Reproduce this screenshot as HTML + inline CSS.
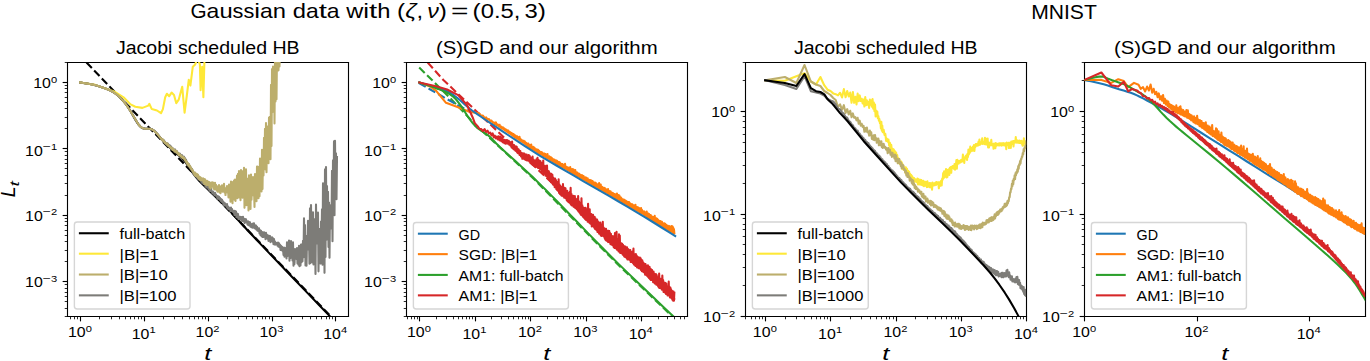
<!DOCTYPE html>
<html><head><meta charset="utf-8"><title>figure</title>
<style>html,body{margin:0;padding:0;background:#fff;overflow:hidden}
svg{display:block}
text{font-family:"Liberation Sans",sans-serif}
</style></head><body>
<svg width="1370" height="361" viewBox="0 0 986.4 259.92" version="1.1">
<defs>
<style type="text/css">*{stroke-linejoin: round; stroke-linecap: butt}</style>
</defs>
<g id="figure_1">
<g id="patch_1">
<path d="M 0 259.92 
L 986.4 259.92 
L 986.4 0 
L 0 0 
z
" style="fill: #ffffff"/>
</g>
<g id="axes_1">
<g id="patch_2">
<path d="M 48.55 227.52 
L 250.67 227.52 
L 250.67 44.64 
L 48.55 44.64 
z
" style="fill: #ffffff"/>
</g>
<g id="line2d_1">
<path d="M 62.28 45 
L 238.32 227.88 
" clip-path="url(#pd9ea89037b)" style="fill: none; stroke-dasharray: 5.55,2.4; stroke-dashoffset: 0; stroke: #000000; stroke-width: 1.5"/>
</g>
<g id="matplotlib.axis_1">
<g id="xtick_1">
<g id="line2d_2">
<defs>
<path id="m1504cfccaf" d="M 0 0 
L 0 3.5 
" style="stroke: #000000; stroke-width: 0.8"/>
</defs>
<g>
<use href="#m1504cfccaf" x="57.96" y="227.88" style="stroke: #000000; stroke-width: 0.8"/>
</g>
</g>
<g id="text_1">
<g transform="translate(48.94 243.91)">
<text>
<tspan x="0" y="-0.97" style="font-size: 10px; font-family: 'Liberation Sans', sans-serif" textLength="6.36" lengthAdjust="spacingAndGlyphs">1</tspan>
<tspan x="6.36" y="-0.97" style="font-size: 10px; font-family: 'Liberation Sans', sans-serif" textLength="6.36" lengthAdjust="spacingAndGlyphs">0</tspan>
<tspan x="12.82" y="-4.80" style="font-size: 7px; font-family: 'Liberation Sans', sans-serif" textLength="4.45" lengthAdjust="spacingAndGlyphs">0</tspan>
</text>
</g>
</g>
</g>
<g id="xtick_2">
<g id="line2d_3">
<g>
<use href="#m1504cfccaf" x="104.04" y="227.88" style="stroke: #000000; stroke-width: 0.8"/>
</g>
</g>
<g id="text_2">
<g transform="translate(94.88 243.91)">
<text>
<tspan x="0" y="-0.06" style="font-size: 10px; font-family: 'Liberation Sans', sans-serif" textLength="6.36" lengthAdjust="spacingAndGlyphs">1</tspan>
<tspan x="6.36" y="-0.06" style="font-size: 10px; font-family: 'Liberation Sans', sans-serif" textLength="6.36" lengthAdjust="spacingAndGlyphs">0</tspan>
<tspan x="12.82" y="-3.89" style="font-size: 7px; font-family: 'Liberation Sans', sans-serif" textLength="4.45" lengthAdjust="spacingAndGlyphs">1</tspan>
</text>
</g>
</g>
</g>
<g id="xtick_3">
<g id="line2d_4">
<g>
<use href="#m1504cfccaf" x="150.12" y="227.88" style="stroke: #000000; stroke-width: 0.8"/>
</g>
</g>
<g id="text_3">
<g transform="translate(140.81 243.91)">
<text>
<tspan x="0" y="-0.97" style="font-size: 10px; font-family: 'Liberation Sans', sans-serif" textLength="6.36" lengthAdjust="spacingAndGlyphs">1</tspan>
<tspan x="6.36" y="-0.97" style="font-size: 10px; font-family: 'Liberation Sans', sans-serif" textLength="6.36" lengthAdjust="spacingAndGlyphs">0</tspan>
<tspan x="12.82" y="-4.80" style="font-size: 7px; font-family: 'Liberation Sans', sans-serif" textLength="4.45" lengthAdjust="spacingAndGlyphs">2</tspan>
</text>
</g>
</g>
</g>
<g id="xtick_4">
<g id="line2d_5">
<g>
<use href="#m1504cfccaf" x="196.20" y="227.88" style="stroke: #000000; stroke-width: 0.8"/>
</g>
</g>
<g id="text_4">
<g transform="translate(186.75 243.91)">
<text>
<tspan x="0" y="-0.97" style="font-size: 10px; font-family: 'Liberation Sans', sans-serif" textLength="6.36" lengthAdjust="spacingAndGlyphs">1</tspan>
<tspan x="6.36" y="-0.97" style="font-size: 10px; font-family: 'Liberation Sans', sans-serif" textLength="6.36" lengthAdjust="spacingAndGlyphs">0</tspan>
<tspan x="12.82" y="-4.80" style="font-size: 7px; font-family: 'Liberation Sans', sans-serif" textLength="4.45" lengthAdjust="spacingAndGlyphs">3</tspan>
</text>
</g>
</g>
</g>
<g id="xtick_5">
<g id="line2d_6">
<g>
<use href="#m1504cfccaf" x="241.56" y="227.88" style="stroke: #000000; stroke-width: 0.8"/>
</g>
</g>
<g id="text_5">
<g transform="translate(232.68 243.91)">
<text>
<tspan x="0" y="-0.06" style="font-size: 10px; font-family: 'Liberation Sans', sans-serif" textLength="6.36" lengthAdjust="spacingAndGlyphs">1</tspan>
<tspan x="6.36" y="-0.06" style="font-size: 10px; font-family: 'Liberation Sans', sans-serif" textLength="6.36" lengthAdjust="spacingAndGlyphs">0</tspan>
<tspan x="12.82" y="-3.89" style="font-size: 7px; font-family: 'Liberation Sans', sans-serif" textLength="4.45" lengthAdjust="spacingAndGlyphs">4</tspan>
</text>
</g>
</g>
</g>
<g id="xtick_6">
<g id="line2d_7">
<defs>
<path id="m05db3bdf9b" d="M 0 0 
L 0 2 
" style="stroke: #000000; stroke-width: 0.6"/>
</defs>
<g>
<use href="#m05db3bdf9b" x="50.76" y="227.88" style="stroke: #000000; stroke-width: 0.6"/>
</g>
</g>
</g>
<g id="xtick_7">
<g id="line2d_8">
<g>
<use href="#m05db3bdf9b" x="53.64" y="227.88" style="stroke: #000000; stroke-width: 0.6"/>
</g>
</g>
</g>
<g id="xtick_8">
<g id="line2d_9">
<g>
<use href="#m05db3bdf9b" x="55.80" y="227.88" style="stroke: #000000; stroke-width: 0.6"/>
</g>
</g>
</g>
<g id="xtick_9">
<g id="line2d_10">
<g>
<use href="#m05db3bdf9b" x="71.64" y="227.88" style="stroke: #000000; stroke-width: 0.6"/>
</g>
</g>
</g>
<g id="xtick_10">
<g id="line2d_11">
<g>
<use href="#m05db3bdf9b" x="80.28" y="227.88" style="stroke: #000000; stroke-width: 0.6"/>
</g>
</g>
</g>
<g id="xtick_11">
<g id="line2d_12">
<g>
<use href="#m05db3bdf9b" x="86.04" y="227.88" style="stroke: #000000; stroke-width: 0.6"/>
</g>
</g>
</g>
<g id="xtick_12">
<g id="line2d_13">
<g>
<use href="#m05db3bdf9b" x="90.36" y="227.88" style="stroke: #000000; stroke-width: 0.6"/>
</g>
</g>
</g>
<g id="xtick_13">
<g id="line2d_14">
<g>
<use href="#m05db3bdf9b" x="93.96" y="227.88" style="stroke: #000000; stroke-width: 0.6"/>
</g>
</g>
</g>
<g id="xtick_14">
<g id="line2d_15">
<g>
<use href="#m05db3bdf9b" x="96.84" y="227.88" style="stroke: #000000; stroke-width: 0.6"/>
</g>
</g>
</g>
<g id="xtick_15">
<g id="line2d_16">
<g>
<use href="#m05db3bdf9b" x="99.72" y="227.88" style="stroke: #000000; stroke-width: 0.6"/>
</g>
</g>
</g>
<g id="xtick_16">
<g id="line2d_17">
<g>
<use href="#m05db3bdf9b" x="101.88" y="227.88" style="stroke: #000000; stroke-width: 0.6"/>
</g>
</g>
</g>
<g id="xtick_17">
<g id="line2d_18">
<g>
<use href="#m05db3bdf9b" x="117.72" y="227.88" style="stroke: #000000; stroke-width: 0.6"/>
</g>
</g>
</g>
<g id="xtick_18">
<g id="line2d_19">
<g>
<use href="#m05db3bdf9b" x="125.64" y="227.88" style="stroke: #000000; stroke-width: 0.6"/>
</g>
</g>
</g>
<g id="xtick_19">
<g id="line2d_20">
<g>
<use href="#m05db3bdf9b" x="131.40" y="227.88" style="stroke: #000000; stroke-width: 0.6"/>
</g>
</g>
</g>
<g id="xtick_20">
<g id="line2d_21">
<g>
<use href="#m05db3bdf9b" x="136.44" y="227.88" style="stroke: #000000; stroke-width: 0.6"/>
</g>
</g>
</g>
<g id="xtick_21">
<g id="line2d_22">
<g>
<use href="#m05db3bdf9b" x="140.04" y="227.88" style="stroke: #000000; stroke-width: 0.6"/>
</g>
</g>
</g>
<g id="xtick_22">
<g id="line2d_23">
<g>
<use href="#m05db3bdf9b" x="142.92" y="227.88" style="stroke: #000000; stroke-width: 0.6"/>
</g>
</g>
</g>
<g id="xtick_23">
<g id="line2d_24">
<g>
<use href="#m05db3bdf9b" x="145.80" y="227.88" style="stroke: #000000; stroke-width: 0.6"/>
</g>
</g>
</g>
<g id="xtick_24">
<g id="line2d_25">
<g>
<use href="#m05db3bdf9b" x="147.96" y="227.88" style="stroke: #000000; stroke-width: 0.6"/>
</g>
</g>
</g>
<g id="xtick_25">
<g id="line2d_26">
<g>
<use href="#m05db3bdf9b" x="163.80" y="227.88" style="stroke: #000000; stroke-width: 0.6"/>
</g>
</g>
</g>
<g id="xtick_26">
<g id="line2d_27">
<g>
<use href="#m05db3bdf9b" x="171.72" y="227.88" style="stroke: #000000; stroke-width: 0.6"/>
</g>
</g>
</g>
<g id="xtick_27">
<g id="line2d_28">
<g>
<use href="#m05db3bdf9b" x="177.48" y="227.88" style="stroke: #000000; stroke-width: 0.6"/>
</g>
</g>
</g>
<g id="xtick_28">
<g id="line2d_29">
<g>
<use href="#m05db3bdf9b" x="181.80" y="227.88" style="stroke: #000000; stroke-width: 0.6"/>
</g>
</g>
</g>
<g id="xtick_29">
<g id="line2d_30">
<g>
<use href="#m05db3bdf9b" x="185.40" y="227.88" style="stroke: #000000; stroke-width: 0.6"/>
</g>
</g>
</g>
<g id="xtick_30">
<g id="line2d_31">
<g>
<use href="#m05db3bdf9b" x="189.00" y="227.88" style="stroke: #000000; stroke-width: 0.6"/>
</g>
</g>
</g>
<g id="xtick_31">
<g id="line2d_32">
<g>
<use href="#m05db3bdf9b" x="191.16" y="227.88" style="stroke: #000000; stroke-width: 0.6"/>
</g>
</g>
</g>
<g id="xtick_32">
<g id="line2d_33">
<g>
<use href="#m05db3bdf9b" x="194.04" y="227.88" style="stroke: #000000; stroke-width: 0.6"/>
</g>
</g>
</g>
<g id="xtick_33">
<g id="line2d_34">
<g>
<use href="#m05db3bdf9b" x="209.88" y="227.88" style="stroke: #000000; stroke-width: 0.6"/>
</g>
</g>
</g>
<g id="xtick_34">
<g id="line2d_35">
<g>
<use href="#m05db3bdf9b" x="217.80" y="227.88" style="stroke: #000000; stroke-width: 0.6"/>
</g>
</g>
</g>
<g id="xtick_35">
<g id="line2d_36">
<g>
<use href="#m05db3bdf9b" x="223.56" y="227.88" style="stroke: #000000; stroke-width: 0.6"/>
</g>
</g>
</g>
<g id="xtick_36">
<g id="line2d_37">
<g>
<use href="#m05db3bdf9b" x="227.88" y="227.88" style="stroke: #000000; stroke-width: 0.6"/>
</g>
</g>
</g>
<g id="xtick_37">
<g id="line2d_38">
<g>
<use href="#m05db3bdf9b" x="231.48" y="227.88" style="stroke: #000000; stroke-width: 0.6"/>
</g>
</g>
</g>
<g id="xtick_38">
<g id="line2d_39">
<g>
<use href="#m05db3bdf9b" x="235.08" y="227.88" style="stroke: #000000; stroke-width: 0.6"/>
</g>
</g>
</g>
<g id="xtick_39">
<g id="line2d_40">
<g>
<use href="#m05db3bdf9b" x="237.24" y="227.88" style="stroke: #000000; stroke-width: 0.6"/>
</g>
</g>
</g>
<g id="xtick_40">
<g id="line2d_41">
<g>
<use href="#m05db3bdf9b" x="239.40" y="227.88" style="stroke: #000000; stroke-width: 0.6"/>
</g>
</g>
</g>
<g id="text_6">
<g transform="translate(147.01 259.89)">
<text>
<tspan x="0" y="-0.87" style="font-style: oblique; font-size: 13px; font-family: 'Liberation Sans', sans-serif" textLength="5.10" lengthAdjust="spacingAndGlyphs">t</tspan>
</text>
</g>
</g>
</g>
<g id="matplotlib.axis_2">
<g id="ytick_1">
<g id="line2d_42">
<defs>
<path id="m5d545ce8f8" d="M 0 0 
L -3.5 0 
" style="stroke: #000000; stroke-width: 0.8"/>
</defs>
<g>
<use href="#m5d545ce8f8" x="48.60" y="202.68" style="stroke: #000000; stroke-width: 0.8"/>
</g>
</g>
<g id="text_7">
<g transform="translate(18.05 207.75)">
<text>
<tspan x="0" y="-0.97" style="font-size: 10px; font-family: 'Liberation Sans', sans-serif" textLength="6.36" lengthAdjust="spacingAndGlyphs">1</tspan>
<tspan x="6.36" y="-0.97" style="font-size: 10px; font-family: 'Liberation Sans', sans-serif" textLength="6.36" lengthAdjust="spacingAndGlyphs">0</tspan>
<tspan x="12.82" y="-4.80" style="font-size: 7px; font-family: 'Liberation Sans', sans-serif" textLength="5.87" lengthAdjust="spacingAndGlyphs">−</tspan>
<tspan x="18.68" y="-4.80" style="font-size: 7px; font-family: 'Liberation Sans', sans-serif" textLength="4.45" lengthAdjust="spacingAndGlyphs">3</tspan>
</text>
</g>
</g>
</g>
<g id="ytick_2">
<g id="line2d_43">
<g>
<use href="#m5d545ce8f8" x="48.60" y="155.16" style="stroke: #000000; stroke-width: 0.8"/>
</g>
</g>
<g id="text_8">
<g transform="translate(18.05 159.92)">
<text>
<tspan x="0" y="-0.97" style="font-size: 10px; font-family: 'Liberation Sans', sans-serif" textLength="6.36" lengthAdjust="spacingAndGlyphs">1</tspan>
<tspan x="6.36" y="-0.97" style="font-size: 10px; font-family: 'Liberation Sans', sans-serif" textLength="6.36" lengthAdjust="spacingAndGlyphs">0</tspan>
<tspan x="12.82" y="-4.80" style="font-size: 7px; font-family: 'Liberation Sans', sans-serif" textLength="5.87" lengthAdjust="spacingAndGlyphs">−</tspan>
<tspan x="18.68" y="-4.80" style="font-size: 7px; font-family: 'Liberation Sans', sans-serif" textLength="4.45" lengthAdjust="spacingAndGlyphs">2</tspan>
</text>
</g>
</g>
</g>
<g id="ytick_3">
<g id="line2d_44">
<g>
<use href="#m5d545ce8f8" x="48.60" y="106.92" style="stroke: #000000; stroke-width: 0.8"/>
</g>
</g>
<g id="text_9">
<g transform="translate(18.05 112.10)">
<text>
<tspan x="0" y="-0.06" style="font-size: 10px; font-family: 'Liberation Sans', sans-serif" textLength="6.36" lengthAdjust="spacingAndGlyphs">1</tspan>
<tspan x="6.36" y="-0.06" style="font-size: 10px; font-family: 'Liberation Sans', sans-serif" textLength="6.36" lengthAdjust="spacingAndGlyphs">0</tspan>
<tspan x="12.82" y="-3.89" style="font-size: 7px; font-family: 'Liberation Sans', sans-serif" textLength="5.87" lengthAdjust="spacingAndGlyphs">−</tspan>
<tspan x="18.68" y="-3.89" style="font-size: 7px; font-family: 'Liberation Sans', sans-serif" textLength="4.45" lengthAdjust="spacingAndGlyphs">1</tspan>
</text>
</g>
</g>
</g>
<g id="ytick_4">
<g id="line2d_45">
<g>
<use href="#m5d545ce8f8" x="48.60" y="59.40" style="stroke: #000000; stroke-width: 0.8"/>
</g>
</g>
<g id="text_10">
<g transform="translate(23.95 64.27)">
<text>
<tspan x="0" y="-0.97" style="font-size: 10px; font-family: 'Liberation Sans', sans-serif" textLength="6.36" lengthAdjust="spacingAndGlyphs">1</tspan>
<tspan x="6.36" y="-0.97" style="font-size: 10px; font-family: 'Liberation Sans', sans-serif" textLength="6.36" lengthAdjust="spacingAndGlyphs">0</tspan>
<tspan x="12.82" y="-4.80" style="font-size: 7px; font-family: 'Liberation Sans', sans-serif" textLength="4.45" lengthAdjust="spacingAndGlyphs">0</tspan>
</text>
</g>
</g>
</g>
<g id="ytick_5">
<g id="line2d_46">
<defs>
<path id="mc3d89a154a" d="M 0 0 
L -2 0 
" style="stroke: #000000; stroke-width: 0.6"/>
</defs>
<g>
<use href="#mc3d89a154a" x="48.60" y="227.88" style="stroke: #000000; stroke-width: 0.6"/>
</g>
</g>
</g>
<g id="ytick_6">
<g id="line2d_47">
<g>
<use href="#mc3d89a154a" x="48.60" y="222.12" style="stroke: #000000; stroke-width: 0.6"/>
</g>
</g>
</g>
<g id="ytick_7">
<g id="line2d_48">
<g>
<use href="#mc3d89a154a" x="48.60" y="217.08" style="stroke: #000000; stroke-width: 0.6"/>
</g>
</g>
</g>
<g id="ytick_8">
<g id="line2d_49">
<g>
<use href="#mc3d89a154a" x="48.60" y="213.48" style="stroke: #000000; stroke-width: 0.6"/>
</g>
</g>
</g>
<g id="ytick_9">
<g id="line2d_50">
<g>
<use href="#mc3d89a154a" x="48.60" y="210.60" style="stroke: #000000; stroke-width: 0.6"/>
</g>
</g>
</g>
<g id="ytick_10">
<g id="line2d_51">
<g>
<use href="#mc3d89a154a" x="48.60" y="207.72" style="stroke: #000000; stroke-width: 0.6"/>
</g>
</g>
</g>
<g id="ytick_11">
<g id="line2d_52">
<g>
<use href="#mc3d89a154a" x="48.60" y="204.84" style="stroke: #000000; stroke-width: 0.6"/>
</g>
</g>
</g>
<g id="ytick_12">
<g id="line2d_53">
<g>
<use href="#mc3d89a154a" x="48.60" y="188.28" style="stroke: #000000; stroke-width: 0.6"/>
</g>
</g>
</g>
<g id="ytick_13">
<g id="line2d_54">
<g>
<use href="#mc3d89a154a" x="48.60" y="180.36" style="stroke: #000000; stroke-width: 0.6"/>
</g>
</g>
</g>
<g id="ytick_14">
<g id="line2d_55">
<g>
<use href="#mc3d89a154a" x="48.60" y="173.88" style="stroke: #000000; stroke-width: 0.6"/>
</g>
</g>
</g>
<g id="ytick_15">
<g id="line2d_56">
<g>
<use href="#mc3d89a154a" x="48.60" y="169.56" style="stroke: #000000; stroke-width: 0.6"/>
</g>
</g>
</g>
<g id="ytick_16">
<g id="line2d_57">
<g>
<use href="#mc3d89a154a" x="48.60" y="165.96" style="stroke: #000000; stroke-width: 0.6"/>
</g>
</g>
</g>
<g id="ytick_17">
<g id="line2d_58">
<g>
<use href="#mc3d89a154a" x="48.60" y="162.36" style="stroke: #000000; stroke-width: 0.6"/>
</g>
</g>
</g>
<g id="ytick_18">
<g id="line2d_59">
<g>
<use href="#mc3d89a154a" x="48.60" y="159.48" style="stroke: #000000; stroke-width: 0.6"/>
</g>
</g>
</g>
<g id="ytick_19">
<g id="line2d_60">
<g>
<use href="#mc3d89a154a" x="48.60" y="157.32" style="stroke: #000000; stroke-width: 0.6"/>
</g>
</g>
</g>
<g id="ytick_20">
<g id="line2d_61">
<g>
<use href="#mc3d89a154a" x="48.60" y="140.76" style="stroke: #000000; stroke-width: 0.6"/>
</g>
</g>
</g>
<g id="ytick_21">
<g id="line2d_62">
<g>
<use href="#mc3d89a154a" x="48.60" y="132.12" style="stroke: #000000; stroke-width: 0.6"/>
</g>
</g>
</g>
<g id="ytick_22">
<g id="line2d_63">
<g>
<use href="#mc3d89a154a" x="48.60" y="126.36" style="stroke: #000000; stroke-width: 0.6"/>
</g>
</g>
</g>
<g id="ytick_23">
<g id="line2d_64">
<g>
<use href="#mc3d89a154a" x="48.60" y="121.32" style="stroke: #000000; stroke-width: 0.6"/>
</g>
</g>
</g>
<g id="ytick_24">
<g id="line2d_65">
<g>
<use href="#mc3d89a154a" x="48.60" y="117.72" style="stroke: #000000; stroke-width: 0.6"/>
</g>
</g>
</g>
<g id="ytick_25">
<g id="line2d_66">
<g>
<use href="#mc3d89a154a" x="48.60" y="114.84" style="stroke: #000000; stroke-width: 0.6"/>
</g>
</g>
</g>
<g id="ytick_26">
<g id="line2d_67">
<g>
<use href="#mc3d89a154a" x="48.60" y="111.96" style="stroke: #000000; stroke-width: 0.6"/>
</g>
</g>
</g>
<g id="ytick_27">
<g id="line2d_68">
<g>
<use href="#mc3d89a154a" x="48.60" y="109.08" style="stroke: #000000; stroke-width: 0.6"/>
</g>
</g>
</g>
<g id="ytick_28">
<g id="line2d_69">
<g>
<use href="#mc3d89a154a" x="48.60" y="92.52" style="stroke: #000000; stroke-width: 0.6"/>
</g>
</g>
</g>
<g id="ytick_29">
<g id="line2d_70">
<g>
<use href="#mc3d89a154a" x="48.60" y="84.60" style="stroke: #000000; stroke-width: 0.6"/>
</g>
</g>
</g>
<g id="ytick_30">
<g id="line2d_71">
<g>
<use href="#mc3d89a154a" x="48.60" y="78.12" style="stroke: #000000; stroke-width: 0.6"/>
</g>
</g>
</g>
<g id="ytick_31">
<g id="line2d_72">
<g>
<use href="#mc3d89a154a" x="48.60" y="73.80" style="stroke: #000000; stroke-width: 0.6"/>
</g>
</g>
</g>
<g id="ytick_32">
<g id="line2d_73">
<g>
<use href="#mc3d89a154a" x="48.60" y="70.20" style="stroke: #000000; stroke-width: 0.6"/>
</g>
</g>
</g>
<g id="ytick_33">
<g id="line2d_74">
<g>
<use href="#mc3d89a154a" x="48.60" y="66.60" style="stroke: #000000; stroke-width: 0.6"/>
</g>
</g>
</g>
<g id="ytick_34">
<g id="line2d_75">
<g>
<use href="#mc3d89a154a" x="48.60" y="63.72" style="stroke: #000000; stroke-width: 0.6"/>
</g>
</g>
</g>
<g id="ytick_35">
<g id="line2d_76">
<g>
<use href="#mc3d89a154a" x="48.60" y="61.56" style="stroke: #000000; stroke-width: 0.6"/>
</g>
</g>
</g>
<g id="ytick_36">
<g id="line2d_77">
<g>
<use href="#mc3d89a154a" x="48.60" y="45.00" style="stroke: #000000; stroke-width: 0.6"/>
</g>
</g>
</g>
<g id="text_11">
<g transform="translate(11.84 142.1) rotate(-90)">
<text>
<tspan x="0" y="-0.79" style="font-style: oblique; font-size: 14px; font-family: 'Liberation Sans', sans-serif" textLength="7.80" lengthAdjust="spacingAndGlyphs">L</tspan>
<tspan x="7.79" y="1.5" style="font-style: oblique; font-size: 9.8px; font-family: 'Liberation Sans', sans-serif" textLength="3.84" lengthAdjust="spacingAndGlyphs">t</tspan>
</text>
</g>
</g>
</g>
<g id="line2d_78">
<path d="M 57.81 59.4 
L 58.49 59.50 
L 59.84 59.72 
L 61.86 60.04 
L 64.56 60.48 
L 67.27 61.04 
L 70.00 61.74 
L 72.74 62.58 
L 75.50 63.55 
L 77.88 64.49 
L 79.88 65.40 
L 81.52 66.28 
L 82.78 67.13 
L 83.99 68.03 
L 85.15 68.98 
L 86.26 69.99 
L 87.32 71.05 
L 88.38 72.22 
L 89.45 73.48 
L 90.51 74.86 
L 91.57 76.33 
L 92.63 77.92 
L 93.69 79.61 
L 94.76 81.41 
L 95.82 83.32 
L 96.83 85.07 
L 97.78 86.66 
L 98.68 88.10 
L 99.53 89.37 
L 100.37 90.44 
L 101.22 91.28 
L 102.06 91.91 
L 102.91 92.33 
L 103.81 92.61 
L 104.76 92.75 
L 105.77 92.76 
L 106.83 92.63 
L 107.84 92.68 
L 108.80 92.89 
L 109.70 93.28 
L 110.54 93.84 
L 111.43 94.58 
L 112.37 95.49 
L 113.35 96.59 
L 114.38 97.87 
L 115.60 99.30 
L 117.01 100.87 
L 118.62 102.6 
L 120.42 104.47 
L 122.37 106.37 
L 124.47 108.29 
L 126.73 110.25 
L 129.15 112.23 
L 131.43 114.46 
L 133.59 116.94 
L 135.63 119.68 
L 137.53 122.67 
L 139.46 125.41 
L 141.40 127.90 
L 143.37 130.14 
L 145.35 132.14 
L 147.37 134.15 
L 149.44 136.17 
L 151.56 138.19 
L 153.72 140.22 
L 155.88 142.29 
L 158.04 144.39 
L 160.2 146.52 
L 162.36 148.68 
L 164.52 150.90 
L 166.70 153.20 
L 168.89 155.56 
L 171.09 157.99 
L 173.13 160.24 
L 175.02 162.31 
L 176.76 164.20 
L 178.34 165.91 
L 180.43 168.14 
L 183.02 170.88 
L 186.12 174.15 
L 189.72 177.93 
L 195.03 183.49 
L 202.07 190.83 
L 210.83 199.96 
L 221.31 210.87 
L 229.87 219.78 
L 236.53 226.71 
L 241.29 231.66 
L 244.13 234.61 
L 246.26 236.82 
L 247.68 238.30 
L 248.4 239.04 
" clip-path="url(#pd9ea89037b)" style="fill: none; stroke: #000000; stroke-width: 1.5; stroke-linecap: square"/>
</g>
<g id="patch_3">
<path d="M 48.60 227.88 L 48.60 45.00" style="fill: none; stroke: #000000; stroke-width: 0.8; stroke-linejoin: miter; stroke-linecap: square"/>
</g>
<g id="patch_4">
<path d="M 250.92 227.88 L 250.92 45.00" style="fill: none; stroke: #000000; stroke-width: 0.8; stroke-linejoin: miter; stroke-linecap: square"/>
</g>
<g id="patch_5">
<path d="M 48.60 227.88 L 250.92 227.88" style="fill: none; stroke: #000000; stroke-width: 0.8; stroke-linejoin: miter; stroke-linecap: square"/>
</g>
<g id="patch_6">
<path d="M 48.60 45.00 L 250.92 45.00" style="fill: none; stroke: #000000; stroke-width: 0.8; stroke-linejoin: miter; stroke-linecap: square"/>
</g>
<g id="line2d_79">
<path d="M 57.81 59.4 
L 68.61 61.12 
L 79.63 65.01 
L 82.15 65.80 
L 88.92 70.05 
L 94.03 75.16 
L 97.41 76.89 
L 102.52 77.68 
L 106.77 76.03 
L 107.56 74.80 
L 109.29 78.55 
L 113.04 79.56 
L 115.92 81.50 
L 117.28 78.55 
L 118.94 70.05 
L 120.16 67.53 
L 121.82 69.26 
L 123.55 66.67 
L 125.28 68.4 
L 126.93 74.30 
L 128.66 71.78 
L 131.18 62.42 
L 132.91 81.07 
L 134.56 68.4 
L 135.93 57.38 
L 137.08 61.63 
L 138.81 48.02 
L 140.54 46.36 
L 142.2 41.76 
L 143.92 46.36 
L 144.43 65.01 
L 145.58 48.02 
L 146.44 70.05 
L 147.31 39.6 
L 148.32 28.8 
" clip-path="url(#pd9ea89037b)" style="fill: none; stroke: #fee838; stroke-width: 1.5; stroke-linecap: square"/>
</g>
<g id="text_12">
<text style="font-size: 13px; font-family: 'Liberation Sans', sans-serif; text-anchor: middle" x="149.61" y="38.64" transform="rotate(-0 149.61 38.64)" textLength="132.23" lengthAdjust="spacingAndGlyphs">Jacobi scheduled HB</text>
</g>
<g id="line2d_80">
<path d="M 57.81 59.4 
L 66.60 60.90 
L 70.69 61.95 
L 74.81 63.31 
L 78.38 64.72 
L 81.11 66.06 
L 83.08 67.35 
L 85.43 69.23 
L 87.59 71.34 
L 89.71 73.83 
L 91.84 76.73 
L 93.96 80.06 
L 99.74 89.64 
L 101.01 91.07 
L 101.85 91.75 
L 102.70 92.22 
L 104.05 92.64 
L 105.52 92.76 
L 107.59 92.67 
L 108.56 92.84 
L 109.47 93.18 
L 110.33 93.70 
L 111.67 94.81 
L 113.10 96.32 
L 116.28 100.23 
L 116.64 100.24 
L 117 100.83 
L 117.36 100.69 
L 117.72 101.64 
L 118.08 101.12 
L 118.44 102.33 
L 118.8 102.02 
L 119.16 103.19 
L 119.52 102.77 
L 119.88 103.47 
L 120.24 103.14 
L 120.6 104.51 
L 120.96 103.43 
L 121.32 105.07 
L 121.68 104.37 
L 122.04 105.71 
L 122.4 104.81 
L 122.76 106.13 
L 123.12 105.44 
L 123.48 107.00 
L 123.84 106.29 
L 124.2 107.60 
L 124.56 106.84 
L 124.92 108.28 
L 125.28 107.56 
L 125.64 108.20 
L 126 107.51 
L 126.36 109.42 
L 126.72 108.86 
L 127.08 110.00 
L 127.44 108.90 
L 127.8 110.13 
L 128.16 110.04 
L 128.52 110.88 
L 128.88 110.65 
L 129.24 111.52 
L 129.6 110.73 
L 129.96 111.73 
L 130.32 111.63 
L 130.68 112.47 
L 131.04 111.72 
L 131.4 112.96 
L 131.76 113.02 
L 132.12 113.92 
L 132.48 112.81 
L 132.84 114.62 
L 133.2 113.86 
L 133.56 115.63 
L 133.92 115.01 
L 134.28 116.80 
L 134.64 116.74 
L 135 118.24 
L 135.36 117.79 
L 135.72 119.23 
L 136.08 118.22 
L 136.44 120.04 
L 136.8 119.46 
L 137.16 121.21 
L 137.52 120.73 
L 137.88 122.13 
L 138.24 121.61 
L 138.6 123.17 
L 138.96 122.82 
L 139.32 124.96 
L 139.68 124.31 
L 140.04 126.13 
L 140.4 125.28 
L 140.76 126.42 
L 141.12 126.38 
L 141.48 127.64 
L 141.84 126.82 
L 142.2 128.31 
L 142.56 127.15 
L 142.92 128.93 
L 143.28 127.98 
L 143.64 129.52 
L 144 128.72 
L 144.36 129.84 
L 144.72 129.09 
L 145.08 131.29 
L 145.44 129.87 
L 145.8 131.80 
L 146.16 131.25 
L 146.52 132.48 
L 146.88 131.56 
L 147.24 132.64 
L 147.6 132.39 
L 147.96 134.26 
L 148.32 132.61 
L 148.68 134.90 
L 149.04 133.69 
L 149.4 134.90 
L 149.76 134.36 
L 150.12 136.04 
L 150.48 134.77 
L 150.84 137.22 
L 151.2 135.71 
L 151.56 137.55 
L 151.92 135.96 
L 152.28 137.86 
L 152.64 137.69 
L 153 139.27 
L 153.36 137.96 
L 153.72 139.42 
L 154.08 138.80 
L 154.44 140.55 
L 154.8 138.82 
L 155.16 140.58 
L 155.52 140.13 
L 155.88 141.37 
L 156.24 140.93 
L 156.6 143.11 
L 156.96 141.40 
L 157.32 143.12 
L 157.68 141.64 
L 158.04 143.46 
L 158.4 142.49 
L 158.76 144.43 
L 159.12 143.21 
L 159.48 145.18 
L 159.84 143.77 
L 160.2 145.49 
L 160.56 144.96 
L 160.92 147.41 
L 161.28 145.80 
L 161.64 147.91 
L 162 146.27 
L 162.36 147.74 
L 162.72 147.38 
L 163.08 148.96 
L 163.44 146.89 
L 163.8 149.93 
L 164.16 148.69 
L 164.52 150.66 
L 164.88 149.32 
L 165.24 150.45 
L 165.6 149.84 
L 165.96 152.13 
L 166.32 149.43 
L 166.68 151.80 
L 167.04 150.45 
L 167.4 152.29 
L 167.76 152.00 
L 168.12 152.88 
L 168.48 151.77 
L 168.84 154.72 
L 169.2 151.96 
L 169.56 154.77 
L 169.92 152.30 
L 170.28 156.46 
L 170.64 153.68 
L 171 156.48 
L 171.36 154.19 
L 171.72 157.60 
L 172.08 156.02 
L 172.44 157.71 
L 172.8 156.03 
L 173.16 157.60 
L 173.52 156.28 
L 173.88 158.95 
L 174.24 156.37 
L 174.6 159.17 
L 174.96 156.17 
L 175.32 159.09 
L 175.68 157.50 
L 176.04 160.65 
L 176.4 157.72 
L 176.76 160.04 
L 177.12 157.86 
L 177.48 159.99 
L 177.84 159.34 
L 178.2 161.53 
L 178.56 159.37 
L 178.92 162.17 
L 179.28 159.92 
L 179.64 162.29 
L 180 160.01 
L 180.36 163.14 
L 180.72 161.23 
L 181.08 163.50 
L 181.44 161.66 
L 181.8 163.90 
L 182.16 161.03 
L 182.52 163.78 
L 182.88 160.85 
L 183.24 164.29 
L 183.6 162.15 
L 183.96 164.67 
L 184.32 162.37 
L 184.68 165.37 
L 185.04 163.22 
L 185.4 166.05 
L 185.76 164.30 
L 186.12 166.32 
L 186.48 164.34 
L 186.84 168.01 
L 187.2 165.72 
L 187.56 169.22 
L 187.92 166.08 
L 188.28 170.05 
L 188.64 167.11 
L 189 170.62 
L 189.36 167.43 
L 189.72 170.59 
L 190.08 167.24 
L 190.44 170.15 
L 190.8 167.70 
L 191.16 172.16 
L 191.52 167.57 
L 191.88 171.21 
L 192.24 169.07 
L 192.6 171.89 
L 192.96 169.56 
L 193.32 173.46 
L 193.68 169.78 
L 194.04 172.04 
L 194.4 170.02 
L 194.76 174.32 
L 195.12 171.99 
L 195.48 173.14 
L 195.84 170.79 
L 196.2 174.00 
L 196.56 171.65 
L 196.92 175.73 
L 197.28 172.08 
L 197.64 176.07 
L 198 173.93 
L 198.36 176.10 
L 198.72 174.74 
L 199.08 175.85 
L 199.44 175.04 
L 199.8 176.85 
L 200.16 174.62 
L 200.52 177.56 
L 200.88 175.08 
L 201.24 177.79 
L 201.6 176.24 
L 201.96 179.96 
L 202.32 176.94 
L 202.68 179.98 
L 203.04 177.64 
L 203.4 180.56 
L 203.76 179.03 
L 204.12 183.52 
L 204.48 178.25 
L 204.84 184.89 
L 205.2 179.80 
L 205.56 182.33 
L 205.92 178.33 
L 206.28 186.05 
L 206.64 174.53 
L 207 184.29 
L 207.36 174.86 
L 207.72 182.11 
L 208.08 173.14 
L 208.44 187.79 
L 208.8 178.81 
L 209.16 185.78 
L 209.52 173.59 
L 209.88 184.93 
L 210.24 180.12 
L 210.6 187.48 
L 210.96 174.49 
L 211.32 191.25 
L 211.68 180.83 
L 212.04 190.00 
L 212.4 179.29 
L 212.76 185.86 
L 213.12 179.41 
L 213.48 186.50 
L 213.84 178.59 
L 214.2 189.68 
L 214.56 181.12 
L 214.92 190.54 
L 215.28 176.97 
L 215.64 191.68 
L 216 181.87 
L 216.36 191.14 
L 216.72 176.12 
L 217.08 188.84 
L 217.44 175.88 
L 217.8 188.07 
L 218.16 173.38 
L 218.52 185.21 
L 218.88 157.20 
L 219.24 183.70 
L 219.6 161.95 
L 219.96 191.19 
L 220.32 169.77 
L 220.68 191.24 
L 221.04 172.27 
L 221.4 178.99 
L 221.76 158.97 
L 222.12 179.64 
L 222.48 168.79 
L 222.84 189.83 
L 223.2 149.94 
L 223.56 189.30 
L 223.92 147.60 
L 224.28 176.56 
L 224.64 169.03 
L 225 188.92 
L 225.36 152.88 
L 225.72 190.38 
L 226.08 157.66 
L 226.44 189.51 
L 226.8 160.81 
L 227.16 197.32 
L 227.52 147.32 
L 227.88 171.90 
L 228.24 165.31 
L 228.6 175.31 
L 228.96 153.11 
L 229.32 195.37 
L 229.68 164.87 
L 230.04 183.27 
L 230.4 164.81 
L 230.76 189.78 
L 231.12 159.57 
L 231.48 172.00 
L 231.84 150.75 
L 232.2 190.63 
L 232.56 131.95 
L 232.92 168.37 
L 233.28 133.59 
L 233.64 196.44 
L 234 121.91 
L 234.36 185.10 
L 234.72 120.28 
L 235.08 172.59 
L 235.44 134.00 
L 235.8 171.30 
L 236.16 138.15 
L 236.52 177.77 
L 236.88 145.86 
L 237.24 185.63 
L 237.6 148.09 
L 237.96 164.65 
L 238.32 147.55 
L 238.68 163.01 
L 239.04 123.00 
L 239.4 173.66 
L 239.76 115.35 
L 240.12 154.39 
L 240.48 101.72 
L 240.84 154.94 
L 241.2 101.39 
L 241.56 132.23 
L 241.92 110.44 
L 242.28 143.46 
L 242.64 113.08 
L 242.64 113.08 
" clip-path="url(#pd9ea89037b)" style="fill: none; stroke: #7d7c78; stroke-width: 1.5; stroke-linecap: square"/>
</g>
<g id="line2d_81">
<path d="M 57.81 59.4 
L 66.60 60.90 
L 70.69 61.95 
L 74.81 63.31 
L 78.38 64.72 
L 81.11 66.06 
L 83.08 67.35 
L 85.43 69.23 
L 87.59 71.34 
L 89.71 73.83 
L 91.84 76.73 
L 93.96 80.06 
L 99.74 89.64 
L 101.01 91.07 
L 101.85 91.75 
L 102.70 92.22 
L 104.05 92.64 
L 105.52 92.76 
L 107.59 92.67 
L 108.56 92.84 
L 109.47 93.18 
L 110.33 93.70 
L 111.67 94.81 
L 113.10 96.32 
L 115.92 99.79 
L 115.92 99.36 
L 116.28 100.38 
L 116.64 100.18 
L 117 101.18 
L 117.36 100.42 
L 117.72 101.58 
L 118.08 101.60 
L 118.44 102.73 
L 118.8 102.31 
L 119.16 103.23 
L 119.52 102.98 
L 119.88 103.89 
L 120.24 103.17 
L 120.6 104.70 
L 120.96 103.80 
L 121.32 105.13 
L 121.68 104.95 
L 122.04 105.82 
L 122.4 105.42 
L 122.76 106.60 
L 123.12 106.06 
L 123.48 107.01 
L 123.84 106.52 
L 124.2 108.03 
L 124.56 107.03 
L 124.92 108.12 
L 125.28 107.81 
L 125.64 109.16 
L 126 108.33 
L 126.36 109.18 
L 126.72 108.45 
L 127.08 109.98 
L 127.44 109.10 
L 127.8 110.43 
L 128.16 110.12 
L 128.52 111.63 
L 128.88 110.48 
L 129.24 111.85 
L 129.6 111.31 
L 129.96 112.71 
L 130.32 111.87 
L 130.68 113.10 
L 131.04 112.57 
L 131.4 113.84 
L 131.76 113.01 
L 132.12 113.97 
L 132.48 113.49 
L 132.84 115.07 
L 133.2 114.60 
L 133.56 116.01 
L 133.92 115.71 
L 134.28 117.30 
L 134.64 116.48 
L 135 118.49 
L 135.36 117.54 
L 135.72 119.31 
L 136.08 118.36 
L 136.44 120.02 
L 136.8 119.40 
L 137.16 121.14 
L 137.52 120.75 
L 137.88 122.23 
L 138.24 121.83 
L 138.6 123.39 
L 138.96 122.88 
L 139.32 124.60 
L 139.68 124.21 
L 140.04 125.90 
L 140.4 124.23 
L 140.76 126.73 
L 141.12 124.93 
L 141.48 126.75 
L 141.84 125.28 
L 142.2 127.50 
L 142.56 125.85 
L 142.92 128.63 
L 143.28 127.05 
L 143.64 128.99 
L 144 127.37 
L 144.36 129.81 
L 144.72 128.07 
L 145.08 129.79 
L 145.44 128.63 
L 145.8 129.79 
L 146.16 128.38 
L 146.52 131.26 
L 146.88 128.96 
L 147.24 132.53 
L 147.6 129.14 
L 147.96 132.11 
L 148.32 130.16 
L 148.68 133.40 
L 149.04 130.13 
L 149.4 133.19 
L 149.76 130.76 
L 150.12 133.14 
L 150.48 131.05 
L 150.84 134.82 
L 151.2 131.48 
L 151.56 135.64 
L 151.92 132.67 
L 152.28 134.64 
L 152.64 131.33 
L 153 134.31 
L 153.36 131.36 
L 153.72 135.88 
L 154.08 133.80 
L 154.44 136.41 
L 154.8 131.54 
L 155.16 135.73 
L 155.52 133.06 
L 155.88 136.94 
L 156.24 134.07 
L 156.6 138.00 
L 156.96 134.71 
L 157.32 136.04 
L 157.68 133.19 
L 158.04 138.53 
L 158.4 134.08 
L 158.76 139.04 
L 159.12 134.90 
L 159.48 137.11 
L 159.84 133.49 
L 160.2 138.05 
L 160.56 134.71 
L 160.92 137.61 
L 161.28 132.32 
L 161.64 138.51 
L 162 135.46 
L 162.36 140.45 
L 162.72 135.76 
L 163.08 137.45 
L 163.44 133.99 
L 163.8 138.57 
L 164.16 136.01 
L 164.52 142.22 
L 164.88 132.88 
L 165.24 139.04 
L 165.6 134.76 
L 165.96 145.18 
L 166.32 130.70 
L 166.68 144.37 
L 167.04 131.12 
L 167.4 146.27 
L 167.76 131.04 
L 168.12 140.42 
L 168.48 130.08 
L 168.84 143.80 
L 169.2 129.35 
L 169.56 144.74 
L 169.92 132.19 
L 170.28 141.32 
L 170.64 126.32 
L 171 142.75 
L 171.36 125.15 
L 171.72 137.29 
L 172.08 123.12 
L 172.44 142.11 
L 172.8 130.53 
L 173.16 144.21 
L 173.52 122.49 
L 173.88 135.75 
L 174.24 123.14 
L 174.6 142.39 
L 174.96 128.50 
L 175.32 138.27 
L 175.68 120.76 
L 176.04 149.64 
L 176.4 130.65 
L 176.76 139.80 
L 177.12 121.91 
L 177.48 147.73 
L 177.84 130.86 
L 178.2 146.52 
L 178.56 128.62 
L 178.92 151.53 
L 179.28 126.27 
L 179.64 146.31 
L 180 128.75 
L 180.36 150.41 
L 180.72 125.68 
L 181.08 143.84 
L 181.44 133.10 
L 181.8 140.59 
L 182.16 127.55 
L 182.52 140.73 
L 182.88 134.81 
L 183.24 149.07 
L 183.6 125.31 
L 183.96 144.58 
L 184.32 127.10 
L 184.68 144.81 
L 185.04 119.98 
L 185.4 139.15 
L 185.76 120.00 
L 186.12 142.67 
L 186.48 122.47 
L 186.84 141.31 
L 187.2 114.12 
L 187.56 134.31 
L 187.92 120.30 
L 188.28 137.83 
L 188.64 107.80 
L 189 135.99 
L 189.36 109.21 
L 189.72 126.35 
L 190.08 99.23 
L 190.44 120.48 
L 190.8 92.69 
L 191.16 121.98 
L 191.52 88.65 
L 191.88 123.93 
L 192.24 92.01 
L 192.6 106.45 
L 192.96 90.89 
L 193.32 117.56 
L 193.68 84.67 
L 194.04 108.27 
L 194.4 84.16 
L 194.76 114.60 
L 195.12 61.14 
L 195.48 105.07 
L 195.84 49.73 
L 196.2 80.64 
L 196.56 47.92 
L 196.92 77.42 
L 197.28 48.10 
L 197.64 88.93 
L 198 41.42 
L 198.36 72.99 
L 198.72 32.01 
L 199.08 71.48 
L 199.44 38.53 
L 199.8 49.70 
L 200.16 34.84 
L 200.52 50.66 
L 200.88 22.54 
L 201.24 47.85 
L 201.6 32.10 
L 201.96 38.45 
L 202.32 25.80 
L 202.68 34.64 
L 203.04 27.80 
L 203.4 30.37 
L 203.76 24.82 
L 203.76 24.82 
" clip-path="url(#pd9ea89037b)" style="fill: none; stroke: #bcae6c; stroke-width: 1.5; stroke-linecap: square"/>
</g>
<g id="legend_1">
<g id="patch_7">
<path d="M 55.55 222.52 
L 134.81 222.52 
Q 136.81 222.52 136.81 220.52 
L 136.81 161.84 
Q 136.81 159.84 134.81 159.84 
L 55.55 159.84 
Q 53.55 159.84 53.55 161.84 
L 53.55 220.52 
Q 53.55 222.52 55.55 222.52 
z
" style="fill: #ffffff; opacity: 0.8; stroke: #cccccc; stroke-linejoin: miter"/>
</g>
<g id="line2d_82">
<path d="M 57.55 167.94 
L 67.55 167.94 
L 77.55 167.94 
" style="fill: none; stroke: #000000; stroke-width: 1.5; stroke-linecap: square"/>
</g>
<g id="text_13">
<text style="font-size: 10px; font-family: 'Liberation Sans', sans-serif; text-anchor: start" x="86.06" y="172.16" transform="rotate(-0 86.06 172.16)" textLength="47.26" lengthAdjust="spacingAndGlyphs">full-batch</text>
</g>
<g id="line2d_83">
<path d="M 57.55 182.66 
L 67.55 182.66 
L 77.55 182.66 
" style="fill: none; stroke: #fee838; stroke-width: 1.5; stroke-linecap: square"/>
</g>
<g id="text_14">
<text style="font-size: 10px; font-family: 'Liberation Sans', sans-serif; text-anchor: start" x="86.06" y="186.88" transform="rotate(-0 86.06 186.88)" textLength="28.34" lengthAdjust="spacingAndGlyphs">|B|=1</text>
</g>
<g id="line2d_84">
<path d="M 57.55 197.66 
L 67.55 197.66 
L 77.55 197.66 
" style="fill: none; stroke: #bcae6c; stroke-width: 1.5; stroke-linecap: square"/>
</g>
<g id="text_15">
<text style="font-size: 10px; font-family: 'Liberation Sans', sans-serif; text-anchor: start" x="86.06" y="201.88" transform="rotate(-0 86.06 201.88)" textLength="34.70" lengthAdjust="spacingAndGlyphs">|B|=10</text>
</g>
<g id="line2d_85">
<path d="M 57.55 212.66 
L 67.55 212.66 
L 77.55 212.66 
" style="fill: none; stroke: #7d7c78; stroke-width: 1.5; stroke-linecap: square"/>
</g>
<g id="text_16">
<text style="font-size: 10px; font-family: 'Liberation Sans', sans-serif; text-anchor: start" x="86.06" y="216.88" transform="rotate(-0 86.06 216.88)" textLength="41.06" lengthAdjust="spacingAndGlyphs">|B|=100</text>
</g>
</g>
</g>
<g id="axes_2">
<g id="patch_8">
<path d="M 292.63 227.52 
L 494.75 227.52 
L 494.75 44.64 
L 292.63 44.64 
z
" style="fill: #ffffff"/>
</g>
<g id="line2d_86">
<path d="M 307.94 45 
L 319.24 57.6 
L 486.14 215.64 
" clip-path="url(#p434e9dfe0e)" style="fill: none; stroke-dasharray: 5.55,2.4; stroke-dashoffset: 0; stroke: #d62728; stroke-width: 1.5"/>
</g>
<g id="line2d_87">
<path d="M 301.82 48.6 
L 311.04 57.6 
L 325.44 72 
L 342.57 90 
L 385.2 129.6 
L 432 177.48 
L 446.4 191.88 
L 484.12 227.88 
" clip-path="url(#p434e9dfe0e)" style="fill: none; stroke-dasharray: 5.55,2.4; stroke-dashoffset: 0; stroke: #2ca02c; stroke-width: 1.5"/>
</g>
<g id="line2d_88">
<path d="M 301.68 59.76 
L 315.50 67.68 
L 325.08 73.22 
L 338.4 80.28 
" clip-path="url(#p434e9dfe0e)" style="fill: none; stroke-dasharray: 5.55,2.4; stroke-dashoffset: 0; stroke: #1f77b4; stroke-width: 1.5"/>
</g>
<g id="matplotlib.axis_3">
<g id="xtick_41">
<g id="line2d_89">
<g>
<use href="#m1504cfccaf" x="302.04" y="227.88" style="stroke: #000000; stroke-width: 0.8"/>
</g>
</g>
<g id="text_17">
<g transform="translate(293.02 243.91)">
<text>
<tspan x="0" y="-0.97" style="font-size: 10px; font-family: 'Liberation Sans', sans-serif" textLength="6.36" lengthAdjust="spacingAndGlyphs">1</tspan>
<tspan x="6.36" y="-0.97" style="font-size: 10px; font-family: 'Liberation Sans', sans-serif" textLength="6.36" lengthAdjust="spacingAndGlyphs">0</tspan>
<tspan x="12.82" y="-4.80" style="font-size: 7px; font-family: 'Liberation Sans', sans-serif" textLength="4.45" lengthAdjust="spacingAndGlyphs">0</tspan>
</text>
</g>
</g>
</g>
<g id="xtick_42">
<g id="line2d_90">
<g>
<use href="#m1504cfccaf" x="342.36" y="227.88" style="stroke: #000000; stroke-width: 0.8"/>
</g>
</g>
<g id="text_18">
<g transform="translate(332.95 243.91)">
<text>
<tspan x="0" y="-0.06" style="font-size: 10px; font-family: 'Liberation Sans', sans-serif" textLength="6.36" lengthAdjust="spacingAndGlyphs">1</tspan>
<tspan x="6.36" y="-0.06" style="font-size: 10px; font-family: 'Liberation Sans', sans-serif" textLength="6.36" lengthAdjust="spacingAndGlyphs">0</tspan>
<tspan x="12.82" y="-3.89" style="font-size: 7px; font-family: 'Liberation Sans', sans-serif" textLength="4.45" lengthAdjust="spacingAndGlyphs">1</tspan>
</text>
</g>
</g>
</g>
<g id="xtick_43">
<g id="line2d_91">
<g>
<use href="#m1504cfccaf" x="381.96" y="227.88" style="stroke: #000000; stroke-width: 0.8"/>
</g>
</g>
<g id="text_19">
<g transform="translate(372.87 243.91)">
<text>
<tspan x="0" y="-0.97" style="font-size: 10px; font-family: 'Liberation Sans', sans-serif" textLength="6.36" lengthAdjust="spacingAndGlyphs">1</tspan>
<tspan x="6.36" y="-0.97" style="font-size: 10px; font-family: 'Liberation Sans', sans-serif" textLength="6.36" lengthAdjust="spacingAndGlyphs">0</tspan>
<tspan x="12.82" y="-4.80" style="font-size: 7px; font-family: 'Liberation Sans', sans-serif" textLength="4.45" lengthAdjust="spacingAndGlyphs">2</tspan>
</text>
</g>
</g>
</g>
<g id="xtick_44">
<g id="line2d_92">
<g>
<use href="#m1504cfccaf" x="422.28" y="227.88" style="stroke: #000000; stroke-width: 0.8"/>
</g>
</g>
<g id="text_20">
<g transform="translate(412.80 243.91)">
<text>
<tspan x="0" y="-0.97" style="font-size: 10px; font-family: 'Liberation Sans', sans-serif" textLength="6.36" lengthAdjust="spacingAndGlyphs">1</tspan>
<tspan x="6.36" y="-0.97" style="font-size: 10px; font-family: 'Liberation Sans', sans-serif" textLength="6.36" lengthAdjust="spacingAndGlyphs">0</tspan>
<tspan x="12.82" y="-4.80" style="font-size: 7px; font-family: 'Liberation Sans', sans-serif" textLength="4.45" lengthAdjust="spacingAndGlyphs">3</tspan>
</text>
</g>
</g>
</g>
<g id="xtick_45">
<g id="line2d_93">
<g>
<use href="#m1504cfccaf" x="461.88" y="227.88" style="stroke: #000000; stroke-width: 0.8"/>
</g>
</g>
<g id="text_21">
<g transform="translate(452.72 243.91)">
<text>
<tspan x="0" y="-0.06" style="font-size: 10px; font-family: 'Liberation Sans', sans-serif" textLength="6.36" lengthAdjust="spacingAndGlyphs">1</tspan>
<tspan x="6.36" y="-0.06" style="font-size: 10px; font-family: 'Liberation Sans', sans-serif" textLength="6.36" lengthAdjust="spacingAndGlyphs">0</tspan>
<tspan x="12.82" y="-3.89" style="font-size: 7px; font-family: 'Liberation Sans', sans-serif" textLength="4.45" lengthAdjust="spacingAndGlyphs">4</tspan>
</text>
</g>
</g>
</g>
<g id="xtick_46">
<g id="line2d_94">
<g>
<use href="#m05db3bdf9b" x="293.40" y="227.88" style="stroke: #000000; stroke-width: 0.6"/>
</g>
</g>
</g>
<g id="xtick_47">
<g id="line2d_95">
<g>
<use href="#m05db3bdf9b" x="296.28" y="227.88" style="stroke: #000000; stroke-width: 0.6"/>
</g>
</g>
</g>
<g id="xtick_48">
<g id="line2d_96">
<g>
<use href="#m05db3bdf9b" x="298.44" y="227.88" style="stroke: #000000; stroke-width: 0.6"/>
</g>
</g>
</g>
<g id="xtick_49">
<g id="line2d_97">
<g>
<use href="#m05db3bdf9b" x="300.60" y="227.88" style="stroke: #000000; stroke-width: 0.6"/>
</g>
</g>
</g>
<g id="xtick_50">
<g id="line2d_98">
<g>
<use href="#m05db3bdf9b" x="314.28" y="227.88" style="stroke: #000000; stroke-width: 0.6"/>
</g>
</g>
</g>
<g id="xtick_51">
<g id="line2d_99">
<g>
<use href="#m05db3bdf9b" x="321.48" y="227.88" style="stroke: #000000; stroke-width: 0.6"/>
</g>
</g>
</g>
<g id="xtick_52">
<g id="line2d_100">
<g>
<use href="#m05db3bdf9b" x="326.52" y="227.88" style="stroke: #000000; stroke-width: 0.6"/>
</g>
</g>
</g>
<g id="xtick_53">
<g id="line2d_101">
<g>
<use href="#m05db3bdf9b" x="330.12" y="227.88" style="stroke: #000000; stroke-width: 0.6"/>
</g>
</g>
</g>
<g id="xtick_54">
<g id="line2d_102">
<g>
<use href="#m05db3bdf9b" x="333.00" y="227.88" style="stroke: #000000; stroke-width: 0.6"/>
</g>
</g>
</g>
<g id="xtick_55">
<g id="line2d_103">
<g>
<use href="#m05db3bdf9b" x="335.88" y="227.88" style="stroke: #000000; stroke-width: 0.6"/>
</g>
</g>
</g>
<g id="xtick_56">
<g id="line2d_104">
<g>
<use href="#m05db3bdf9b" x="338.04" y="227.88" style="stroke: #000000; stroke-width: 0.6"/>
</g>
</g>
</g>
<g id="xtick_57">
<g id="line2d_105">
<g>
<use href="#m05db3bdf9b" x="340.20" y="227.88" style="stroke: #000000; stroke-width: 0.6"/>
</g>
</g>
</g>
<g id="xtick_58">
<g id="line2d_106">
<g>
<use href="#m05db3bdf9b" x="353.88" y="227.88" style="stroke: #000000; stroke-width: 0.6"/>
</g>
</g>
</g>
<g id="xtick_59">
<g id="line2d_107">
<g>
<use href="#m05db3bdf9b" x="361.08" y="227.88" style="stroke: #000000; stroke-width: 0.6"/>
</g>
</g>
</g>
<g id="xtick_60">
<g id="line2d_108">
<g>
<use href="#m05db3bdf9b" x="366.12" y="227.88" style="stroke: #000000; stroke-width: 0.6"/>
</g>
</g>
</g>
<g id="xtick_61">
<g id="line2d_109">
<g>
<use href="#m05db3bdf9b" x="369.72" y="227.88" style="stroke: #000000; stroke-width: 0.6"/>
</g>
</g>
</g>
<g id="xtick_62">
<g id="line2d_110">
<g>
<use href="#m05db3bdf9b" x="373.32" y="227.88" style="stroke: #000000; stroke-width: 0.6"/>
</g>
</g>
</g>
<g id="xtick_63">
<g id="line2d_111">
<g>
<use href="#m05db3bdf9b" x="376.20" y="227.88" style="stroke: #000000; stroke-width: 0.6"/>
</g>
</g>
</g>
<g id="xtick_64">
<g id="line2d_112">
<g>
<use href="#m05db3bdf9b" x="378.36" y="227.88" style="stroke: #000000; stroke-width: 0.6"/>
</g>
</g>
</g>
<g id="xtick_65">
<g id="line2d_113">
<g>
<use href="#m05db3bdf9b" x="380.52" y="227.88" style="stroke: #000000; stroke-width: 0.6"/>
</g>
</g>
</g>
<g id="xtick_66">
<g id="line2d_114">
<g>
<use href="#m05db3bdf9b" x="394.20" y="227.88" style="stroke: #000000; stroke-width: 0.6"/>
</g>
</g>
</g>
<g id="xtick_67">
<g id="line2d_115">
<g>
<use href="#m05db3bdf9b" x="401.40" y="227.88" style="stroke: #000000; stroke-width: 0.6"/>
</g>
</g>
</g>
<g id="xtick_68">
<g id="line2d_116">
<g>
<use href="#m05db3bdf9b" x="405.72" y="227.88" style="stroke: #000000; stroke-width: 0.6"/>
</g>
</g>
</g>
<g id="xtick_69">
<g id="line2d_117">
<g>
<use href="#m05db3bdf9b" x="410.04" y="227.88" style="stroke: #000000; stroke-width: 0.6"/>
</g>
</g>
</g>
<g id="xtick_70">
<g id="line2d_118">
<g>
<use href="#m05db3bdf9b" x="412.92" y="227.88" style="stroke: #000000; stroke-width: 0.6"/>
</g>
</g>
</g>
<g id="xtick_71">
<g id="line2d_119">
<g>
<use href="#m05db3bdf9b" x="415.80" y="227.88" style="stroke: #000000; stroke-width: 0.6"/>
</g>
</g>
</g>
<g id="xtick_72">
<g id="line2d_120">
<g>
<use href="#m05db3bdf9b" x="417.96" y="227.88" style="stroke: #000000; stroke-width: 0.6"/>
</g>
</g>
</g>
<g id="xtick_73">
<g id="line2d_121">
<g>
<use href="#m05db3bdf9b" x="420.12" y="227.88" style="stroke: #000000; stroke-width: 0.6"/>
</g>
</g>
</g>
<g id="xtick_74">
<g id="line2d_122">
<g>
<use href="#m05db3bdf9b" x="433.80" y="227.88" style="stroke: #000000; stroke-width: 0.6"/>
</g>
</g>
</g>
<g id="xtick_75">
<g id="line2d_123">
<g>
<use href="#m05db3bdf9b" x="441.00" y="227.88" style="stroke: #000000; stroke-width: 0.6"/>
</g>
</g>
</g>
<g id="xtick_76">
<g id="line2d_124">
<g>
<use href="#m05db3bdf9b" x="446.04" y="227.88" style="stroke: #000000; stroke-width: 0.6"/>
</g>
</g>
</g>
<g id="xtick_77">
<g id="line2d_125">
<g>
<use href="#m05db3bdf9b" x="449.64" y="227.88" style="stroke: #000000; stroke-width: 0.6"/>
</g>
</g>
</g>
<g id="xtick_78">
<g id="line2d_126">
<g>
<use href="#m05db3bdf9b" x="453.24" y="227.88" style="stroke: #000000; stroke-width: 0.6"/>
</g>
</g>
</g>
<g id="xtick_79">
<g id="line2d_127">
<g>
<use href="#m05db3bdf9b" x="455.40" y="227.88" style="stroke: #000000; stroke-width: 0.6"/>
</g>
</g>
</g>
<g id="xtick_80">
<g id="line2d_128">
<g>
<use href="#m05db3bdf9b" x="458.28" y="227.88" style="stroke: #000000; stroke-width: 0.6"/>
</g>
</g>
</g>
<g id="xtick_81">
<g id="line2d_129">
<g>
<use href="#m05db3bdf9b" x="459.72" y="227.88" style="stroke: #000000; stroke-width: 0.6"/>
</g>
</g>
</g>
<g id="xtick_82">
<g id="line2d_130">
<g>
<use href="#m05db3bdf9b" x="474.12" y="227.88" style="stroke: #000000; stroke-width: 0.6"/>
</g>
</g>
</g>
<g id="xtick_83">
<g id="line2d_131">
<g>
<use href="#m05db3bdf9b" x="480.60" y="227.88" style="stroke: #000000; stroke-width: 0.6"/>
</g>
</g>
</g>
<g id="xtick_84">
<g id="line2d_132">
<g>
<use href="#m05db3bdf9b" x="485.64" y="227.88" style="stroke: #000000; stroke-width: 0.6"/>
</g>
</g>
</g>
<g id="xtick_85">
<g id="line2d_133">
<g>
<use href="#m05db3bdf9b" x="489.96" y="227.88" style="stroke: #000000; stroke-width: 0.6"/>
</g>
</g>
</g>
<g id="xtick_86">
<g id="line2d_134">
<g>
<use href="#m05db3bdf9b" x="492.84" y="227.88" style="stroke: #000000; stroke-width: 0.6"/>
</g>
</g>
</g>
<g id="text_22">
<g transform="translate(391.09 259.89)">
<text>
<tspan x="0" y="-0.87" style="font-style: oblique; font-size: 13px; font-family: 'Liberation Sans', sans-serif" textLength="5.10" lengthAdjust="spacingAndGlyphs">t</tspan>
</text>
</g>
</g>
</g>
<g id="matplotlib.axis_4">
<g id="ytick_37">
<g id="line2d_135">
<g>
<use href="#m5d545ce8f8" x="292.68" y="202.68" style="stroke: #000000; stroke-width: 0.8"/>
</g>
</g>
<g id="text_23">
<g transform="translate(262.13 207.75)">
<text>
<tspan x="0" y="-0.97" style="font-size: 10px; font-family: 'Liberation Sans', sans-serif" textLength="6.36" lengthAdjust="spacingAndGlyphs">1</tspan>
<tspan x="6.36" y="-0.97" style="font-size: 10px; font-family: 'Liberation Sans', sans-serif" textLength="6.36" lengthAdjust="spacingAndGlyphs">0</tspan>
<tspan x="12.82" y="-4.80" style="font-size: 7px; font-family: 'Liberation Sans', sans-serif" textLength="5.87" lengthAdjust="spacingAndGlyphs">−</tspan>
<tspan x="18.68" y="-4.80" style="font-size: 7px; font-family: 'Liberation Sans', sans-serif" textLength="4.45" lengthAdjust="spacingAndGlyphs">3</tspan>
</text>
</g>
</g>
</g>
<g id="ytick_38">
<g id="line2d_136">
<g>
<use href="#m5d545ce8f8" x="292.68" y="155.16" style="stroke: #000000; stroke-width: 0.8"/>
</g>
</g>
<g id="text_24">
<g transform="translate(262.13 159.92)">
<text>
<tspan x="0" y="-0.97" style="font-size: 10px; font-family: 'Liberation Sans', sans-serif" textLength="6.36" lengthAdjust="spacingAndGlyphs">1</tspan>
<tspan x="6.36" y="-0.97" style="font-size: 10px; font-family: 'Liberation Sans', sans-serif" textLength="6.36" lengthAdjust="spacingAndGlyphs">0</tspan>
<tspan x="12.82" y="-4.80" style="font-size: 7px; font-family: 'Liberation Sans', sans-serif" textLength="5.87" lengthAdjust="spacingAndGlyphs">−</tspan>
<tspan x="18.68" y="-4.80" style="font-size: 7px; font-family: 'Liberation Sans', sans-serif" textLength="4.45" lengthAdjust="spacingAndGlyphs">2</tspan>
</text>
</g>
</g>
</g>
<g id="ytick_39">
<g id="line2d_137">
<g>
<use href="#m5d545ce8f8" x="292.68" y="106.92" style="stroke: #000000; stroke-width: 0.8"/>
</g>
</g>
<g id="text_25">
<g transform="translate(262.13 112.10)">
<text>
<tspan x="0" y="-0.06" style="font-size: 10px; font-family: 'Liberation Sans', sans-serif" textLength="6.36" lengthAdjust="spacingAndGlyphs">1</tspan>
<tspan x="6.36" y="-0.06" style="font-size: 10px; font-family: 'Liberation Sans', sans-serif" textLength="6.36" lengthAdjust="spacingAndGlyphs">0</tspan>
<tspan x="12.82" y="-3.89" style="font-size: 7px; font-family: 'Liberation Sans', sans-serif" textLength="5.87" lengthAdjust="spacingAndGlyphs">−</tspan>
<tspan x="18.68" y="-3.89" style="font-size: 7px; font-family: 'Liberation Sans', sans-serif" textLength="4.45" lengthAdjust="spacingAndGlyphs">1</tspan>
</text>
</g>
</g>
</g>
<g id="ytick_40">
<g id="line2d_138">
<g>
<use href="#m5d545ce8f8" x="292.68" y="59.40" style="stroke: #000000; stroke-width: 0.8"/>
</g>
</g>
<g id="text_26">
<g transform="translate(268.03 64.27)">
<text>
<tspan x="0" y="-0.97" style="font-size: 10px; font-family: 'Liberation Sans', sans-serif" textLength="6.36" lengthAdjust="spacingAndGlyphs">1</tspan>
<tspan x="6.36" y="-0.97" style="font-size: 10px; font-family: 'Liberation Sans', sans-serif" textLength="6.36" lengthAdjust="spacingAndGlyphs">0</tspan>
<tspan x="12.82" y="-4.80" style="font-size: 7px; font-family: 'Liberation Sans', sans-serif" textLength="4.45" lengthAdjust="spacingAndGlyphs">0</tspan>
</text>
</g>
</g>
</g>
<g id="ytick_41">
<g id="line2d_139">
<g>
<use href="#mc3d89a154a" x="292.68" y="227.88" style="stroke: #000000; stroke-width: 0.6"/>
</g>
</g>
</g>
<g id="ytick_42">
<g id="line2d_140">
<g>
<use href="#mc3d89a154a" x="292.68" y="222.12" style="stroke: #000000; stroke-width: 0.6"/>
</g>
</g>
</g>
<g id="ytick_43">
<g id="line2d_141">
<g>
<use href="#mc3d89a154a" x="292.68" y="217.08" style="stroke: #000000; stroke-width: 0.6"/>
</g>
</g>
</g>
<g id="ytick_44">
<g id="line2d_142">
<g>
<use href="#mc3d89a154a" x="292.68" y="213.48" style="stroke: #000000; stroke-width: 0.6"/>
</g>
</g>
</g>
<g id="ytick_45">
<g id="line2d_143">
<g>
<use href="#mc3d89a154a" x="292.68" y="210.60" style="stroke: #000000; stroke-width: 0.6"/>
</g>
</g>
</g>
<g id="ytick_46">
<g id="line2d_144">
<g>
<use href="#mc3d89a154a" x="292.68" y="207.72" style="stroke: #000000; stroke-width: 0.6"/>
</g>
</g>
</g>
<g id="ytick_47">
<g id="line2d_145">
<g>
<use href="#mc3d89a154a" x="292.68" y="204.84" style="stroke: #000000; stroke-width: 0.6"/>
</g>
</g>
</g>
<g id="ytick_48">
<g id="line2d_146">
<g>
<use href="#mc3d89a154a" x="292.68" y="188.28" style="stroke: #000000; stroke-width: 0.6"/>
</g>
</g>
</g>
<g id="ytick_49">
<g id="line2d_147">
<g>
<use href="#mc3d89a154a" x="292.68" y="180.36" style="stroke: #000000; stroke-width: 0.6"/>
</g>
</g>
</g>
<g id="ytick_50">
<g id="line2d_148">
<g>
<use href="#mc3d89a154a" x="292.68" y="173.88" style="stroke: #000000; stroke-width: 0.6"/>
</g>
</g>
</g>
<g id="ytick_51">
<g id="line2d_149">
<g>
<use href="#mc3d89a154a" x="292.68" y="169.56" style="stroke: #000000; stroke-width: 0.6"/>
</g>
</g>
</g>
<g id="ytick_52">
<g id="line2d_150">
<g>
<use href="#mc3d89a154a" x="292.68" y="165.96" style="stroke: #000000; stroke-width: 0.6"/>
</g>
</g>
</g>
<g id="ytick_53">
<g id="line2d_151">
<g>
<use href="#mc3d89a154a" x="292.68" y="162.36" style="stroke: #000000; stroke-width: 0.6"/>
</g>
</g>
</g>
<g id="ytick_54">
<g id="line2d_152">
<g>
<use href="#mc3d89a154a" x="292.68" y="159.48" style="stroke: #000000; stroke-width: 0.6"/>
</g>
</g>
</g>
<g id="ytick_55">
<g id="line2d_153">
<g>
<use href="#mc3d89a154a" x="292.68" y="157.32" style="stroke: #000000; stroke-width: 0.6"/>
</g>
</g>
</g>
<g id="ytick_56">
<g id="line2d_154">
<g>
<use href="#mc3d89a154a" x="292.68" y="140.76" style="stroke: #000000; stroke-width: 0.6"/>
</g>
</g>
</g>
<g id="ytick_57">
<g id="line2d_155">
<g>
<use href="#mc3d89a154a" x="292.68" y="132.12" style="stroke: #000000; stroke-width: 0.6"/>
</g>
</g>
</g>
<g id="ytick_58">
<g id="line2d_156">
<g>
<use href="#mc3d89a154a" x="292.68" y="126.36" style="stroke: #000000; stroke-width: 0.6"/>
</g>
</g>
</g>
<g id="ytick_59">
<g id="line2d_157">
<g>
<use href="#mc3d89a154a" x="292.68" y="121.32" style="stroke: #000000; stroke-width: 0.6"/>
</g>
</g>
</g>
<g id="ytick_60">
<g id="line2d_158">
<g>
<use href="#mc3d89a154a" x="292.68" y="117.72" style="stroke: #000000; stroke-width: 0.6"/>
</g>
</g>
</g>
<g id="ytick_61">
<g id="line2d_159">
<g>
<use href="#mc3d89a154a" x="292.68" y="114.84" style="stroke: #000000; stroke-width: 0.6"/>
</g>
</g>
</g>
<g id="ytick_62">
<g id="line2d_160">
<g>
<use href="#mc3d89a154a" x="292.68" y="111.96" style="stroke: #000000; stroke-width: 0.6"/>
</g>
</g>
</g>
<g id="ytick_63">
<g id="line2d_161">
<g>
<use href="#mc3d89a154a" x="292.68" y="109.08" style="stroke: #000000; stroke-width: 0.6"/>
</g>
</g>
</g>
<g id="ytick_64">
<g id="line2d_162">
<g>
<use href="#mc3d89a154a" x="292.68" y="92.52" style="stroke: #000000; stroke-width: 0.6"/>
</g>
</g>
</g>
<g id="ytick_65">
<g id="line2d_163">
<g>
<use href="#mc3d89a154a" x="292.68" y="84.60" style="stroke: #000000; stroke-width: 0.6"/>
</g>
</g>
</g>
<g id="ytick_66">
<g id="line2d_164">
<g>
<use href="#mc3d89a154a" x="292.68" y="78.12" style="stroke: #000000; stroke-width: 0.6"/>
</g>
</g>
</g>
<g id="ytick_67">
<g id="line2d_165">
<g>
<use href="#mc3d89a154a" x="292.68" y="73.80" style="stroke: #000000; stroke-width: 0.6"/>
</g>
</g>
</g>
<g id="ytick_68">
<g id="line2d_166">
<g>
<use href="#mc3d89a154a" x="292.68" y="70.20" style="stroke: #000000; stroke-width: 0.6"/>
</g>
</g>
</g>
<g id="ytick_69">
<g id="line2d_167">
<g>
<use href="#mc3d89a154a" x="292.68" y="66.60" style="stroke: #000000; stroke-width: 0.6"/>
</g>
</g>
</g>
<g id="ytick_70">
<g id="line2d_168">
<g>
<use href="#mc3d89a154a" x="292.68" y="63.72" style="stroke: #000000; stroke-width: 0.6"/>
</g>
</g>
</g>
<g id="ytick_71">
<g id="line2d_169">
<g>
<use href="#mc3d89a154a" x="292.68" y="61.56" style="stroke: #000000; stroke-width: 0.6"/>
</g>
</g>
</g>
<g id="ytick_72">
<g id="line2d_170">
<g>
<use href="#mc3d89a154a" x="292.68" y="45.00" style="stroke: #000000; stroke-width: 0.6"/>
</g>
</g>
</g>
</g>
<g id="patch_9">
<path d="M 292.68 227.88 L 292.68 45.00" style="fill: none; stroke: #000000; stroke-width: 0.8; stroke-linejoin: miter; stroke-linecap: square"/>
</g>
<g id="patch_10">
<path d="M 495.00 227.88 L 495.00 45.00" style="fill: none; stroke: #000000; stroke-width: 0.8; stroke-linejoin: miter; stroke-linecap: square"/>
</g>
<g id="patch_11">
<path d="M 292.68 227.88 L 495.00 227.88" style="fill: none; stroke: #000000; stroke-width: 0.8; stroke-linejoin: miter; stroke-linecap: square"/>
</g>
<g id="patch_12">
<path d="M 292.68 45.00 L 495.00 45.00" style="fill: none; stroke: #000000; stroke-width: 0.8; stroke-linejoin: miter; stroke-linecap: square"/>
</g>
<g id="line2d_171">
<path d="M 301.89 59.4 
L 309.6 62.28 
L 313.92 65.23 
L 321.12 74.01 
L 329.90 77.25 
L 337.82 80.49 
L 345.00 81.63 
L 346.39 83.30 
L 347.68 83.17 
L 348.87 84.92 
L 349.99 84.54 
L 351.05 86.17 
L 352.04 85.67 
L 352.98 87.32 
L 353.87 86.75 
L 354.71 88.46 
L 355.52 88.02 
L 356.29 89.38 
L 357.03 88.13 
L 357.74 90.25 
L 358.42 89.60 
L 359.08 91.05 
L 359.71 89.82 
L 360.32 91.97 
L 360.91 91.11 
L 361.47 92.61 
L 362.03 91.60 
L 362.56 93.19 
L 363.08 92.44 
L 363.58 93.98 
L 364.07 93.08 
L 364.55 94.54 
L 365.01 93.69 
L 365.46 95.20 
L 365.90 93.99 
L 366.33 95.68 
L 366.75 94.88 
L 367.15 96.28 
L 367.55 95.29 
L 367.94 96.81 
L 368.33 95.80 
L 368.70 97.43 
L 369.06 96.31 
L 369.42 97.87 
L 369.77 96.55 
L 370.12 98.31 
L 370.45 97.19 
L 370.78 98.82 
L 371.11 97.57 
L 371.43 99.20 
L 371.74 98.05 
L 372.05 99.61 
L 372.35 98.17 
L 372.65 99.95 
L 372.94 98.63 
L 373.51 100.61 
L 374.06 98.51 
L 374.59 101.40 
L 375.11 100.40 
L 375.61 102.03 
L 376.10 101.06 
L 376.58 102.59 
L 377.04 101.32 
L 377.49 103.34 
L 377.93 101.95 
L 378.36 104.06 
L 378.78 102.77 
L 379.19 104.35 
L 379.58 103.34 
L 379.98 105.05 
L 380.36 103.40 
L 380.73 105.68 
L 381.10 104.28 
L 381.45 106.13 
L 381.80 104.35 
L 382.15 106.61 
L 382.48 104.09 
L 382.82 106.89 
L 383.14 105.59 
L 383.46 107.47 
L 383.77 105.76 
L 384.08 107.69 
L 384.38 106.10 
L 384.68 108.16 
L 384.97 106.61 
L 385.40 108.58 
L 385.82 107.36 
L 386.22 109.17 
L 386.62 107.56 
L 387.01 109.76 
L 387.39 107.81 
L 387.77 110.09 
L 388.13 108.51 
L 388.49 110.67 
L 388.84 109.19 
L 389.19 111.06 
L 389.52 109.52 
L 389.85 111.19 
L 390.18 109.69 
L 390.50 111.65 
L 390.81 110.32 
L 391.12 112.20 
L 391.42 110.49 
L 391.71 112.33 
L 392.01 110.50 
L 392.39 112.70 
L 392.76 110.93 
L 393.13 113.40 
L 393.48 111.68 
L 393.84 113.74 
L 394.18 110.85 
L 394.52 114.22 
L 394.85 112.69 
L 395.17 114.32 
L 395.49 112.49 
L 395.80 114.85 
L 396.11 113.06 
L 396.41 115.24 
L 396.71 113.22 
L 397.00 115.69 
L 397.36 113.80 
L 397.71 115.86 
L 398.05 114.41 
L 398.39 116.45 
L 398.72 114.81 
L 399.04 116.68 
L 399.36 115.10 
L 399.68 117.04 
L 399.98 115.51 
L 400.28 117.65 
L 400.58 115.60 
L 400.87 117.88 
L 401.22 115.85 
L 401.55 118.44 
L 401.88 116.68 
L 402.21 118.53 
L 402.53 116.60 
L 402.84 119.18 
L 403.15 117.04 
L 403.45 119.37 
L 403.75 117.79 
L 404.04 119.87 
L 404.37 118.05 
L 404.70 120.19 
L 405.02 118.04 
L 405.34 120.52 
L 405.65 118.90 
L 405.95 120.69 
L 406.25 119.33 
L 406.55 121.34 
L 406.84 117.98 
L 407.16 121.40 
L 407.48 119.89 
L 407.79 121.79 
L 408.10 120.35 
L 408.41 122.14 
L 408.70 120.51 
L 408.99 122.74 
L 409.32 120.80 
L 409.64 122.91 
L 409.95 121.30 
L 410.25 123.45 
L 410.55 120.32 
L 410.85 123.95 
L 411.14 121.55 
L 411.46 123.92 
L 411.77 122.43 
L 412.07 124.63 
L 412.38 121.77 
L 412.67 124.92 
L 412.96 122.09 
L 413.28 125.20 
L 413.59 122.99 
L 413.89 125.32 
L 414.19 122.42 
L 414.48 125.77 
L 414.77 124.07 
L 415.08 126.36 
L 415.38 124.11 
L 415.68 126.61 
L 415.97 124.62 
L 416.26 126.83 
L 416.57 125.12 
L 416.87 127.11 
L 417.17 125.10 
L 417.46 127.59 
L 417.77 125.83 
L 418.07 128.02 
L 418.37 126.23 
L 418.66 128.14 
L 418.95 126.07 
L 419.25 128.56 
L 419.55 126.63 
L 419.85 129.12 
L 420.13 126.71 
L 420.44 129.13 
L 420.73 127.61 
L 421.03 129.52 
L 421.33 127.72 
L 421.63 129.89 
L 421.93 127.77 
L 422.22 130.49 
L 422.52 128.58 
L 422.82 130.73 
L 423.11 128.42 
L 423.41 131.11 
L 423.71 129.31 
L 424.00 131.45 
L 424.30 129.62 
L 424.60 131.74 
L 424.89 129.57 
L 425.19 132.11 
L 425.49 129.88 
L 425.78 132.44 
L 426.08 130.19 
L 426.38 132.92 
L 426.67 130.41 
L 426.97 133.03 
L 427.26 131.10 
L 427.55 133.20 
L 427.85 131.55 
L 428.14 133.87 
L 428.43 131.50 
L 428.73 134.19 
L 429.02 131.70 
L 429.31 134.33 
L 429.60 132.56 
L 429.90 134.79 
L 430.19 132.71 
L 430.48 135.26 
L 430.78 132.82 
L 431.07 135.41 
L 431.37 131.79 
L 431.66 135.85 
L 431.95 133.41 
L 432.25 136.16 
L 432.54 132.90 
L 432.84 136.57 
L 433.13 134.22 
L 433.43 136.93 
L 433.72 134.67 
L 434.01 137.03 
L 434.30 135.33 
L 434.59 137.51 
L 434.89 135.25 
L 435.18 137.94 
L 435.47 135.42 
L 435.76 138.30 
L 436.05 136.04 
L 436.35 138.30 
L 436.64 136.50 
L 436.93 138.74 
L 437.23 136.51 
L 437.52 139.18 
L 437.81 136.11 
L 438.10 139.68 
L 438.39 137.28 
L 438.68 139.87 
L 438.97 137.64 
L 439.27 139.99 
L 439.56 137.73 
L 439.85 140.56 
L 440.14 138.47 
L 440.43 140.92 
L 440.72 138.78 
L 441.01 141.44 
L 441.30 139.06 
L 441.59 141.37 
L 441.88 139.51 
L 442.18 141.85 
L 442.47 139.79 
L 442.76 142.42 
L 443.05 139.95 
L 443.35 142.77 
L 443.63 140.08 
L 443.92 142.86 
L 444.21 139.42 
L 444.50 143.16 
L 444.79 140.85 
L 445.08 143.58 
L 445.37 140.36 
L 445.66 143.87 
L 445.95 140.70 
L 446.25 144.16 
L 446.54 141.89 
L 446.82 144.48 
L 447.11 142.27 
L 447.40 145.00 
L 447.70 142.92 
L 447.99 145.53 
L 448.27 143.42 
L 448.57 145.78 
L 448.86 143.69 
L 449.15 145.83 
L 449.43 143.76 
L 449.72 146.20 
L 450.01 144.19 
L 450.30 146.49 
L 450.59 144.53 
L 450.88 147.24 
L 451.17 144.93 
L 451.47 147.38 
L 451.75 145.46 
L 452.05 147.59 
L 452.33 145.43 
L 452.62 148.26 
L 452.91 145.54 
L 453.20 148.18 
L 453.49 146.27 
L 453.78 148.54 
L 454.07 146.67 
L 454.36 149.10 
L 454.65 147.13 
L 454.94 149.58 
L 455.23 147.02 
L 455.52 149.72 
L 455.81 147.61 
L 456.09 150.28 
L 456.38 147.75 
L 456.67 150.55 
L 456.96 148.22 
L 457.25 150.69 
L 457.54 147.46 
L 457.83 151.13 
L 458.12 149.06 
L 458.41 151.35 
L 458.70 149.15 
L 458.98 151.75 
L 459.27 149.33 
L 459.56 152.01 
L 459.85 149.68 
L 460.14 152.31 
L 460.43 149.88 
L 460.72 153.04 
L 461.01 150.26 
L 461.30 153.37 
L 461.59 149.85 
L 461.87 153.32 
L 462.16 151.01 
L 462.45 153.68 
L 462.74 151.91 
L 463.03 154.02 
L 463.32 152.28 
L 463.61 154.45 
L 463.90 152.22 
L 464.19 155.17 
L 464.48 152.89 
L 464.76 155.39 
L 465.05 152.92 
L 465.34 155.49 
L 465.63 152.33 
L 465.92 156.22 
L 466.21 153.62 
L 466.50 156.40 
L 466.78 153.73 
L 467.07 156.85 
L 467.36 154.08 
L 467.65 157.09 
L 467.94 154.95 
L 468.23 157.55 
L 468.52 154.90 
L 468.81 157.96 
L 469.09 155.46 
L 469.38 158.30 
L 469.67 156.07 
L 469.96 158.34 
L 470.25 156.19 
L 470.54 159.01 
L 470.83 156.73 
L 471.11 159.44 
L 471.40 155.31 
L 471.69 159.44 
L 471.98 156.99 
L 472.27 159.94 
L 472.56 157.25 
L 472.84 160.21 
L 473.13 157.58 
L 473.42 160.52 
L 473.71 158.08 
L 474.00 160.97 
L 474.29 158.92 
L 474.58 161.32 
L 474.86 159.04 
L 475.15 161.54 
L 475.44 159.19 
L 475.73 162.12 
L 476.02 159.42 
L 476.31 162.39 
L 476.59 159.64 
L 476.88 162.68 
L 477.17 160.56 
L 477.46 163.28 
L 477.75 160.88 
L 478.04 163.70 
L 478.32 160.71 
L 478.61 163.82 
L 478.90 161.13 
L 479.19 164.14 
L 479.48 161.59 
L 479.76 164.42 
L 480.05 162.46 
L 480.34 164.90 
L 480.63 162.33 
L 480.92 165.21 
L 481.21 162.92 
L 481.49 165.74 
L 481.78 162.74 
L 482.07 165.87 
L 482.36 163.11 
L 482.65 166.54 
L 482.94 163.88 
L 483.22 166.84 
L 483.51 162.69 
L 483.80 166.87 
L 484.09 162.89 
L 484.38 167.40 
L 484.66 163.67 
L 484.95 167.94 
L 485.24 164.92 
L 485.53 167.96 
L 485.53 167.96 
" clip-path="url(#p434e9dfe0e)" style="fill: none; stroke: #ff7f0e; stroke-width: 1.5; stroke-linecap: square"/>
</g>
<g id="text_27">
<text style="font-size: 13px; font-family: 'Liberation Sans', sans-serif; text-anchor: middle" x="393.69" y="38.64" transform="rotate(-0 393.69 38.64)" textLength="159.61" lengthAdjust="spacingAndGlyphs">(S)GD and our algorithm</text>
</g>
<g id="line2d_172">
<path d="M 301.89 59.4 
L 302.64 59.61 
L 304.15 60.04 
L 306.40 60.69 
L 309.41 61.56 
L 312.16 62.35 
L 314.66 63.08 
L 316.91 63.74 
L 318.91 64.34 
L 320.91 65.13 
L 322.91 66.13 
L 324.90 67.33 
L 326.90 68.74 
L 328.90 70.24 
L 330.88 71.84 
L 332.87 73.54 
L 334.85 75.34 
L 336.64 76.92 
L 338.24 78.27 
L 339.66 79.39 
L 340.88 80.29 
L 343.10 81.85 
L 346.32 84.06 
L 350.55 86.94 
L 355.77 90.46 
L 361.03 94.00 
L 366.34 97.56 
L 371.7 101.13 
L 377.1 104.71 
L 382.72 108.32 
L 388.57 111.97 
L 394.65 115.65 
L 400.95 119.35 
L 407.25 123.04 
L 413.55 126.70 
L 419.85 130.34 
L 426.15 133.96 
L 432.45 137.59 
L 438.75 141.24 
L 445.05 144.9 
L 451.35 148.57 
L 457.65 152.31 
L 463.97 156.13 
L 470.30 160.02 
L 476.64 163.98 
L 481.39 166.95 
L 484.56 168.93 
L 486.14 169.92 
" clip-path="url(#p434e9dfe0e)" style="fill: none; stroke: #1f77b4; stroke-width: 1.5; stroke-linecap: square"/>
</g>
<g id="line2d_173">
<path d="M 301.89 59.4 
L 302.64 59.64 
L 304.15 60.12 
L 306.40 60.85 
L 309.41 61.83 
L 312.41 62.88 
L 315.40 64.01 
L 318.40 65.23 
L 321.39 66.52 
L 324.03 67.99 
L 326.32 69.64 
L 328.27 71.46 
L 329.87 73.46 
L 331.37 75.46 
L 332.77 77.44 
L 334.06 79.43 
L 335.25 81.41 
L 336.48 83.34 
L 337.77 85.21 
L 339.11 87.03 
L 340.49 88.79 
L 341.79 90.29 
L 343.01 91.53 
L 344.14 92.52 
L 345.18 93.24 
L 346.32 94.00 
L 347.54 94.81 
L 348.85 95.67 
L 350.26 96.57 
L 351.57 97.53 
L 352.8 98.57 
L 353.93 99.67 
L 354.97 100.84 
L 356.11 102.06 
L 357.33 103.32 
L 358.65 104.62 
L 360.05 105.97 
L 361.71 107.52 
L 363.63 109.28 
L 365.80 111.24 
L 368.23 113.4 
L 370.89 115.78 
L 373.77 118.40 
L 376.87 121.25 
L 380.20 124.33 
L 383.57 127.51 
L 386.98 130.80 
L 390.43 134.19 
L 393.93 137.68 
L 397.42 141.20 
L 400.91 144.74 
L 404.40 148.32 
L 407.89 151.92 
L 411.69 155.83 
L 415.8 160.06 
L 420.21 164.61 
L 424.92 169.47 
L 429.36 174.01 
L 433.52 178.24 
L 437.4 182.16 
L 441 185.76 
L 446.05 190.71 
L 452.57 197.01 
L 460.54 204.66 
L 469.98 213.66 
L 477.84 221.15 
L 484.14 227.13 
L 488.88 231.61 
L 492.04 234.58 
L 494.42 236.81 
L 496.00 238.29 
L 496.8 239.04 
" clip-path="url(#p434e9dfe0e)" style="fill: none; stroke: #2ca02c; stroke-width: 1.5; stroke-linecap: square"/>
</g>
<g id="line2d_174">
<path d="M 301.89 59.4 
L 313.92 62.06 
L 321.91 64.44 
L 329.90 68.47 
L 336.24 75.6 
L 340.27 84.38 
L 341.84 88.65 
L 343.49 90.48 
L 345.00 92.66 
L 346.39 92.85 
L 347.68 94.34 
L 348.87 92.93 
L 349.99 95.05 
L 351.05 94.11 
L 352.04 96.06 
L 352.98 95.46 
L 353.87 97.52 
L 354.71 96.04 
L 355.52 98.94 
L 356.29 97.59 
L 357.03 99.67 
L 357.74 98.28 
L 358.42 100.47 
L 359.08 98.07 
L 359.71 101.04 
L 360.32 98.42 
L 360.91 101.64 
L 361.47 99.00 
L 362.03 102.42 
L 362.56 100.55 
L 363.08 103.05 
L 363.58 100.75 
L 364.07 103.40 
L 364.55 100.89 
L 365.01 103.34 
L 365.46 101.20 
L 365.90 103.51 
L 366.33 101.39 
L 366.75 104.22 
L 367.15 102.31 
L 367.55 104.86 
L 367.94 102.63 
L 368.33 106.11 
L 368.70 101.87 
L 369.06 106.73 
L 369.42 104.33 
L 369.77 107.41 
L 370.12 104.42 
L 370.45 107.82 
L 370.78 105.41 
L 371.11 108.50 
L 371.43 105.32 
L 371.74 108.86 
L 372.05 105.65 
L 372.35 109.68 
L 372.65 106.90 
L 372.94 110.25 
L 373.51 107.68 
L 374.06 111.54 
L 374.59 108.72 
L 375.11 112.59 
L 375.61 110.25 
L 376.10 114.32 
L 376.58 110.44 
L 377.04 114.21 
L 377.49 110.56 
L 377.93 114.74 
L 378.36 111.31 
L 378.78 115.25 
L 379.19 111.32 
L 379.58 115.60 
L 379.98 112.05 
L 380.36 115.51 
L 380.73 111.55 
L 381.10 116.31 
L 381.45 112.31 
L 381.80 117.23 
L 382.15 113.95 
L 382.48 117.76 
L 382.82 113.51 
L 383.14 118.44 
L 383.46 112.68 
L 383.77 118.92 
L 384.08 114.93 
L 384.38 119.29 
L 384.68 115.42 
L 384.97 119.80 
L 385.40 115.72 
L 385.82 119.85 
L 386.22 114.72 
L 386.62 120.19 
L 387.01 113.57 
L 387.39 120.94 
L 387.77 115.22 
L 388.13 120.91 
L 388.49 115.70 
L 388.84 121.64 
L 389.19 116.07 
L 389.52 121.99 
L 389.85 117.18 
L 390.18 123.26 
L 390.50 117.92 
L 390.81 123.85 
L 391.12 115.53 
L 391.42 124.84 
L 391.71 120.07 
L 392.01 124.98 
L 392.39 119.44 
L 392.76 126.55 
L 393.13 120.47 
L 393.48 126.65 
L 393.84 119.21 
L 394.18 128.26 
L 394.52 122.90 
L 394.85 128.49 
L 395.17 123.41 
L 395.49 129.35 
L 395.80 124.65 
L 396.11 130.32 
L 396.41 125.18 
L 396.71 131.10 
L 397.00 125.13 
L 397.36 131.62 
L 397.71 125.79 
L 398.05 132.80 
L 398.39 127.76 
L 398.72 133.18 
L 399.04 128.65 
L 399.36 134.83 
L 399.68 128.61 
L 399.98 134.76 
L 400.28 129.61 
L 400.58 136.27 
L 400.87 130.85 
L 401.22 136.95 
L 401.55 131.47 
L 401.88 137.52 
L 402.21 129.12 
L 402.53 138.85 
L 402.84 132.86 
L 403.15 139.65 
L 403.45 133.79 
L 403.75 140.21 
L 404.04 134.68 
L 404.37 140.95 
L 404.70 134.45 
L 405.02 140.90 
L 405.34 132.54 
L 405.65 141.41 
L 405.95 135.31 
L 406.25 142.33 
L 406.55 135.23 
L 406.84 142.43 
L 407.16 135.55 
L 407.48 142.91 
L 407.79 137.82 
L 408.10 144.24 
L 408.41 137.33 
L 408.70 144.78 
L 408.99 138.79 
L 409.32 145.61 
L 409.64 138.86 
L 409.95 145.83 
L 410.25 138.04 
L 410.55 146.51 
L 410.85 135.21 
L 411.14 147.41 
L 411.46 139.76 
L 411.77 147.92 
L 412.07 141.71 
L 412.38 147.50 
L 412.67 141.05 
L 412.96 148.81 
L 413.28 142.56 
L 413.59 149.15 
L 413.89 141.12 
L 414.19 149.81 
L 414.48 142.89 
L 414.77 150.01 
L 415.08 143.72 
L 415.38 150.60 
L 415.68 143.27 
L 415.97 151.50 
L 416.26 141.12 
L 416.57 152.19 
L 416.87 144.94 
L 417.17 152.91 
L 417.46 146.81 
L 417.77 153.82 
L 418.07 145.88 
L 418.37 154.72 
L 418.66 142.75 
L 418.95 154.73 
L 419.25 147.85 
L 419.55 155.92 
L 419.85 149.17 
L 420.13 156.41 
L 420.44 149.64 
L 420.73 157.10 
L 421.03 150.70 
L 421.33 157.78 
L 421.63 149.65 
L 421.93 158.32 
L 422.22 151.38 
L 422.52 158.04 
L 422.82 150.52 
L 423.11 159.68 
L 423.41 146.80 
L 423.71 159.62 
L 424.00 152.73 
L 424.30 160.36 
L 424.60 150.72 
L 424.89 160.86 
L 425.19 155.01 
L 425.49 161.22 
L 425.78 154.10 
L 426.08 162.99 
L 426.38 155.25 
L 426.67 162.72 
L 426.97 154.69 
L 427.26 163.01 
L 427.55 156.41 
L 427.85 163.96 
L 428.14 156.01 
L 428.43 164.88 
L 428.73 157.09 
L 429.02 165.18 
L 429.31 158.18 
L 429.60 165.67 
L 429.90 158.05 
L 430.19 167.01 
L 430.48 159.41 
L 430.78 167.16 
L 431.07 160.02 
L 431.37 168.29 
L 431.66 161.20 
L 431.95 167.91 
L 432.25 160.23 
L 432.54 169.59 
L 432.84 162.92 
L 433.13 169.93 
L 433.43 161.52 
L 433.72 169.39 
L 434.01 159.69 
L 434.30 169.97 
L 434.59 163.84 
L 434.89 170.48 
L 435.18 164.33 
L 435.47 171.92 
L 435.76 165.33 
L 436.05 172.73 
L 436.35 164.78 
L 436.64 173.38 
L 436.93 166.27 
L 437.23 173.40 
L 437.52 166.11 
L 437.81 174.30 
L 438.10 166.25 
L 438.39 173.88 
L 438.68 166.36 
L 438.97 174.60 
L 439.27 167.71 
L 439.56 175.82 
L 439.85 168.35 
L 440.14 175.33 
L 440.43 169.79 
L 440.72 176.32 
L 441.01 170.15 
L 441.30 176.78 
L 441.59 170.12 
L 441.88 178.03 
L 442.18 171.37 
L 442.47 178.49 
L 442.76 167.74 
L 443.05 178.79 
L 443.35 171.86 
L 443.63 178.80 
L 443.92 166.89 
L 444.21 179.78 
L 444.50 173.19 
L 444.79 179.93 
L 445.08 172.08 
L 445.37 181.09 
L 445.66 168.71 
L 445.95 181.22 
L 446.25 169.63 
L 446.54 182.07 
L 446.82 175.25 
L 447.11 181.86 
L 447.40 175.14 
L 447.70 182.29 
L 447.99 175.46 
L 448.27 183.15 
L 448.57 176.20 
L 448.86 183.67 
L 449.15 177.04 
L 449.43 184.62 
L 449.72 178.09 
L 450.01 184.99 
L 450.30 177.50 
L 450.59 185.10 
L 450.88 178.97 
L 451.17 185.84 
L 451.47 178.13 
L 451.75 186.82 
L 452.05 179.18 
L 452.33 186.79 
L 452.62 179.61 
L 452.91 186.53 
L 453.20 180.23 
L 453.49 187.25 
L 453.78 179.95 
L 454.07 188.60 
L 454.36 181.27 
L 454.65 188.48 
L 454.94 181.38 
L 455.23 188.76 
L 455.52 180.87 
L 455.81 189.44 
L 456.09 178.92 
L 456.38 190.43 
L 456.67 183.16 
L 456.96 190.82 
L 457.25 183.01 
L 457.54 191.46 
L 457.83 182.95 
L 458.12 191.48 
L 458.41 183.97 
L 458.70 192.55 
L 458.98 184.91 
L 459.27 192.15 
L 459.56 185.23 
L 459.85 193.08 
L 460.14 186.24 
L 460.43 193.26 
L 460.72 185.41 
L 461.01 193.32 
L 461.30 185.99 
L 461.59 194.48 
L 461.87 187.03 
L 462.16 195.27 
L 462.45 187.36 
L 462.74 194.99 
L 463.03 188.78 
L 463.32 195.97 
L 463.61 189.65 
L 463.90 196.08 
L 464.19 189.91 
L 464.48 197.71 
L 464.76 190.16 
L 465.05 197.06 
L 465.34 191.17 
L 465.63 198.34 
L 465.92 192.18 
L 466.21 198.88 
L 466.50 190.98 
L 466.78 199.51 
L 467.07 192.16 
L 467.36 200.33 
L 467.65 192.17 
L 467.94 200.83 
L 468.23 193.41 
L 468.52 201.59 
L 468.81 193.91 
L 469.09 201.55 
L 469.38 194.28 
L 469.67 201.77 
L 469.96 195.76 
L 470.25 203.21 
L 470.54 195.54 
L 470.83 202.73 
L 471.11 196.96 
L 471.40 204.06 
L 471.69 197.97 
L 471.98 204.24 
L 472.27 197.31 
L 472.56 205.04 
L 472.84 197.98 
L 473.13 204.86 
L 473.42 199.55 
L 473.71 205.96 
L 474.00 200.04 
L 474.29 206.91 
L 474.58 197.03 
L 474.86 207.27 
L 475.15 200.66 
L 475.44 207.46 
L 475.73 200.79 
L 476.02 207.36 
L 476.31 201.74 
L 476.59 208.65 
L 476.88 198.32 
L 477.17 208.68 
L 477.46 201.62 
L 477.75 210.19 
L 478.04 203.25 
L 478.32 210.38 
L 478.61 204.31 
L 478.90 210.76 
L 479.19 203.70 
L 479.48 211.61 
L 479.76 204.13 
L 480.05 211.66 
L 480.34 206.17 
L 480.63 212.79 
L 480.92 206.25 
L 481.21 212.78 
L 481.49 202.73 
L 481.78 212.81 
L 482.07 207.31 
L 482.36 214.20 
L 482.65 206.94 
L 482.94 214.17 
L 483.22 208.22 
L 483.51 214.64 
L 483.80 209.41 
L 484.09 215.80 
L 484.38 209.65 
L 484.66 216.53 
L 484.95 209.92 
L 485.24 216.51 
L 485.53 210.69 
L 485.53 210.69 
" clip-path="url(#p434e9dfe0e)" style="fill: none; stroke: #d62728; stroke-width: 1.5; stroke-linecap: square"/>
</g>
<g id="legend_2">
<g id="patch_13">
<path d="M 299.63 222.52 
L 407.26 222.52 
Q 409.26 222.52 409.26 220.52 
L 409.26 162.16 
Q 409.26 160.16 407.26 160.16 
L 299.63 160.16 
Q 297.63 160.16 297.63 162.16 
L 297.63 220.52 
Q 297.63 222.52 299.63 222.52 
z
" style="fill: #ffffff; opacity: 0.8; stroke: #cccccc; stroke-linejoin: miter"/>
</g>
<g id="line2d_175">
<path d="M 301.63 168.26 
L 311.63 168.26 
L 321.63 168.26 
" style="fill: none; stroke: #1f77b4; stroke-width: 1.5; stroke-linecap: square"/>
</g>
<g id="text_28">
<text style="font-size: 10px; font-family: 'Liberation Sans', sans-serif; text-anchor: start" x="330.14" y="172.48" transform="rotate(-0 330.14 172.48)" textLength="15.45" lengthAdjust="spacingAndGlyphs">GD</text>
</g>
<g id="line2d_176">
<path d="M 301.63 182.98 
L 311.63 182.98 
L 321.63 182.98 
" style="fill: none; stroke: #ff7f0e; stroke-width: 1.5; stroke-linecap: square"/>
</g>
<g id="text_29">
<text style="font-size: 10px; font-family: 'Liberation Sans', sans-serif; text-anchor: start" x="330.14" y="187.20" transform="rotate(-0 330.14 187.20)" textLength="56.68" lengthAdjust="spacingAndGlyphs">SGD: |B|=1</text>
</g>
<g id="line2d_177">
<path d="M 301.63 197.94 
L 311.63 197.94 
L 321.63 197.94 
" style="fill: none; stroke: #2ca02c; stroke-width: 1.5; stroke-linecap: square"/>
</g>
<g id="text_30">
<text style="font-size: 10px; font-family: 'Liberation Sans', sans-serif; text-anchor: start" x="330.14" y="202.16" transform="rotate(-0 330.14 202.16)" textLength="75.63" lengthAdjust="spacingAndGlyphs">AM1: full-batch</text>
</g>
<g id="line2d_178">
<path d="M 301.63 212.66 
L 311.63 212.66 
L 321.63 212.66 
" style="fill: none; stroke: #d62728; stroke-width: 1.5; stroke-linecap: square"/>
</g>
<g id="text_31">
<text style="font-size: 10px; font-family: 'Liberation Sans', sans-serif; text-anchor: start" x="330.14" y="216.88" transform="rotate(-0 330.14 216.88)" textLength="56.72" lengthAdjust="spacingAndGlyphs">AM1: |B|=1</text>
</g>
</g>
</g>
<g id="axes_3">
<g id="patch_14">
<path d="M 536.71 227.52 
L 738.83 227.52 
L 738.83 44.64 
L 536.71 44.64 
z
" style="fill: #ffffff"/>
</g>
<g id="matplotlib.axis_5">
<g id="xtick_87">
<g id="line2d_179">
<g>
<use href="#m1504cfccaf" x="551.16" y="227.88" style="stroke: #000000; stroke-width: 0.8"/>
</g>
</g>
<g id="text_32">
<g transform="translate(542.06 243.91)">
<text>
<tspan x="0" y="-0.97" style="font-size: 10px; font-family: 'Liberation Sans', sans-serif" textLength="6.36" lengthAdjust="spacingAndGlyphs">1</tspan>
<tspan x="6.36" y="-0.97" style="font-size: 10px; font-family: 'Liberation Sans', sans-serif" textLength="6.36" lengthAdjust="spacingAndGlyphs">0</tspan>
<tspan x="12.82" y="-4.80" style="font-size: 7px; font-family: 'Liberation Sans', sans-serif" textLength="4.45" lengthAdjust="spacingAndGlyphs">0</tspan>
</text>
</g>
</g>
</g>
<g id="xtick_88">
<g id="line2d_180">
<g>
<use href="#m1504cfccaf" x="597.96" y="227.88" style="stroke: #000000; stroke-width: 0.8"/>
</g>
</g>
<g id="text_33">
<g transform="translate(589.05 243.91)">
<text>
<tspan x="0" y="-0.06" style="font-size: 10px; font-family: 'Liberation Sans', sans-serif" textLength="6.36" lengthAdjust="spacingAndGlyphs">1</tspan>
<tspan x="6.36" y="-0.06" style="font-size: 10px; font-family: 'Liberation Sans', sans-serif" textLength="6.36" lengthAdjust="spacingAndGlyphs">0</tspan>
<tspan x="12.82" y="-3.89" style="font-size: 7px; font-family: 'Liberation Sans', sans-serif" textLength="4.45" lengthAdjust="spacingAndGlyphs">1</tspan>
</text>
</g>
</g>
</g>
<g id="xtick_89">
<g id="line2d_181">
<g>
<use href="#m1504cfccaf" x="645.48" y="227.88" style="stroke: #000000; stroke-width: 0.8"/>
</g>
</g>
<g id="text_34">
<g transform="translate(636.04 243.91)">
<text>
<tspan x="0" y="-0.97" style="font-size: 10px; font-family: 'Liberation Sans', sans-serif" textLength="6.36" lengthAdjust="spacingAndGlyphs">1</tspan>
<tspan x="6.36" y="-0.97" style="font-size: 10px; font-family: 'Liberation Sans', sans-serif" textLength="6.36" lengthAdjust="spacingAndGlyphs">0</tspan>
<tspan x="12.82" y="-4.80" style="font-size: 7px; font-family: 'Liberation Sans', sans-serif" textLength="4.45" lengthAdjust="spacingAndGlyphs">2</tspan>
</text>
</g>
</g>
</g>
<g id="xtick_90">
<g id="line2d_182">
<g>
<use href="#m1504cfccaf" x="692.28" y="227.88" style="stroke: #000000; stroke-width: 0.8"/>
</g>
</g>
<g id="text_35">
<g transform="translate(683.04 243.91)">
<text>
<tspan x="0" y="-0.97" style="font-size: 10px; font-family: 'Liberation Sans', sans-serif" textLength="6.36" lengthAdjust="spacingAndGlyphs">1</tspan>
<tspan x="6.36" y="-0.97" style="font-size: 10px; font-family: 'Liberation Sans', sans-serif" textLength="6.36" lengthAdjust="spacingAndGlyphs">0</tspan>
<tspan x="12.82" y="-4.80" style="font-size: 7px; font-family: 'Liberation Sans', sans-serif" textLength="4.45" lengthAdjust="spacingAndGlyphs">3</tspan>
</text>
</g>
</g>
</g>
<g id="xtick_91">
<g id="line2d_183">
<g>
<use href="#m1504cfccaf" x="739.08" y="227.88" style="stroke: #000000; stroke-width: 0.8"/>
</g>
</g>
<g id="text_36">
<g transform="translate(730.03 243.91)">
<text>
<tspan x="0" y="-0.06" style="font-size: 10px; font-family: 'Liberation Sans', sans-serif" textLength="6.36" lengthAdjust="spacingAndGlyphs">1</tspan>
<tspan x="6.36" y="-0.06" style="font-size: 10px; font-family: 'Liberation Sans', sans-serif" textLength="6.36" lengthAdjust="spacingAndGlyphs">0</tspan>
<tspan x="12.82" y="-3.89" style="font-size: 7px; font-family: 'Liberation Sans', sans-serif" textLength="4.45" lengthAdjust="spacingAndGlyphs">4</tspan>
</text>
</g>
</g>
</g>
<g id="xtick_92">
<g id="line2d_184">
<g>
<use href="#m05db3bdf9b" x="536.76" y="227.88" style="stroke: #000000; stroke-width: 0.6"/>
</g>
</g>
</g>
<g id="xtick_93">
<g id="line2d_185">
<g>
<use href="#m05db3bdf9b" x="541.08" y="227.88" style="stroke: #000000; stroke-width: 0.6"/>
</g>
</g>
</g>
<g id="xtick_94">
<g id="line2d_186">
<g>
<use href="#m05db3bdf9b" x="543.96" y="227.88" style="stroke: #000000; stroke-width: 0.6"/>
</g>
</g>
</g>
<g id="xtick_95">
<g id="line2d_187">
<g>
<use href="#m05db3bdf9b" x="546.84" y="227.88" style="stroke: #000000; stroke-width: 0.6"/>
</g>
</g>
</g>
<g id="xtick_96">
<g id="line2d_188">
<g>
<use href="#m05db3bdf9b" x="549.00" y="227.88" style="stroke: #000000; stroke-width: 0.6"/>
</g>
</g>
</g>
<g id="xtick_97">
<g id="line2d_189">
<g>
<use href="#m05db3bdf9b" x="565.56" y="227.88" style="stroke: #000000; stroke-width: 0.6"/>
</g>
</g>
</g>
<g id="xtick_98">
<g id="line2d_190">
<g>
<use href="#m05db3bdf9b" x="573.48" y="227.88" style="stroke: #000000; stroke-width: 0.6"/>
</g>
</g>
</g>
<g id="xtick_99">
<g id="line2d_191">
<g>
<use href="#m05db3bdf9b" x="579.24" y="227.88" style="stroke: #000000; stroke-width: 0.6"/>
</g>
</g>
</g>
<g id="xtick_100">
<g id="line2d_192">
<g>
<use href="#m05db3bdf9b" x="584.28" y="227.88" style="stroke: #000000; stroke-width: 0.6"/>
</g>
</g>
</g>
<g id="xtick_101">
<g id="line2d_193">
<g>
<use href="#m05db3bdf9b" x="587.88" y="227.88" style="stroke: #000000; stroke-width: 0.6"/>
</g>
</g>
</g>
<g id="xtick_102">
<g id="line2d_194">
<g>
<use href="#m05db3bdf9b" x="590.76" y="227.88" style="stroke: #000000; stroke-width: 0.6"/>
</g>
</g>
</g>
<g id="xtick_103">
<g id="line2d_195">
<g>
<use href="#m05db3bdf9b" x="593.64" y="227.88" style="stroke: #000000; stroke-width: 0.6"/>
</g>
</g>
</g>
<g id="xtick_104">
<g id="line2d_196">
<g>
<use href="#m05db3bdf9b" x="595.80" y="227.88" style="stroke: #000000; stroke-width: 0.6"/>
</g>
</g>
</g>
<g id="xtick_105">
<g id="line2d_197">
<g>
<use href="#m05db3bdf9b" x="612.36" y="227.88" style="stroke: #000000; stroke-width: 0.6"/>
</g>
</g>
</g>
<g id="xtick_106">
<g id="line2d_198">
<g>
<use href="#m05db3bdf9b" x="620.28" y="227.88" style="stroke: #000000; stroke-width: 0.6"/>
</g>
</g>
</g>
<g id="xtick_107">
<g id="line2d_199">
<g>
<use href="#m05db3bdf9b" x="626.76" y="227.88" style="stroke: #000000; stroke-width: 0.6"/>
</g>
</g>
</g>
<g id="xtick_108">
<g id="line2d_200">
<g>
<use href="#m05db3bdf9b" x="631.08" y="227.88" style="stroke: #000000; stroke-width: 0.6"/>
</g>
</g>
</g>
<g id="xtick_109">
<g id="line2d_201">
<g>
<use href="#m05db3bdf9b" x="634.68" y="227.88" style="stroke: #000000; stroke-width: 0.6"/>
</g>
</g>
</g>
<g id="xtick_110">
<g id="line2d_202">
<g>
<use href="#m05db3bdf9b" x="638.28" y="227.88" style="stroke: #000000; stroke-width: 0.6"/>
</g>
</g>
</g>
<g id="xtick_111">
<g id="line2d_203">
<g>
<use href="#m05db3bdf9b" x="640.44" y="227.88" style="stroke: #000000; stroke-width: 0.6"/>
</g>
</g>
</g>
<g id="xtick_112">
<g id="line2d_204">
<g>
<use href="#m05db3bdf9b" x="643.32" y="227.88" style="stroke: #000000; stroke-width: 0.6"/>
</g>
</g>
</g>
<g id="xtick_113">
<g id="line2d_205">
<g>
<use href="#m05db3bdf9b" x="659.16" y="227.88" style="stroke: #000000; stroke-width: 0.6"/>
</g>
</g>
</g>
<g id="xtick_114">
<g id="line2d_206">
<g>
<use href="#m05db3bdf9b" x="667.80" y="227.88" style="stroke: #000000; stroke-width: 0.6"/>
</g>
</g>
</g>
<g id="xtick_115">
<g id="line2d_207">
<g>
<use href="#m05db3bdf9b" x="673.56" y="227.88" style="stroke: #000000; stroke-width: 0.6"/>
</g>
</g>
</g>
<g id="xtick_116">
<g id="line2d_208">
<g>
<use href="#m05db3bdf9b" x="677.88" y="227.88" style="stroke: #000000; stroke-width: 0.6"/>
</g>
</g>
</g>
<g id="xtick_117">
<g id="line2d_209">
<g>
<use href="#m05db3bdf9b" x="681.48" y="227.88" style="stroke: #000000; stroke-width: 0.6"/>
</g>
</g>
</g>
<g id="xtick_118">
<g id="line2d_210">
<g>
<use href="#m05db3bdf9b" x="685.08" y="227.88" style="stroke: #000000; stroke-width: 0.6"/>
</g>
</g>
</g>
<g id="xtick_119">
<g id="line2d_211">
<g>
<use href="#m05db3bdf9b" x="687.96" y="227.88" style="stroke: #000000; stroke-width: 0.6"/>
</g>
</g>
</g>
<g id="xtick_120">
<g id="line2d_212">
<g>
<use href="#m05db3bdf9b" x="690.12" y="227.88" style="stroke: #000000; stroke-width: 0.6"/>
</g>
</g>
</g>
<g id="xtick_121">
<g id="line2d_213">
<g>
<use href="#m05db3bdf9b" x="706.68" y="227.88" style="stroke: #000000; stroke-width: 0.6"/>
</g>
</g>
</g>
<g id="xtick_122">
<g id="line2d_214">
<g>
<use href="#m05db3bdf9b" x="714.60" y="227.88" style="stroke: #000000; stroke-width: 0.6"/>
</g>
</g>
</g>
<g id="xtick_123">
<g id="line2d_215">
<g>
<use href="#m05db3bdf9b" x="720.36" y="227.88" style="stroke: #000000; stroke-width: 0.6"/>
</g>
</g>
</g>
<g id="xtick_124">
<g id="line2d_216">
<g>
<use href="#m05db3bdf9b" x="725.40" y="227.88" style="stroke: #000000; stroke-width: 0.6"/>
</g>
</g>
</g>
<g id="xtick_125">
<g id="line2d_217">
<g>
<use href="#m05db3bdf9b" x="729.00" y="227.88" style="stroke: #000000; stroke-width: 0.6"/>
</g>
</g>
</g>
<g id="xtick_126">
<g id="line2d_218">
<g>
<use href="#m05db3bdf9b" x="731.88" y="227.88" style="stroke: #000000; stroke-width: 0.6"/>
</g>
</g>
</g>
<g id="xtick_127">
<g id="line2d_219">
<g>
<use href="#m05db3bdf9b" x="734.76" y="227.88" style="stroke: #000000; stroke-width: 0.6"/>
</g>
</g>
</g>
<g id="xtick_128">
<g id="line2d_220">
<g>
<use href="#m05db3bdf9b" x="736.92" y="227.88" style="stroke: #000000; stroke-width: 0.6"/>
</g>
</g>
</g>
<g id="text_37">
<g transform="translate(635.17 259.89)">
<text>
<tspan x="0" y="-0.87" style="font-style: oblique; font-size: 13px; font-family: 'Liberation Sans', sans-serif" textLength="5.10" lengthAdjust="spacingAndGlyphs">t</tspan>
</text>
</g>
</g>
</g>
<g id="matplotlib.axis_6">
<g id="ytick_73">
<g id="line2d_221">
<g>
<use href="#m5d545ce8f8" x="536.76" y="227.88" style="stroke: #000000; stroke-width: 0.8"/>
</g>
</g>
<g id="text_38">
<g transform="translate(506.21 232.75)">
<text>
<tspan x="0" y="-0.97" style="font-size: 10px; font-family: 'Liberation Sans', sans-serif" textLength="6.36" lengthAdjust="spacingAndGlyphs">1</tspan>
<tspan x="6.36" y="-0.97" style="font-size: 10px; font-family: 'Liberation Sans', sans-serif" textLength="6.36" lengthAdjust="spacingAndGlyphs">0</tspan>
<tspan x="12.82" y="-4.80" style="font-size: 7px; font-family: 'Liberation Sans', sans-serif" textLength="5.87" lengthAdjust="spacingAndGlyphs">−</tspan>
<tspan x="18.68" y="-4.80" style="font-size: 7px; font-family: 'Liberation Sans', sans-serif" textLength="4.45" lengthAdjust="spacingAndGlyphs">2</tspan>
</text>
</g>
</g>
</g>
<g id="ytick_74">
<g id="line2d_222">
<g>
<use href="#m5d545ce8f8" x="536.76" y="154.44" style="stroke: #000000; stroke-width: 0.8"/>
</g>
</g>
<g id="text_39">
<g transform="translate(506.21 159.01)">
<text>
<tspan x="0" y="-0.06" style="font-size: 10px; font-family: 'Liberation Sans', sans-serif" textLength="6.36" lengthAdjust="spacingAndGlyphs">1</tspan>
<tspan x="6.36" y="-0.06" style="font-size: 10px; font-family: 'Liberation Sans', sans-serif" textLength="6.36" lengthAdjust="spacingAndGlyphs">0</tspan>
<tspan x="12.82" y="-3.89" style="font-size: 7px; font-family: 'Liberation Sans', sans-serif" textLength="5.87" lengthAdjust="spacingAndGlyphs">−</tspan>
<tspan x="18.68" y="-3.89" style="font-size: 7px; font-family: 'Liberation Sans', sans-serif" textLength="4.45" lengthAdjust="spacingAndGlyphs">1</tspan>
</text>
</g>
</g>
</g>
<g id="ytick_75">
<g id="line2d_223">
<g>
<use href="#m5d545ce8f8" x="536.76" y="80.28" style="stroke: #000000; stroke-width: 0.8"/>
</g>
</g>
<g id="text_40">
<g transform="translate(512.11 85.27)">
<text>
<tspan x="0" y="-0.97" style="font-size: 10px; font-family: 'Liberation Sans', sans-serif" textLength="6.36" lengthAdjust="spacingAndGlyphs">1</tspan>
<tspan x="6.36" y="-0.97" style="font-size: 10px; font-family: 'Liberation Sans', sans-serif" textLength="6.36" lengthAdjust="spacingAndGlyphs">0</tspan>
<tspan x="12.82" y="-4.80" style="font-size: 7px; font-family: 'Liberation Sans', sans-serif" textLength="4.45" lengthAdjust="spacingAndGlyphs">0</tspan>
</text>
</g>
</g>
</g>
<g id="ytick_76">
<g id="line2d_224">
<g>
<use href="#mc3d89a154a" x="536.76" y="205.56" style="stroke: #000000; stroke-width: 0.6"/>
</g>
</g>
</g>
<g id="ytick_77">
<g id="line2d_225">
<g>
<use href="#mc3d89a154a" x="536.76" y="192.60" style="stroke: #000000; stroke-width: 0.6"/>
</g>
</g>
</g>
<g id="ytick_78">
<g id="line2d_226">
<g>
<use href="#mc3d89a154a" x="536.76" y="183.24" style="stroke: #000000; stroke-width: 0.6"/>
</g>
</g>
</g>
<g id="ytick_79">
<g id="line2d_227">
<g>
<use href="#mc3d89a154a" x="536.76" y="176.04" style="stroke: #000000; stroke-width: 0.6"/>
</g>
</g>
</g>
<g id="ytick_80">
<g id="line2d_228">
<g>
<use href="#mc3d89a154a" x="536.76" y="170.28" style="stroke: #000000; stroke-width: 0.6"/>
</g>
</g>
</g>
<g id="ytick_81">
<g id="line2d_229">
<g>
<use href="#mc3d89a154a" x="536.76" y="165.24" style="stroke: #000000; stroke-width: 0.6"/>
</g>
</g>
</g>
<g id="ytick_82">
<g id="line2d_230">
<g>
<use href="#mc3d89a154a" x="536.76" y="161.64" style="stroke: #000000; stroke-width: 0.6"/>
</g>
</g>
</g>
<g id="ytick_83">
<g id="line2d_231">
<g>
<use href="#mc3d89a154a" x="536.76" y="157.32" style="stroke: #000000; stroke-width: 0.6"/>
</g>
</g>
</g>
<g id="ytick_84">
<g id="line2d_232">
<g>
<use href="#mc3d89a154a" x="536.76" y="132.12" style="stroke: #000000; stroke-width: 0.6"/>
</g>
</g>
</g>
<g id="ytick_85">
<g id="line2d_233">
<g>
<use href="#mc3d89a154a" x="536.76" y="119.16" style="stroke: #000000; stroke-width: 0.6"/>
</g>
</g>
</g>
<g id="ytick_86">
<g id="line2d_234">
<g>
<use href="#mc3d89a154a" x="536.76" y="109.80" style="stroke: #000000; stroke-width: 0.6"/>
</g>
</g>
</g>
<g id="ytick_87">
<g id="line2d_235">
<g>
<use href="#mc3d89a154a" x="536.76" y="102.60" style="stroke: #000000; stroke-width: 0.6"/>
</g>
</g>
</g>
<g id="ytick_88">
<g id="line2d_236">
<g>
<use href="#mc3d89a154a" x="536.76" y="96.84" style="stroke: #000000; stroke-width: 0.6"/>
</g>
</g>
</g>
<g id="ytick_89">
<g id="line2d_237">
<g>
<use href="#mc3d89a154a" x="536.76" y="91.80" style="stroke: #000000; stroke-width: 0.6"/>
</g>
</g>
</g>
<g id="ytick_90">
<g id="line2d_238">
<g>
<use href="#mc3d89a154a" x="536.76" y="87.48" style="stroke: #000000; stroke-width: 0.6"/>
</g>
</g>
</g>
<g id="ytick_91">
<g id="line2d_239">
<g>
<use href="#mc3d89a154a" x="536.76" y="83.88" style="stroke: #000000; stroke-width: 0.6"/>
</g>
</g>
</g>
<g id="ytick_92">
<g id="line2d_240">
<g>
<use href="#mc3d89a154a" x="536.76" y="57.96" style="stroke: #000000; stroke-width: 0.6"/>
</g>
</g>
</g>
<g id="ytick_93">
<g id="line2d_241">
<g>
<use href="#mc3d89a154a" x="536.76" y="45.00" style="stroke: #000000; stroke-width: 0.6"/>
</g>
</g>
</g>
</g>
<g id="patch_15">
<path d="M 536.76 227.88 L 536.76 45.00" style="fill: none; stroke: #000000; stroke-width: 0.8; stroke-linejoin: miter; stroke-linecap: square"/>
</g>
<g id="patch_16">
<path d="M 739.08 227.88 L 739.08 45.00" style="fill: none; stroke: #000000; stroke-width: 0.8; stroke-linejoin: miter; stroke-linecap: square"/>
</g>
<g id="patch_17">
<path d="M 536.76 227.88 L 739.08 227.88" style="fill: none; stroke: #000000; stroke-width: 0.8; stroke-linejoin: miter; stroke-linecap: square"/>
</g>
<g id="patch_18">
<path d="M 536.76 45.00 L 739.08 45.00" style="fill: none; stroke: #000000; stroke-width: 0.8; stroke-linejoin: miter; stroke-linecap: square"/>
</g>
<g id="line2d_242">
<path d="M 550.94 57.81 
L 565.10 58.10 
L 573.38 54.86 
L 579.26 52.70 
L 583.82 58.68 
L 587.54 60.84 
L 590.69 55.44 
L 593.42 61.34 
L 595.82 64.58 
L 597.98 65.52 
L 599.92 67.24 
L 601.70 67.82 
L 603.34 68.67 
L 604.85 66.78 
L 606.26 70.18 
L 607.58 64.16 
L 608.82 69.99 
L 609.98 65.55 
L 611.09 69.39 
L 612.14 66.63 
L 613.13 73.97 
L 614.08 66.23 
L 614.99 74.04 
L 615.86 69.75 
L 616.69 75.13 
L 617.50 67.40 
L 618.27 72.81 
L 619.01 68.69 
L 619.73 72.68 
L 620.42 71.15 
L 621.09 74.42 
L 621.74 71.66 
L 622.37 76.70 
L 622.98 69.83 
L 623.57 75.75 
L 624.14 72.28 
L 624.70 75.30 
L 625.25 73.36 
L 625.78 77.68 
L 626.30 71.65 
L 626.80 75.42 
L 627.29 72.32 
L 627.77 76.78 
L 628.24 71.28 
L 628.70 78.33 
L 629.15 73.90 
L 629.59 80.13 
L 630.02 75.23 
L 630.44 83.80 
L 630.85 79.57 
L 631.26 83.61 
L 631.66 80.35 
L 632.04 85.05 
L 632.43 83.66 
L 632.80 86.94 
L 633.17 85.69 
L 633.53 88.74 
L 633.89 87.61 
L 634.24 92.49 
L 634.58 87.69 
L 634.92 94.12 
L 635.25 90.36 
L 635.58 95.23 
L 636.21 93.37 
L 636.83 97.15 
L 637.43 96.30 
L 638.02 101.42 
L 638.59 99.82 
L 639.14 102.04 
L 639.67 100.42 
L 640.20 104.93 
L 640.71 102.77 
L 641.21 108.07 
L 641.69 104.22 
L 642.17 108.96 
L 642.63 107.08 
L 643.09 111.36 
L 643.53 107.58 
L 643.97 112.38 
L 644.39 108.85 
L 644.81 113.69 
L 645.22 109.85 
L 645.62 114.26 
L 646.01 111.63 
L 646.40 116.89 
L 646.77 113.78 
L 647.15 117.31 
L 647.51 114.88 
L 647.87 118.11 
L 648.22 116.67 
L 648.57 118.23 
L 648.91 116.25 
L 649.24 120.26 
L 649.57 117.62 
L 649.90 121.85 
L 650.37 119.11 
L 650.84 122.19 
L 651.30 120.82 
L 651.74 124.24 
L 652.18 120.49 
L 652.60 125.17 
L 653.02 121.47 
L 653.43 126.01 
L 653.83 122.88 
L 654.23 126.02 
L 654.62 123.72 
L 654.99 127.27 
L 655.37 125.37 
L 655.73 128.16 
L 656.09 126.01 
L 656.45 129.75 
L 656.79 126.88 
L 657.13 129.68 
L 657.47 128.01 
L 657.80 131.09 
L 658.13 128.17 
L 658.55 130.62 
L 658.97 129.03 
L 659.38 130.75 
L 659.78 129.45 
L 660.17 131.22 
L 660.56 128.59 
L 660.93 132.86 
L 661.31 129.14 
L 661.67 131.81 
L 662.03 129.46 
L 662.38 132.86 
L 662.73 129.48 
L 663.07 133.01 
L 663.40 129.67 
L 663.73 133.11 
L 664.06 131.22 
L 664.45 133.51 
L 664.85 130.10 
L 665.23 134.00 
L 665.60 131.04 
L 665.97 133.65 
L 666.34 130.85 
L 666.69 133.64 
L 667.04 131.13 
L 667.39 134.70 
L 667.73 130.52 
L 668.06 134.53 
L 668.39 132.11 
L 668.78 134.09 
L 669.15 131.78 
L 669.53 134.83 
L 669.65 133.24 
L 670.01 131.87 
L 670.37 134.96 
L 670.72 131.94 
L 671.07 136.57 
L 671.41 131.51 
L 671.74 133.55 
L 672.07 132.16 
L 672.45 133.49 
L 672.82 131.96 
L 673.18 132.82 
L 673.54 131.46 
L 673.89 133.26 
L 674.23 131.15 
L 674.57 132.37 
L 674.91 131.32 
L 675.23 132.73 
L 675.60 131.25 
L 675.97 135.58 
L 676.32 131.41 
L 676.67 133.98 
L 677.02 131.12 
L 677.35 131.29 
L 677.69 130.01 
L 678.01 133.59 
L 678.38 128.49 
L 678.73 129.45 
L 679.08 124.62 
L 679.43 128.24 
L 679.76 123.35 
L 680.10 127.55 
L 680.42 125.64 
L 680.78 126.20 
L 681.13 121.67 
L 681.48 127.84 
L 681.82 122.98 
L 682.15 127.47 
L 682.48 122.26 
L 682.84 123.52 
L 683.19 121.95 
L 683.53 125.93 
L 683.87 120.90 
L 684.20 122.13 
L 684.53 120.35 
L 684.88 124.41 
L 685.23 120.18 
L 685.57 121.17 
L 685.90 119.64 
L 686.23 120.59 
L 686.58 119.32 
L 686.92 121.65 
L 687.26 118.14 
L 687.60 122.23 
L 687.92 118.24 
L 688.27 118.83 
L 688.61 115.29 
L 688.95 121.46 
L 689.28 115.06 
L 689.60 118.06 
L 689.94 116.91 
L 690.28 117.75 
L 690.61 115.85 
L 690.94 116.94 
L 691.28 115.85 
L 691.62 116.93 
L 691.95 115.24 
L 692.28 116.40 
L 692.62 114.83 
L 692.95 116.27 
L 693.28 111.32 
L 693.61 115.61 
L 693.94 113.99 
L 694.28 117.36 
L 694.60 113.19 
L 694.94 114.26 
L 695.28 112.31 
L 695.61 113.23 
L 695.95 111.67 
L 696.28 115.18 
L 696.61 110.70 
L 696.93 113.06 
L 697.27 107.61 
L 697.60 111.19 
L 697.92 109.06 
L 698.26 110.06 
L 698.59 105.50 
L 698.93 109.10 
L 699.26 107.33 
L 699.59 107.94 
L 699.92 106.44 
L 700.25 108.59 
L 700.58 105.44 
L 700.91 106.62 
L 701.24 104.39 
L 701.58 108.64 
L 701.91 104.78 
L 702.23 105.91 
L 702.56 103.74 
L 702.89 104.88 
L 703.23 103.67 
L 703.55 104.89 
L 703.89 103.40 
L 704.22 104.77 
L 704.55 101.94 
L 704.88 104.23 
L 705.21 100.39 
L 705.54 104.32 
L 705.86 102.25 
L 706.19 103.54 
L 706.52 102.52 
L 706.85 103.39 
L 707.17 99.58 
L 707.50 103.61 
L 707.83 102.27 
L 708.16 103.37 
L 708.49 102.04 
L 708.82 103.58 
L 709.15 99.23 
L 709.47 103.92 
L 709.80 99.83 
L 710.13 103.58 
L 710.46 102.64 
L 710.79 104.20 
L 711.11 99.73 
L 711.44 106.23 
L 711.77 102.48 
L 712.09 106.21 
L 712.42 102.87 
L 712.75 104.19 
L 713.08 102.99 
L 713.40 104.62 
L 713.73 100.67 
L 714.06 104.51 
L 714.39 103.49 
L 714.71 104.44 
L 715.04 103.76 
L 715.37 107.12 
L 715.70 103.29 
L 716.02 104.37 
L 716.35 103.52 
L 716.68 106.76 
L 717.00 103.07 
L 717.33 105.03 
L 717.66 103.63 
L 717.99 104.55 
L 718.32 103.58 
L 718.64 104.69 
L 718.97 103.34 
L 719.29 104.62 
L 719.62 103.18 
L 719.94 104.81 
L 720.27 103.25 
L 720.59 104.42 
L 720.92 103.18 
L 721.25 104.81 
L 721.57 103.53 
L 721.90 104.60 
L 722.22 102.99 
L 722.55 104.57 
L 722.88 103.50 
L 723.20 104.79 
L 723.53 103.26 
L 723.86 104.21 
L 724.18 103.14 
L 724.51 107.43 
L 724.84 102.69 
L 725.16 104.44 
L 725.49 103.19 
L 725.81 103.93 
L 726.14 102.80 
L 726.46 106.59 
L 726.79 102.90 
L 727.12 103.73 
L 727.44 102.56 
L 727.77 106.56 
L 728.09 101.90 
L 728.42 103.69 
L 728.74 102.10 
L 729.07 103.08 
L 729.39 101.60 
L 729.72 105.38 
L 730.05 101.50 
L 730.37 102.68 
L 730.70 101.43 
L 731.02 102.56 
L 731.35 98.67 
L 731.67 102.78 
L 732.00 100.95 
L 732.32 102.50 
L 732.65 101.15 
L 732.97 102.83 
L 733.30 101.55 
L 733.63 102.83 
L 733.95 101.21 
L 734.28 102.84 
L 734.60 101.63 
L 734.93 102.95 
L 735.25 101.33 
L 735.58 103.43 
L 735.90 101.65 
L 736.23 104.89 
L 736.55 101.52 
L 736.88 104.74 
L 737.20 99.61 
L 737.53 103.54 
L 737.85 102.02 
L 738.18 103.15 
L 738.50 102.20 
L 738.83 103.57 
L 738.83 103.57 
" clip-path="url(#p81a03b5cd6)" style="fill: none; stroke: #fee838; stroke-width: 1.5; stroke-linecap: square"/>
</g>
<g id="text_41">
<text style="font-size: 13px; font-family: 'Liberation Sans', sans-serif; text-anchor: middle" x="637.77" y="38.64" transform="rotate(-0 637.77 38.64)" textLength="132.23" lengthAdjust="spacingAndGlyphs">Jacobi scheduled HB</text>
</g>
<g id="line2d_243">
<path d="M 550.94 57.81 
L 565.10 55.44 
L 573.38 59.76 
L 579.26 46.8 
L 583.82 58.68 
L 587.54 60.84 
L 590.69 61.92 
L 593.42 65.52 
L 595.82 66.96 
L 597.98 68.4 
L 599.92 70.56 
L 601.70 72 
L 603.34 76.93 
L 604.85 75.14 
L 606.26 79.05 
L 607.58 75.71 
L 608.82 81.31 
L 609.98 78.55 
L 611.09 82.40 
L 612.14 79.76 
L 613.13 84.38 
L 614.08 81.66 
L 614.99 84.84 
L 615.86 84.24 
L 616.69 86.67 
L 617.50 84.83 
L 618.27 89.08 
L 619.01 86.86 
L 619.73 90.44 
L 620.42 89.12 
L 621.09 91.40 
L 621.74 90.54 
L 622.37 94.88 
L 622.98 92.19 
L 623.57 94.75 
L 624.14 91.80 
L 624.70 95.25 
L 625.25 94.79 
L 625.78 97.66 
L 626.30 94.02 
L 626.80 97.30 
L 627.29 95.29 
L 627.77 100.09 
L 628.24 97.69 
L 628.70 100.53 
L 629.15 97.46 
L 629.59 100.89 
L 630.02 97.16 
L 630.44 100.51 
L 630.85 99.48 
L 631.26 102.83 
L 631.66 99.97 
L 632.04 102.50 
L 632.43 99.76 
L 632.80 104.62 
L 633.17 101.42 
L 633.53 104.18 
L 633.89 102.00 
L 634.24 104.58 
L 634.58 101.78 
L 634.92 106.04 
L 635.25 103.61 
L 635.58 106.45 
L 636.21 103.46 
L 636.83 106.40 
L 637.43 105.66 
L 638.02 107.77 
L 638.59 106.66 
L 639.14 110.32 
L 639.67 106.58 
L 640.20 109.83 
L 640.71 107.83 
L 641.21 111.47 
L 641.69 109.85 
L 642.17 112.98 
L 642.63 110.07 
L 643.09 112.41 
L 643.53 111.47 
L 643.97 114.08 
L 644.39 111.35 
L 644.81 116.00 
L 645.22 111.95 
L 645.62 115.89 
L 646.01 114.39 
L 646.40 117.56 
L 646.77 114.72 
L 647.15 117.00 
L 647.51 114.54 
L 647.87 117.61 
L 648.22 116.68 
L 648.57 119.53 
L 648.91 117.12 
L 649.24 121.27 
L 649.57 118.38 
L 649.90 120.68 
L 650.37 119.06 
L 650.84 122.27 
L 651.30 121.61 
L 651.74 124.10 
L 652.18 122.68 
L 652.60 126.40 
L 653.02 124.36 
L 653.43 127.44 
L 653.83 124.68 
L 654.23 127.34 
L 654.62 126.95 
L 654.99 130.05 
L 655.37 127.93 
L 655.73 129.61 
L 656.09 128.94 
L 656.45 131.71 
L 656.79 129.55 
L 657.13 132.84 
L 657.47 129.90 
L 657.80 133.15 
L 658.13 132.18 
L 658.55 135.26 
L 658.97 133.45 
L 659.38 136.06 
L 659.78 134.56 
L 660.17 136.20 
L 660.56 135.64 
L 660.93 138.01 
L 661.31 136.37 
L 661.67 137.87 
L 662.03 137.18 
L 662.38 138.97 
L 662.73 138.33 
L 663.07 139.76 
L 663.40 138.14 
L 663.73 141.37 
L 664.06 139.63 
L 664.45 142.00 
L 664.85 139.50 
L 665.23 142.83 
L 665.60 141.27 
L 665.97 142.89 
L 666.34 141.44 
L 666.69 145.03 
L 667.04 143.48 
L 667.39 144.85 
L 667.73 142.94 
L 668.06 145.93 
L 668.39 144.15 
L 668.78 145.74 
L 669.15 145.05 
L 669.53 146.88 
L 669.89 144.57 
L 670.25 147.97 
L 670.61 144.97 
L 670.95 147.52 
L 671.29 145.41 
L 671.63 147.49 
L 671.96 146.06 
L 672.29 148.94 
L 672.66 147.43 
L 673.02 148.91 
L 673.38 147.72 
L 673.74 149.19 
L 674.09 148.07 
L 674.43 149.68 
L 674.76 148.66 
L 675.09 150.72 
L 675.42 149.22 
L 675.79 151.00 
L 676.14 149.49 
L 676.50 151.35 
L 676.84 149.81 
L 677.19 151.74 
L 677.52 150.19 
L 677.85 152.07 
L 678.18 151.47 
L 678.54 153.92 
L 678.89 151.82 
L 679.24 153.62 
L 679.58 151.92 
L 679.91 155.49 
L 680.24 152.59 
L 680.57 155.88 
L 680.92 154.45 
L 681.27 156.94 
L 681.62 154.45 
L 681.95 157.65 
L 682.29 155.19 
L 682.61 156.97 
L 682.97 155.25 
L 683.31 157.91 
L 683.66 156.45 
L 683.99 158.94 
L 684.32 157.95 
L 684.65 159.34 
L 685.00 157.92 
L 685.34 160.33 
L 685.68 158.73 
L 686.01 162.02 
L 686.34 160.07 
L 686.69 161.48 
L 687.03 160.52 
L 687.37 163.09 
L 687.70 160.30 
L 688.02 162.64 
L 688.37 161.24 
L 688.71 163.01 
L 689.04 161.82 
L 689.37 163.24 
L 689.72 161.10 
L 690.06 163.10 
L 690.39 161.18 
L 690.72 164.42 
L 691.05 161.66 
L 691.39 163.79 
L 691.72 162.64 
L 692.05 164.93 
L 692.38 162.97 
L 692.72 164.43 
L 693.05 162.72 
L 693.38 164.14 
L 693.72 161.98 
L 694.05 164.42 
L 694.39 162.56 
L 694.71 165.61 
L 695.05 162.81 
L 695.38 164.68 
L 695.71 162.81 
L 696.05 164.98 
L 696.38 162.75 
L 696.71 164.88 
L 697.05 163.19 
L 697.38 165.58 
L 697.71 163.33 
L 698.05 164.79 
L 698.38 163.57 
L 698.71 165.54 
L 699.04 162.40 
L 699.37 165.73 
L 699.70 162.63 
L 700.03 164.58 
L 700.36 162.48 
L 700.70 164.57 
L 701.03 163.11 
L 701.36 165.17 
L 701.69 162.39 
L 702.02 164.32 
L 702.36 163.08 
L 702.69 163.96 
L 703.01 162.48 
L 703.34 164.95 
L 703.67 162.63 
L 704.00 164.49 
L 704.33 162.74 
L 704.66 163.97 
L 704.99 161.86 
L 705.32 164.13 
L 705.65 161.47 
L 705.99 164.34 
L 706.31 161.93 
L 706.65 162.74 
L 706.97 161.01 
L 707.31 163.60 
L 707.63 160.30 
L 707.96 161.92 
L 708.29 160.94 
L 708.62 161.77 
L 708.94 160.35 
L 709.27 161.57 
L 709.60 160.25 
L 709.93 161.24 
L 710.26 158.62 
L 710.58 160.48 
L 710.91 158.41 
L 711.24 159.98 
L 711.56 159.08 
L 711.89 160.14 
L 712.22 157.34 
L 712.55 159.42 
L 712.87 156.97 
L 713.20 158.76 
L 713.53 156.66 
L 713.86 159.14 
L 714.19 156.36 
L 714.51 158.59 
L 714.85 156.65 
L 715.17 158.46 
L 715.50 155.86 
L 715.83 157.64 
L 716.15 154.30 
L 716.48 157.25 
L 716.81 154.30 
L 717.14 155.61 
L 717.46 153.24 
L 717.79 154.66 
L 718.12 152.42 
L 718.44 154.77 
L 718.77 153.07 
L 719.10 154.05 
L 719.43 151.71 
L 719.76 152.94 
L 720.09 150.87 
L 720.42 151.97 
L 720.75 150.77 
L 721.07 152.10 
L 721.40 150.16 
L 721.73 151.01 
L 722.06 149.03 
L 722.38 149.90 
L 722.71 148.55 
L 723.03 149.10 
L 723.36 146.81 
L 723.69 148.94 
L 724.01 146.80 
L 724.34 148.57 
L 724.67 146.13 
L 724.99 147.87 
L 725.32 144.82 
L 725.64 146.57 
L 725.97 144.22 
L 726.30 144.88 
L 726.62 141.99 
L 726.95 142.08 
L 727.27 138.52 
L 727.60 138.56 
L 727.93 135.81 
L 728.25 136.07 
L 728.58 132.40 
L 728.90 134.05 
L 729.23 129.92 
L 729.56 132.57 
L 729.88 128.81 
L 730.21 129.60 
L 730.53 126.26 
L 730.86 128.92 
L 731.18 124.57 
L 731.51 126.22 
L 731.84 123.62 
L 732.16 124.72 
L 732.49 121.93 
L 732.81 123.59 
L 733.14 119.50 
L 733.46 121.49 
L 733.79 118.21 
L 734.11 118.83 
L 734.44 116.02 
L 734.76 117.80 
L 735.09 114.56 
L 735.42 114.58 
L 735.74 112.75 
L 736.07 112.82 
L 736.39 110.12 
L 736.72 111.21 
L 737.04 107.27 
L 737.37 108.94 
L 737.69 106.23 
L 738.02 106.59 
L 738.34 104.80 
L 738.67 106.08 
L 738.99 101.60 
L 738.99 101.60 
" clip-path="url(#p81a03b5cd6)" style="fill: none; stroke: #bcae6c; stroke-width: 1.5; stroke-linecap: square"/>
</g>
<g id="line2d_244">
<path d="M 550.94 57.81 
L 565.10 61.2 
L 573.38 64.08 
L 579.26 54.86 
L 583.82 65.66 
L 590.69 67.32 
L 593.42 68.76 
L 595.82 71.28 
L 597.98 72.36 
L 599.92 73.08 
L 601.70 75.24 
L 603.34 77.98 
L 604.85 78.81 
L 606.26 80.95 
L 607.58 82.00 
L 608.82 84.23 
L 609.98 84.81 
L 611.09 87.06 
L 612.14 87.69 
L 613.13 89.50 
L 614.08 90.19 
L 614.99 92.42 
L 615.86 92.42 
L 616.69 94.39 
L 617.50 93.96 
L 618.27 96.30 
L 619.01 96.21 
L 619.73 97.57 
L 620.42 97.99 
L 621.09 99.09 
L 621.74 99.44 
L 622.37 101.26 
L 622.98 100.78 
L 623.57 102.51 
L 624.14 102.08 
L 624.70 103.67 
L 625.25 103.06 
L 625.78 104.66 
L 626.30 104.63 
L 626.80 105.89 
L 627.29 105.75 
L 627.77 107.10 
L 628.24 106.80 
L 628.70 108.39 
L 629.15 107.93 
L 629.59 109.34 
L 630.02 108.70 
L 630.44 110.14 
L 630.85 109.79 
L 631.26 111.03 
L 631.66 110.68 
L 632.04 111.69 
L 632.43 111.78 
L 632.80 112.53 
L 633.17 112.17 
L 633.53 113.30 
L 633.89 113.10 
L 634.24 114.15 
L 634.58 114.18 
L 634.92 115.25 
L 635.25 114.64 
L 635.58 116.21 
L 636.21 115.80 
L 636.83 117.08 
L 637.43 116.91 
L 638.02 118.50 
L 638.59 118.13 
L 639.14 120.03 
L 639.67 119.56 
L 640.20 120.86 
L 640.71 120.99 
L 641.21 122.05 
L 641.69 122.04 
L 642.17 123.35 
L 642.63 122.84 
L 643.09 124.23 
L 643.53 123.68 
L 643.97 125.14 
L 644.39 124.69 
L 644.81 126.33 
L 645.22 125.71 
L 645.62 127.27 
L 646.01 126.74 
L 646.40 127.62 
L 646.77 127.72 
L 647.15 128.98 
L 647.51 128.13 
L 647.87 129.32 
L 648.22 128.97 
L 648.57 130.56 
L 648.91 129.52 
L 649.24 130.78 
L 649.57 130.63 
L 649.90 131.59 
L 650.37 131.26 
L 650.84 132.82 
L 651.30 132.34 
L 651.74 133.62 
L 652.18 133.09 
L 652.60 134.68 
L 653.02 134.14 
L 653.43 134.91 
L 653.83 135.03 
L 654.23 135.97 
L 654.62 135.53 
L 654.99 136.83 
L 655.37 136.03 
L 655.73 137.32 
L 656.09 137.04 
L 656.45 138.50 
L 656.79 137.78 
L 657.13 138.59 
L 657.47 138.11 
L 657.80 139.64 
L 658.13 138.71 
L 658.55 140.38 
L 658.97 139.57 
L 659.38 141.19 
L 659.78 140.89 
L 660.17 142.02 
L 660.56 141.40 
L 660.93 142.36 
L 661.31 142.00 
L 661.67 143.16 
L 662.03 142.88 
L 662.38 144.21 
L 662.73 143.42 
L 663.07 145.06 
L 663.40 144.50 
L 663.73 145.26 
L 664.06 144.99 
L 664.45 146.10 
L 664.85 145.64 
L 665.23 147.24 
L 665.60 146.38 
L 665.97 147.78 
L 666.34 147.43 
L 666.69 148.34 
L 667.04 148.11 
L 667.39 148.89 
L 667.73 148.34 
L 668.06 149.65 
L 668.39 149.38 
L 668.78 150.67 
L 669.15 150.00 
L 669.53 151.30 
L 669.89 150.76 
L 670.25 151.99 
L 670.61 151.42 
L 670.95 152.53 
L 671.29 151.91 
L 671.63 152.87 
L 671.96 152.78 
L 672.29 153.86 
L 672.66 153.23 
L 673.02 154.46 
L 673.38 153.68 
L 673.74 154.76 
L 674.09 154.64 
L 674.43 155.73 
L 674.76 155.13 
L 675.09 156.44 
L 675.42 155.52 
L 675.79 157.05 
L 676.14 156.62 
L 676.50 157.83 
L 676.84 156.81 
L 677.19 157.92 
L 677.52 157.74 
L 677.85 158.49 
L 678.18 158.19 
L 678.54 159.58 
L 678.89 158.61 
L 679.24 160.32 
L 679.58 159.78 
L 679.91 160.46 
L 680.24 159.90 
L 680.57 161.39 
L 680.92 160.96 
L 681.27 161.85 
L 681.62 161.38 
L 681.95 162.34 
L 682.29 162.24 
L 682.61 162.96 
L 682.97 162.34 
L 683.31 163.94 
L 683.66 163.29 
L 683.99 164.56 
L 684.32 164.13 
L 684.65 165.12 
L 685.00 164.20 
L 685.34 165.31 
L 685.68 165.04 
L 686.01 166.35 
L 686.34 165.88 
L 686.69 166.79 
L 687.03 166.48 
L 687.37 167.62 
L 687.70 166.71 
L 688.02 167.99 
L 688.37 167.93 
L 688.71 168.69 
L 689.04 168.51 
L 689.37 169.60 
L 689.72 169.41 
L 690.06 170.50 
L 690.39 170.03 
L 690.72 170.90 
L 691.05 170.62 
L 691.39 171.73 
L 691.72 171.18 
L 692.05 172.72 
L 692.38 172.12 
L 692.72 173.17 
L 693.05 172.76 
L 693.38 173.75 
L 693.72 173.41 
L 694.05 174.61 
L 694.39 174.18 
L 694.71 175.49 
L 695.05 174.88 
L 695.38 176.23 
L 695.71 175.84 
L 696.05 176.81 
L 696.38 176.71 
L 696.71 177.77 
L 697.05 177.34 
L 697.38 178.67 
L 697.71 178.01 
L 698.05 179.29 
L 698.38 178.95 
L 698.71 179.77 
L 699.04 179.56 
L 699.37 180.37 
L 699.70 180.13 
L 700.03 181.32 
L 700.36 181.24 
L 700.70 182.20 
L 701.03 181.79 
L 701.36 182.67 
L 701.69 182.44 
L 702.02 183.36 
L 702.36 182.91 
L 702.69 184.03 
L 703.01 183.72 
L 703.34 185.30 
L 703.67 184.32 
L 704.00 185.85 
L 704.33 185.33 
L 704.66 186.76 
L 704.99 185.74 
L 705.32 187.17 
L 705.65 186.82 
L 705.99 187.81 
L 706.31 186.91 
L 706.65 189.01 
L 706.97 188.08 
L 707.31 189.65 
L 707.63 188.34 
L 707.96 189.71 
L 708.29 188.67 
L 708.62 190.91 
L 708.94 189.71 
L 709.27 190.70 
L 709.60 190.50 
L 709.93 192.06 
L 710.26 190.81 
L 710.58 192.52 
L 710.91 191.53 
L 711.24 193.31 
L 711.56 191.84 
L 711.89 193.08 
L 712.22 192.18 
L 712.55 193.82 
L 712.87 192.94 
L 713.20 194.73 
L 713.53 192.89 
L 713.86 196.00 
L 714.19 194.24 
L 714.51 195.71 
L 714.85 193.92 
L 715.17 196.66 
L 715.50 194.97 
L 715.83 197.01 
L 716.15 194.42 
L 716.48 197.59 
L 716.81 196.00 
L 717.14 198.21 
L 717.46 195.08 
L 717.79 197.71 
L 718.12 195.39 
L 718.44 198.19 
L 718.77 195.90 
L 719.10 199.12 
L 719.43 197.20 
L 719.76 198.70 
L 720.09 197.66 
L 720.42 198.49 
L 720.75 196.82 
L 721.07 199.52 
L 721.40 196.34 
L 721.73 199.10 
L 722.06 196.48 
L 722.38 199.64 
L 722.71 197.03 
L 723.03 199.02 
L 723.36 196.62 
L 723.69 199.06 
L 724.01 197.00 
L 724.34 199.05 
L 724.67 194.82 
L 724.99 198.43 
L 725.32 194.29 
L 725.64 197.57 
L 725.97 196.65 
L 726.30 199.61 
L 726.62 196.06 
L 726.95 199.02 
L 727.27 198.28 
L 727.60 201.34 
L 727.93 199.28 
L 728.25 201.30 
L 728.58 198.93 
L 728.90 202.70 
L 729.23 200.65 
L 729.56 202.39 
L 729.88 201.13 
L 730.21 202.87 
L 730.53 201.20 
L 730.86 203.37 
L 731.18 200.51 
L 731.51 203.05 
L 731.84 199.54 
L 732.16 203.02 
L 732.49 199.29 
L 732.81 204.39 
L 733.14 201.23 
L 733.46 204.99 
L 733.79 201.68 
L 734.11 205.07 
L 734.44 203.51 
L 734.76 207.48 
L 735.09 205.35 
L 735.42 207.82 
L 735.74 205.96 
L 736.07 208.58 
L 736.39 206.98 
L 736.72 209.96 
L 737.04 206.65 
L 737.37 211.56 
L 737.69 209.01 
L 738.02 212.48 
L 738.34 208.60 
L 738.67 213.14 
L 738.99 209.51 
L 738.99 209.51 
" clip-path="url(#p81a03b5cd6)" style="fill: none; stroke: #7d7c78; stroke-width: 1.5; stroke-linecap: square"/>
</g>
<g id="legend_3">
<g id="patch_19">
<path d="M 543.71 222.52 
L 623.14 222.52 
Q 625.14 222.52 625.14 220.52 
L 625.14 161.84 
Q 625.14 159.84 623.14 159.84 
L 543.71 159.84 
Q 541.71 159.84 541.71 161.84 
L 541.71 220.52 
Q 541.71 222.52 543.71 222.52 
z
" style="fill: #ffffff; opacity: 0.8; stroke: #cccccc; stroke-linejoin: miter"/>
</g>
<g id="line2d_245">
<path d="M 545.71 167.94 
L 555.71 167.94 
L 565.71 167.94 
" style="fill: none; stroke: #000000; stroke-width: 1.5; stroke-linecap: square"/>
</g>
<g id="text_42">
<text style="font-size: 10px; font-family: 'Liberation Sans', sans-serif; text-anchor: start" x="574.22" y="172.16" transform="rotate(-0 574.22 172.16)" textLength="47.26" lengthAdjust="spacingAndGlyphs">full-batch</text>
</g>
<g id="line2d_246">
<path d="M 545.71 182.66 
L 555.71 182.66 
L 565.71 182.66 
" style="fill: none; stroke: #fee838; stroke-width: 1.5; stroke-linecap: square"/>
</g>
<g id="text_43">
<text style="font-size: 10px; font-family: 'Liberation Sans', sans-serif; text-anchor: start" x="574.22" y="186.88" transform="rotate(-0 574.22 186.88)" textLength="34.70" lengthAdjust="spacingAndGlyphs">|B|=10</text>
</g>
<g id="line2d_247">
<path d="M 545.71 197.66 
L 555.71 197.66 
L 565.71 197.66 
" style="fill: none; stroke: #bcae6c; stroke-width: 1.5; stroke-linecap: square"/>
</g>
<g id="text_44">
<text style="font-size: 10px; font-family: 'Liberation Sans', sans-serif; text-anchor: start" x="574.22" y="201.88" transform="rotate(-0 574.22 201.88)" textLength="41.06" lengthAdjust="spacingAndGlyphs">|B|=100</text>
</g>
<g id="line2d_248">
<path d="M 545.71 212.66 
L 555.71 212.66 
L 565.71 212.66 
" style="fill: none; stroke: #7d7c78; stroke-width: 1.5; stroke-linecap: square"/>
</g>
<g id="text_45">
<text style="font-size: 10px; font-family: 'Liberation Sans', sans-serif; text-anchor: start" x="574.22" y="216.88" transform="rotate(-0 574.22 216.88)" textLength="47.43" lengthAdjust="spacingAndGlyphs">|B|=1000</text>
</g>
</g>
<g id="line2d_249">
<path d="M 550.94 57.81 
L 565.10 59.76 
L 573.38 61.92 
L 579.26 53.28 
L 583.82 63.50 
L 587.54 65.66 
L 590.69 66.24 
L 593.53 67.99 
L 595.65 71.15 
L 596.77 72.38 
L 599.35 74.74 
L 600.87 76.53 
L 604.82 81.46 
L 607.52 84.30 
L 610.44 87.48 
L 613.54 91.25 
L 621.77 101.50 
L 630.68 111.41 
L 642.79 124.86 
L 648.86 131.50 
L 656.08 138.84 
L 668.16 150.76 
L 677.44 159.65 
L 684.16 166.06 
L 690.90 172.77 
L 697.65 179.77 
L 708.17 191.00 
L 712.78 196.20 
L 716.14 200.41 
L 719.51 205.01 
L 723.45 210.74 
L 726.49 215.55 
L 730.23 221.96 
L 732.99 227.07 
L 735.54 232.38 
L 737.28 236.16 
L 737.28 236.16 
" clip-path="url(#p81a03b5cd6)" style="fill: none; stroke: #000000; stroke-width: 1.5; stroke-linecap: square"/>
</g>
</g>
<g id="axes_4">
<g id="patch_20">
<path d="M 780.79 227.52 
L 982.91 227.52 
L 982.91 44.64 
L 780.79 44.64 
z
" style="fill: #ffffff"/>
</g>
<g id="matplotlib.axis_7">
<g id="xtick_129">
<g id="line2d_250">
<g>
<use href="#m1504cfccaf" x="780.84" y="227.88" style="stroke: #000000; stroke-width: 0.8"/>
</g>
</g>
<g id="text_46">
<g transform="translate(771.99 243.91)">
<text>
<tspan x="0" y="-0.97" style="font-size: 10px; font-family: 'Liberation Sans', sans-serif" textLength="6.36" lengthAdjust="spacingAndGlyphs">1</tspan>
<tspan x="6.36" y="-0.97" style="font-size: 10px; font-family: 'Liberation Sans', sans-serif" textLength="6.36" lengthAdjust="spacingAndGlyphs">0</tspan>
<tspan x="12.82" y="-4.80" style="font-size: 7px; font-family: 'Liberation Sans', sans-serif" textLength="4.45" lengthAdjust="spacingAndGlyphs">0</tspan>
</text>
</g>
</g>
</g>
<g id="xtick_130">
<g id="line2d_251">
<g>
<use href="#m1504cfccaf" x="862.20" y="227.88" style="stroke: #000000; stroke-width: 0.8"/>
</g>
</g>
<g id="text_47">
<g transform="translate(852.84 243.91)">
<text>
<tspan x="0" y="-0.97" style="font-size: 10px; font-family: 'Liberation Sans', sans-serif" textLength="6.36" lengthAdjust="spacingAndGlyphs">1</tspan>
<tspan x="6.36" y="-0.97" style="font-size: 10px; font-family: 'Liberation Sans', sans-serif" textLength="6.36" lengthAdjust="spacingAndGlyphs">0</tspan>
<tspan x="12.82" y="-4.80" style="font-size: 7px; font-family: 'Liberation Sans', sans-serif" textLength="4.45" lengthAdjust="spacingAndGlyphs">2</tspan>
</text>
</g>
</g>
</g>
<g id="xtick_131">
<g id="line2d_252">
<g>
<use href="#m1504cfccaf" x="942.84" y="227.88" style="stroke: #000000; stroke-width: 0.8"/>
</g>
</g>
<g id="text_48">
<g transform="translate(933.69 243.91)">
<text>
<tspan x="0" y="-0.06" style="font-size: 10px; font-family: 'Liberation Sans', sans-serif" textLength="6.36" lengthAdjust="spacingAndGlyphs">1</tspan>
<tspan x="6.36" y="-0.06" style="font-size: 10px; font-family: 'Liberation Sans', sans-serif" textLength="6.36" lengthAdjust="spacingAndGlyphs">0</tspan>
<tspan x="12.82" y="-3.89" style="font-size: 7px; font-family: 'Liberation Sans', sans-serif" textLength="4.45" lengthAdjust="spacingAndGlyphs">4</tspan>
</text>
</g>
</g>
</g>
<g id="text_49">
<g transform="translate(879.25 259.89)">
<text>
<tspan x="0" y="-0.87" style="font-style: oblique; font-size: 13px; font-family: 'Liberation Sans', sans-serif" textLength="5.10" lengthAdjust="spacingAndGlyphs">t</tspan>
</text>
</g>
</g>
</g>
<g id="matplotlib.axis_8">
<g id="ytick_94">
<g id="line2d_253">
<g>
<use href="#m5d545ce8f8" x="780.84" y="227.88" style="stroke: #000000; stroke-width: 0.8"/>
</g>
</g>
<g id="text_50">
<g transform="translate(750.29 232.75)">
<text>
<tspan x="0" y="-0.97" style="font-size: 10px; font-family: 'Liberation Sans', sans-serif" textLength="6.36" lengthAdjust="spacingAndGlyphs">1</tspan>
<tspan x="6.36" y="-0.97" style="font-size: 10px; font-family: 'Liberation Sans', sans-serif" textLength="6.36" lengthAdjust="spacingAndGlyphs">0</tspan>
<tspan x="12.82" y="-4.80" style="font-size: 7px; font-family: 'Liberation Sans', sans-serif" textLength="5.87" lengthAdjust="spacingAndGlyphs">−</tspan>
<tspan x="18.68" y="-4.80" style="font-size: 7px; font-family: 'Liberation Sans', sans-serif" textLength="4.45" lengthAdjust="spacingAndGlyphs">2</tspan>
</text>
</g>
</g>
</g>
<g id="ytick_95">
<g id="line2d_254">
<g>
<use href="#m5d545ce8f8" x="780.84" y="154.44" style="stroke: #000000; stroke-width: 0.8"/>
</g>
</g>
<g id="text_51">
<g transform="translate(750.29 159.01)">
<text>
<tspan x="0" y="-0.06" style="font-size: 10px; font-family: 'Liberation Sans', sans-serif" textLength="6.36" lengthAdjust="spacingAndGlyphs">1</tspan>
<tspan x="6.36" y="-0.06" style="font-size: 10px; font-family: 'Liberation Sans', sans-serif" textLength="6.36" lengthAdjust="spacingAndGlyphs">0</tspan>
<tspan x="12.82" y="-3.89" style="font-size: 7px; font-family: 'Liberation Sans', sans-serif" textLength="5.87" lengthAdjust="spacingAndGlyphs">−</tspan>
<tspan x="18.68" y="-3.89" style="font-size: 7px; font-family: 'Liberation Sans', sans-serif" textLength="4.45" lengthAdjust="spacingAndGlyphs">1</tspan>
</text>
</g>
</g>
</g>
<g id="ytick_96">
<g id="line2d_255">
<g>
<use href="#m5d545ce8f8" x="780.84" y="80.28" style="stroke: #000000; stroke-width: 0.8"/>
</g>
</g>
<g id="text_52">
<g transform="translate(756.19 85.27)">
<text>
<tspan x="0" y="-0.97" style="font-size: 10px; font-family: 'Liberation Sans', sans-serif" textLength="6.36" lengthAdjust="spacingAndGlyphs">1</tspan>
<tspan x="6.36" y="-0.97" style="font-size: 10px; font-family: 'Liberation Sans', sans-serif" textLength="6.36" lengthAdjust="spacingAndGlyphs">0</tspan>
<tspan x="12.82" y="-4.80" style="font-size: 7px; font-family: 'Liberation Sans', sans-serif" textLength="4.45" lengthAdjust="spacingAndGlyphs">0</tspan>
</text>
</g>
</g>
</g>
<g id="ytick_97">
<g id="line2d_256">
<g>
<use href="#mc3d89a154a" x="780.84" y="205.56" style="stroke: #000000; stroke-width: 0.6"/>
</g>
</g>
</g>
<g id="ytick_98">
<g id="line2d_257">
<g>
<use href="#mc3d89a154a" x="780.84" y="192.60" style="stroke: #000000; stroke-width: 0.6"/>
</g>
</g>
</g>
<g id="ytick_99">
<g id="line2d_258">
<g>
<use href="#mc3d89a154a" x="780.84" y="183.24" style="stroke: #000000; stroke-width: 0.6"/>
</g>
</g>
</g>
<g id="ytick_100">
<g id="line2d_259">
<g>
<use href="#mc3d89a154a" x="780.84" y="176.04" style="stroke: #000000; stroke-width: 0.6"/>
</g>
</g>
</g>
<g id="ytick_101">
<g id="line2d_260">
<g>
<use href="#mc3d89a154a" x="780.84" y="170.28" style="stroke: #000000; stroke-width: 0.6"/>
</g>
</g>
</g>
<g id="ytick_102">
<g id="line2d_261">
<g>
<use href="#mc3d89a154a" x="780.84" y="165.24" style="stroke: #000000; stroke-width: 0.6"/>
</g>
</g>
</g>
<g id="ytick_103">
<g id="line2d_262">
<g>
<use href="#mc3d89a154a" x="780.84" y="161.64" style="stroke: #000000; stroke-width: 0.6"/>
</g>
</g>
</g>
<g id="ytick_104">
<g id="line2d_263">
<g>
<use href="#mc3d89a154a" x="780.84" y="157.32" style="stroke: #000000; stroke-width: 0.6"/>
</g>
</g>
</g>
<g id="ytick_105">
<g id="line2d_264">
<g>
<use href="#mc3d89a154a" x="780.84" y="132.12" style="stroke: #000000; stroke-width: 0.6"/>
</g>
</g>
</g>
<g id="ytick_106">
<g id="line2d_265">
<g>
<use href="#mc3d89a154a" x="780.84" y="119.16" style="stroke: #000000; stroke-width: 0.6"/>
</g>
</g>
</g>
<g id="ytick_107">
<g id="line2d_266">
<g>
<use href="#mc3d89a154a" x="780.84" y="109.80" style="stroke: #000000; stroke-width: 0.6"/>
</g>
</g>
</g>
<g id="ytick_108">
<g id="line2d_267">
<g>
<use href="#mc3d89a154a" x="780.84" y="102.60" style="stroke: #000000; stroke-width: 0.6"/>
</g>
</g>
</g>
<g id="ytick_109">
<g id="line2d_268">
<g>
<use href="#mc3d89a154a" x="780.84" y="96.84" style="stroke: #000000; stroke-width: 0.6"/>
</g>
</g>
</g>
<g id="ytick_110">
<g id="line2d_269">
<g>
<use href="#mc3d89a154a" x="780.84" y="91.80" style="stroke: #000000; stroke-width: 0.6"/>
</g>
</g>
</g>
<g id="ytick_111">
<g id="line2d_270">
<g>
<use href="#mc3d89a154a" x="780.84" y="87.48" style="stroke: #000000; stroke-width: 0.6"/>
</g>
</g>
</g>
<g id="ytick_112">
<g id="line2d_271">
<g>
<use href="#mc3d89a154a" x="780.84" y="83.88" style="stroke: #000000; stroke-width: 0.6"/>
</g>
</g>
</g>
<g id="ytick_113">
<g id="line2d_272">
<g>
<use href="#mc3d89a154a" x="780.84" y="57.96" style="stroke: #000000; stroke-width: 0.6"/>
</g>
</g>
</g>
<g id="ytick_114">
<g id="line2d_273">
<g>
<use href="#mc3d89a154a" x="780.84" y="45.00" style="stroke: #000000; stroke-width: 0.6"/>
</g>
</g>
</g>
</g>
<g id="line2d_274">
<path d="M 780.84 57.6 
L 781.61 57.75 
L 783.16 58.07 
L 785.48 58.54 
L 788.58 59.17 
L 791.64 59.89 
L 794.66 60.70 
L 797.65 61.60 
L 800.60 62.59 
L 803.47 63.53 
L 806.27 64.41 
L 809.00 65.24 
L 811.64 66.01 
L 814.13 66.84 
L 816.46 67.72 
L 818.64 68.66 
L 820.65 69.65 
L 823.05 70.87 
L 825.84 72.34 
L 829.02 74.05 
L 832.59 75.99 
L 836.21 78.03 
L 839.90 80.18 
L 843.66 82.42 
L 847.47 84.76 
L 852.13 87.64 
L 857.64 91.07 
L 864 95.04 
L 871.2 99.56 
L 878.17 103.95 
L 884.92 108.19 
L 891.45 112.31 
L 897.75 116.28 
L 904.27 120.38 
L 911.02 124.59 
L 918 128.92 
L 925.2 133.37 
L 931.95 137.53 
L 938.25 141.42 
L 944.1 145.03 
L 949.5 148.36 
L 955.17 151.83 
L 961.11 155.43 
L 967.32 159.16 
L 973.8 163.03 
L 978.66 165.93 
L 981.9 167.87 
L 983.52 168.84 
" clip-path="url(#p7153f48a37)" style="fill: none; stroke: #1f77b4; stroke-width: 1.5; stroke-linecap: square"/>
</g>
<g id="patch_21">
<path d="M 780.84 227.88 L 780.84 45.00" style="fill: none; stroke: #000000; stroke-width: 0.8; stroke-linejoin: miter; stroke-linecap: square"/>
</g>
<g id="patch_22">
<path d="M 983.16 227.88 L 983.16 45.00" style="fill: none; stroke: #000000; stroke-width: 0.8; stroke-linejoin: miter; stroke-linecap: square"/>
</g>
<g id="patch_23">
<path d="M 780.84 227.88 L 983.16 227.88" style="fill: none; stroke: #000000; stroke-width: 0.8; stroke-linejoin: miter; stroke-linecap: square"/>
</g>
<g id="patch_24">
<path d="M 780.84 45.00 L 983.16 45.00" style="fill: none; stroke: #000000; stroke-width: 0.8; stroke-linejoin: miter; stroke-linecap: square"/>
</g>
<g id="line2d_275">
<path d="M 780.84 57.6 
L 793.00 57.52 
L 800.13 59.68 
L 805.17 57.02 
L 809.13 58.39 
L 812.30 62.78 
L 816.48 59.68 
L 819.72 60.98 
L 821.30 63.93 
L 822.97 62.70 
L 824.50 65.87 
L 825.91 62.34 
L 827.21 65.17 
L 828.42 60.85 
L 829.56 66.68 
L 830.62 63.92 
L 831.63 67.87 
L 832.58 66.19 
L 833.48 69.95 
L 834.34 67.25 
L 835.15 71.55 
L 835.94 69.31 
L 836.68 72.56 
L 837.40 68.38 
L 838.09 74.19 
L 838.75 71.14 
L 839.39 75.28 
L 840.01 72.39 
L 840.61 76.22 
L 841.18 73.18 
L 841.74 77.26 
L 842.28 74.99 
L 842.80 78.20 
L 843.31 75.62 
L 843.81 78.91 
L 844.29 76.11 
L 844.76 80.06 
L 845.22 76.67 
L 845.66 80.10 
L 846.09 77.36 
L 846.52 80.69 
L 846.93 75.85 
L 847.34 81.01 
L 847.73 77.53 
L 848.12 81.42 
L 848.49 78.15 
L 848.86 81.57 
L 849.23 77.03 
L 849.58 82.10 
L 849.93 76.47 
L 850.27 82.49 
L 850.61 78.51 
L 850.93 82.61 
L 851.26 79.36 
L 851.57 82.99 
L 851.88 79.28 
L 852.19 83.24 
L 852.49 80.05 
L 852.79 83.66 
L 853.08 80.47 
L 853.64 83.92 
L 854.19 79.27 
L 854.73 84.70 
L 855.24 79.45 
L 855.74 85.09 
L 856.23 82.15 
L 856.71 85.66 
L 857.17 82.70 
L 857.62 86.60 
L 858.06 83.11 
L 858.49 86.89 
L 858.91 84.18 
L 859.32 87.90 
L 859.72 83.66 
L 860.11 88.35 
L 860.49 84.86 
L 860.86 88.89 
L 861.23 85.00 
L 861.59 88.93 
L 861.94 83.39 
L 862.28 89.40 
L 862.62 85.93 
L 862.95 89.66 
L 863.28 86.61 
L 863.60 90.64 
L 863.91 86.37 
L 864.22 91.02 
L 864.52 86.97 
L 864.82 91.05 
L 865.11 87.23 
L 865.40 91.87 
L 865.82 88.58 
L 866.24 92.30 
L 866.64 88.67 
L 867.04 93.04 
L 867.42 89.07 
L 867.80 93.57 
L 868.17 88.02 
L 868.53 94.08 
L 868.89 90.46 
L 869.24 94.98 
L 869.58 90.47 
L 869.91 95.11 
L 870.24 91.59 
L 870.56 95.90 
L 870.88 91.11 
L 871.19 96.26 
L 871.50 91.95 
L 871.80 96.73 
L 872.09 92.20 
L 872.38 97.00 
L 872.76 90.07 
L 873.13 97.84 
L 873.50 94.10 
L 873.86 97.80 
L 874.21 94.45 
L 874.55 98.58 
L 874.88 94.77 
L 875.21 99.12 
L 875.54 92.31 
L 875.86 99.51 
L 876.17 92.90 
L 876.48 100.45 
L 876.78 96.20 
L 877.07 100.67 
L 877.37 94.48 
L 877.72 100.87 
L 878.07 96.81 
L 878.42 101.54 
L 878.76 97.17 
L 879.09 102.22 
L 879.41 95.35 
L 879.73 102.15 
L 880.04 98.20 
L 880.35 102.73 
L 880.65 98.71 
L 880.95 103.55 
L 881.24 99.47 
L 881.59 104.26 
L 881.93 99.30 
L 882.26 104.63 
L 882.58 99.71 
L 882.90 104.56 
L 883.22 101.09 
L 883.53 105.24 
L 883.83 100.98 
L 884.13 105.27 
L 884.42 100.87 
L 884.71 105.70 
L 885.04 101.31 
L 885.36 106.22 
L 885.68 101.94 
L 885.99 106.60 
L 886.30 102.49 
L 886.60 107.36 
L 886.90 102.79 
L 887.19 107.21 
L 887.52 102.65 
L 887.84 107.53 
L 888.16 103.98 
L 888.47 108.41 
L 888.77 104.27 
L 889.07 108.65 
L 889.37 105.07 
L 889.66 108.95 
L 889.98 105.10 
L 890.29 109.45 
L 890.60 105.26 
L 890.90 110.20 
L 891.20 106.18 
L 891.50 110.19 
L 891.78 106.08 
L 892.10 110.34 
L 892.41 106.23 
L 892.71 111.37 
L 893.01 107.35 
L 893.31 111.38 
L 893.60 104.86 
L 893.91 111.57 
L 894.22 106.97 
L 894.52 111.86 
L 894.82 108.44 
L 895.11 112.48 
L 895.42 105.31 
L 895.73 112.67 
L 896.03 108.72 
L 896.33 113.54 
L 896.62 108.63 
L 896.94 113.55 
L 897.24 109.56 
L 897.54 113.75 
L 897.84 106.93 
L 898.13 114.46 
L 898.44 110.36 
L 898.74 114.84 
L 899.04 110.68 
L 899.33 114.91 
L 899.64 111.15 
L 899.94 115.87 
L 900.24 111.45 
L 900.53 115.62 
L 900.84 111.38 
L 901.14 116.06 
L 901.44 111.74 
L 901.73 116.84 
L 902.03 110.77 
L 902.33 117.44 
L 902.63 112.30 
L 902.92 117.40 
L 903.22 112.99 
L 903.51 118.17 
L 903.81 112.89 
L 904.11 118.43 
L 904.41 113.52 
L 904.70 118.89 
L 905.00 114.43 
L 905.30 119.29 
L 905.59 112.36 
L 905.89 119.08 
L 906.19 115.07 
L 906.48 119.99 
L 906.78 115.16 
L 907.08 120.32 
L 907.37 114.03 
L 907.67 120.38 
L 907.96 115.78 
L 908.25 121.16 
L 908.55 116.72 
L 908.84 120.89 
L 909.14 116.47 
L 909.43 121.96 
L 909.72 117.07 
L 910.02 122.18 
L 910.31 117.43 
L 910.61 122.20 
L 910.90 118.00 
L 911.20 122.62 
L 911.49 118.36 
L 911.78 123.05 
L 912.07 119.48 
L 912.36 123.61 
L 912.65 120.05 
L 912.94 124.55 
L 913.24 119.31 
L 913.52 124.44 
L 913.82 119.96 
L 914.11 124.91 
L 914.40 118.17 
L 914.70 125.59 
L 914.99 120.47 
L 915.28 126.05 
L 915.57 120.80 
L 915.87 126.06 
L 916.15 121.95 
L 916.45 126.92 
L 916.74 122.33 
L 917.03 126.65 
L 917.32 122.20 
L 917.62 127.57 
L 917.91 123.17 
L 918.20 127.85 
L 918.50 123.28 
L 918.79 128.10 
L 919.08 123.87 
L 919.37 128.75 
L 919.66 123.93 
L 919.95 129.47 
L 920.25 125.18 
L 920.54 129.71 
L 920.83 124.67 
L 921.12 129.79 
L 921.41 125.99 
L 921.70 130.45 
L 922.00 125.91 
L 922.28 130.71 
L 922.57 126.07 
L 922.86 131.23 
L 923.15 127.45 
L 923.45 131.42 
L 923.74 126.47 
L 924.03 132.35 
L 924.32 125.39 
L 924.61 132.05 
L 924.91 127.49 
L 925.20 132.73 
L 925.49 127.89 
L 925.78 133.04 
L 926.08 129.36 
L 926.37 133.14 
L 926.66 129.35 
L 926.95 134.37 
L 927.24 128.92 
L 927.53 134.67 
L 927.82 129.42 
L 928.11 135.03 
L 928.40 129.94 
L 928.69 134.92 
L 928.98 130.79 
L 929.27 135.74 
L 929.56 129.48 
L 929.85 135.81 
L 930.14 132.18 
L 930.43 136.54 
L 930.72 130.23 
L 931.01 136.44 
L 931.29 132.57 
L 931.58 137.06 
L 931.87 132.52 
L 932.16 137.89 
L 932.45 130.55 
L 932.74 138.22 
L 933.03 132.02 
L 933.32 138.43 
L 933.61 134.05 
L 933.90 139.24 
L 934.19 135.01 
L 934.48 139.56 
L 934.77 134.80 
L 935.06 139.39 
L 935.35 135.79 
L 935.63 139.67 
L 935.92 136.30 
L 936.21 140.13 
L 936.50 135.83 
L 936.79 141.24 
L 937.08 136.11 
L 937.37 141.14 
L 937.66 136.45 
L 937.95 141.22 
L 938.24 136.58 
L 938.53 141.86 
L 938.82 137.56 
L 939.11 142.53 
L 939.40 138.29 
L 939.69 142.46 
L 939.98 138.12 
L 940.27 142.74 
L 940.56 137.85 
L 940.85 143.27 
L 941.13 136.03 
L 941.42 143.53 
L 941.71 139.05 
L 942.00 143.93 
L 942.29 139.87 
L 942.58 144.80 
L 942.87 140.18 
L 943.16 144.60 
L 943.44 140.28 
L 943.73 145.11 
L 944.02 141.10 
L 944.31 145.76 
L 944.60 141.07 
L 944.89 145.61 
L 945.18 141.42 
L 945.47 146.51 
L 945.76 142.49 
L 946.05 146.42 
L 946.33 142.16 
L 946.62 147.20 
L 946.91 141.89 
L 947.20 147.65 
L 947.49 142.36 
L 947.78 147.50 
L 948.07 142.84 
L 948.35 148.17 
L 948.64 143.12 
L 948.93 148.06 
L 949.22 143.30 
L 949.51 148.63 
L 949.80 145.04 
L 950.09 149.12 
L 950.37 144.22 
L 950.66 149.23 
L 950.95 144.87 
L 951.24 149.58 
L 951.53 144.84 
L 951.82 150.12 
L 952.11 145.09 
L 952.39 150.65 
L 952.68 142.89 
L 952.97 151.06 
L 953.26 146.45 
L 953.55 151.56 
L 953.84 144.22 
L 954.13 151.29 
L 954.41 147.35 
L 954.70 152.01 
L 954.99 147.88 
L 955.28 152.03 
L 955.57 148.01 
L 955.86 152.69 
L 956.14 147.79 
L 956.43 153.51 
L 956.72 148.66 
L 957.01 153.85 
L 957.30 149.11 
L 957.59 153.73 
L 957.87 149.39 
L 958.16 154.46 
L 958.45 149.89 
L 958.74 154.63 
L 959.03 149.71 
L 959.32 154.88 
L 959.61 150.62 
L 959.89 155.08 
L 960.18 150.82 
L 960.47 155.65 
L 960.76 151.86 
L 961.05 155.68 
L 961.33 152.20 
L 961.62 156.02 
L 961.91 151.45 
L 962.20 156.65 
L 962.49 152.56 
L 962.78 156.81 
L 963.06 152.87 
L 963.35 157.60 
L 963.64 152.40 
L 963.93 158.02 
L 964.22 151.20 
L 964.51 158.13 
L 964.79 153.82 
L 965.08 158.25 
L 965.37 153.39 
L 965.66 158.46 
L 965.95 152.77 
L 966.24 158.80 
L 966.52 154.73 
L 966.81 159.32 
L 967.10 155.36 
L 967.39 159.75 
L 967.68 155.73 
L 967.96 160.11 
L 968.25 156.39 
L 968.54 160.28 
L 968.83 155.55 
L 969.12 160.47 
L 969.41 156.25 
L 969.69 161.39 
L 969.98 157.42 
L 970.27 161.79 
L 970.56 156.41 
L 970.85 161.70 
L 971.13 157.30 
L 971.42 161.72 
L 971.71 158.08 
L 972.00 162.29 
L 972.29 157.85 
L 972.58 163.08 
L 972.86 158.21 
L 973.15 163.53 
L 973.44 159.23 
L 973.73 163.47 
L 974.02 159.35 
L 974.30 163.65 
L 974.59 159.03 
L 974.88 164.30 
L 975.17 160.29 
L 975.46 164.75 
L 975.74 160.71 
L 976.03 164.73 
L 976.32 160.39 
L 976.61 165.16 
L 976.90 161.16 
L 977.19 165.89 
L 977.47 161.68 
L 977.76 165.70 
L 978.05 161.79 
L 978.34 166.14 
L 978.63 162.13 
L 978.91 166.43 
L 979.20 162.07 
L 979.49 166.92 
L 979.78 162.22 
L 980.07 167.22 
L 980.35 160.70 
L 980.64 167.12 
L 980.93 163.45 
L 981.22 167.78 
L 981.51 164.00 
L 981.79 168.07 
L 982.08 164.33 
L 982.37 168.05 
L 982.66 164.24 
L 982.95 168.38 
L 982.95 168.38 
" clip-path="url(#p7153f48a37)" style="fill: none; stroke: #ff7f0e; stroke-width: 1.5; stroke-linecap: square"/>
</g>
<g id="text_53">
<text style="font-size: 13px; font-family: 'Liberation Sans', sans-serif; text-anchor: middle" x="881.85" y="38.64" transform="rotate(-0 881.85 38.64)" textLength="159.61" lengthAdjust="spacingAndGlyphs">(S)GD and our algorithm</text>
</g>
<g id="line2d_276">
<path d="M 780.84 57.6 
L 781.61 57.40 
L 783.16 57.00 
L 785.48 56.41 
L 788.58 55.62 
L 791.23 55.18 
L 793.43 55.11 
L 795.19 55.40 
L 796.50 56.05 
L 797.90 56.67 
L 799.38 57.28 
L 800.93 57.86 
L 802.57 58.41 
L 804.07 58.91 
L 805.44 59.35 
L 806.67 59.74 
L 807.77 60.06 
L 808.98 60.52 
L 810.31 61.13 
L 811.74 61.87 
L 813.29 62.75 
L 814.95 63.69 
L 816.74 64.68 
L 818.64 65.72 
L 820.65 66.82 
L 822.58 68.01 
L 824.43 69.30 
L 826.19 70.68 
L 827.86 72.16 
L 829.64 73.86 
L 831.52 75.80 
L 833.50 77.96 
L 835.59 80.36 
L 837.76 82.69 
L 840.00 84.96 
L 842.31 87.16 
L 844.71 89.30 
L 846.81 91.16 
L 848.62 92.72 
L 850.14 94.00 
L 851.36 94.99 
L 854.08 97.20 
L 858.29 100.64 
L 864 105.30 
L 871.2 111.19 
L 877.80 116.64 
L 883.81 121.67 
L 889.23 126.26 
L 894.06 130.41 
L 899.39 135.02 
L 905.24 140.08 
L 911.61 145.59 
L 918.48 151.55 
L 925.30 157.44 
L 932.06 163.27 
L 938.76 169.04 
L 945.40 174.75 
L 951.21 179.79 
L 956.17 184.18 
L 960.30 187.90 
L 963.60 190.96 
L 966.55 193.81 
L 969.17 196.46 
L 971.46 198.9 
L 973.40 201.13 
L 975.31 203.57 
L 977.18 206.21 
L 979.02 209.07 
L 980.82 212.13 
L 982.17 214.42 
L 983.07 215.95 
L 983.52 216.72 
" clip-path="url(#p7153f48a37)" style="fill: none; stroke: #2ca02c; stroke-width: 1.5; stroke-linecap: square"/>
</g>
<g id="line2d_277">
<path d="M 780.84 57.6 
L 793.00 52.2 
L 800.13 61.41 
L 805.17 62.35 
L 809.13 58.82 
L 812.30 65.80 
L 815.04 64.08 
L 819.14 65.37 
L 819.45 66.17 
L 821.30 66.86 
L 822.97 69.28 
L 824.50 69.28 
L 825.91 70.97 
L 827.21 70.53 
L 828.42 72.32 
L 829.56 71.89 
L 830.62 73.86 
L 831.63 73.18 
L 832.58 75.00 
L 833.48 74.45 
L 834.34 76.12 
L 835.15 75.27 
L 835.94 76.94 
L 836.68 76.23 
L 837.40 77.81 
L 838.09 77.01 
L 838.75 78.65 
L 839.39 77.66 
L 840.01 79.49 
L 840.61 78.41 
L 841.18 80.37 
L 841.74 79.54 
L 842.28 81.06 
L 842.80 80.26 
L 843.31 81.67 
L 843.81 80.66 
L 844.29 82.33 
L 844.76 80.71 
L 845.22 82.89 
L 845.66 81.97 
L 846.09 83.60 
L 846.52 82.41 
L 846.93 84.10 
L 847.34 83.21 
L 847.73 84.91 
L 848.12 84.10 
L 848.49 85.75 
L 848.86 84.65 
L 849.23 86.28 
L 849.58 85.48 
L 849.93 86.98 
L 850.27 85.89 
L 850.61 87.83 
L 850.93 86.82 
L 851.26 88.43 
L 851.57 87.44 
L 851.88 89.10 
L 852.19 87.96 
L 852.49 89.63 
L 852.79 88.63 
L 853.08 90.45 
L 853.64 89.41 
L 854.19 91.46 
L 854.73 90.32 
L 855.24 92.40 
L 855.74 91.09 
L 856.23 93.12 
L 856.71 92.08 
L 857.17 94.08 
L 857.62 92.82 
L 858.06 94.83 
L 858.49 93.24 
L 858.91 95.64 
L 859.32 93.89 
L 859.72 96.25 
L 860.11 94.94 
L 860.49 96.79 
L 860.86 95.18 
L 861.23 97.65 
L 861.59 96.03 
L 861.94 98.06 
L 862.28 96.69 
L 862.62 98.97 
L 862.95 96.98 
L 863.28 99.51 
L 863.60 97.38 
L 863.91 100.10 
L 864.22 98.30 
L 864.52 100.54 
L 864.82 98.85 
L 865.11 100.96 
L 865.40 98.99 
L 865.82 101.46 
L 866.24 99.87 
L 866.64 102.25 
L 867.04 100.56 
L 867.42 103.14 
L 867.80 101.13 
L 868.17 103.76 
L 868.53 102.05 
L 868.89 104.31 
L 869.24 102.73 
L 869.58 104.78 
L 869.91 103.12 
L 870.24 105.45 
L 870.56 103.66 
L 870.88 106.25 
L 871.19 103.88 
L 871.50 106.79 
L 871.80 104.53 
L 872.09 107.09 
L 872.38 104.90 
L 872.76 107.96 
L 873.13 106.08 
L 873.50 108.47 
L 873.86 106.69 
L 874.21 108.94 
L 874.55 107.08 
L 874.88 109.47 
L 875.21 107.60 
L 875.54 110.39 
L 875.86 106.89 
L 876.17 110.88 
L 876.48 108.86 
L 876.78 111.04 
L 877.07 109.11 
L 877.37 111.87 
L 877.72 109.50 
L 878.07 112.56 
L 878.42 110.22 
L 878.76 112.98 
L 879.09 111.07 
L 879.41 113.47 
L 879.73 111.08 
L 880.04 114.15 
L 880.35 111.79 
L 880.65 114.44 
L 880.95 112.60 
L 881.24 115.07 
L 881.59 111.79 
L 881.93 115.54 
L 882.26 113.68 
L 882.58 116.16 
L 882.90 114.04 
L 883.22 116.74 
L 883.53 114.32 
L 883.83 117.36 
L 884.13 115.54 
L 884.42 117.90 
L 884.71 115.45 
L 885.04 118.58 
L 885.36 114.72 
L 885.68 119.15 
L 885.99 116.84 
L 886.30 119.53 
L 886.60 117.31 
L 886.90 120.21 
L 887.19 117.65 
L 887.52 120.79 
L 887.84 117.27 
L 888.16 121.34 
L 888.47 118.91 
L 888.77 121.71 
L 889.07 119.87 
L 889.37 122.23 
L 889.66 119.61 
L 889.98 122.71 
L 890.29 120.28 
L 890.60 123.57 
L 890.90 121.34 
L 891.20 124.07 
L 891.50 120.35 
L 891.78 124.72 
L 892.10 121.15 
L 892.41 124.91 
L 892.71 122.82 
L 893.01 125.52 
L 893.31 122.10 
L 893.60 126.29 
L 893.91 123.92 
L 894.22 126.91 
L 894.52 124.36 
L 894.82 127.01 
L 895.11 124.76 
L 895.42 127.78 
L 895.73 125.14 
L 896.03 128.25 
L 896.33 125.72 
L 896.62 128.64 
L 896.94 126.44 
L 897.24 129.56 
L 897.54 126.77 
L 897.84 129.87 
L 898.13 127.13 
L 898.44 130.67 
L 898.74 127.77 
L 899.04 130.81 
L 899.33 128.06 
L 899.64 131.31 
L 899.94 128.69 
L 900.24 131.84 
L 900.53 129.81 
L 900.84 132.62 
L 901.14 129.94 
L 901.44 133.02 
L 901.73 130.15 
L 902.03 133.54 
L 902.33 131.20 
L 902.63 134.14 
L 902.92 129.87 
L 903.22 134.66 
L 903.51 131.89 
L 903.81 135.36 
L 904.11 132.96 
L 904.41 135.66 
L 904.70 132.95 
L 905.00 136.17 
L 905.30 133.88 
L 905.59 136.97 
L 905.89 134.66 
L 906.19 137.54 
L 906.48 134.70 
L 906.78 137.94 
L 907.08 135.77 
L 907.37 138.51 
L 907.67 135.83 
L 907.96 139.22 
L 908.25 136.14 
L 908.55 139.51 
L 908.84 136.99 
L 909.14 140.01 
L 909.43 137.59 
L 909.72 140.45 
L 910.02 137.94 
L 910.31 140.86 
L 910.61 138.65 
L 910.90 141.75 
L 911.20 139.26 
L 911.49 142.05 
L 911.78 139.26 
L 912.07 142.52 
L 912.36 140.46 
L 912.65 143.07 
L 912.94 139.03 
L 913.24 143.76 
L 913.52 141.31 
L 913.82 143.95 
L 914.11 141.40 
L 914.40 144.50 
L 914.70 142.47 
L 914.99 145.40 
L 915.28 141.15 
L 915.57 145.85 
L 915.87 142.70 
L 916.15 146.09 
L 916.45 142.41 
L 916.74 146.75 
L 917.03 144.09 
L 917.32 147.30 
L 917.62 144.27 
L 917.91 147.95 
L 918.20 145.21 
L 918.50 148.32 
L 918.79 145.63 
L 919.08 148.87 
L 919.37 146.12 
L 919.66 149.43 
L 919.95 146.67 
L 920.25 149.72 
L 920.54 147.66 
L 920.83 150.16 
L 921.12 147.39 
L 921.41 150.95 
L 921.70 148.64 
L 922.00 151.19 
L 922.28 148.59 
L 922.57 151.75 
L 922.86 149.12 
L 923.15 152.41 
L 923.45 148.71 
L 923.74 152.72 
L 924.03 150.09 
L 924.32 153.26 
L 924.61 150.68 
L 924.91 154.04 
L 925.20 151.03 
L 925.49 154.37 
L 925.78 151.89 
L 926.08 154.69 
L 926.37 152.11 
L 926.66 155.62 
L 926.95 151.53 
L 927.24 156.08 
L 927.53 153.61 
L 927.82 156.28 
L 928.11 154.38 
L 928.40 157.04 
L 928.69 154.67 
L 928.98 157.74 
L 929.27 154.98 
L 929.56 157.80 
L 929.85 154.01 
L 930.14 158.31 
L 930.43 156.08 
L 930.72 159.11 
L 931.01 155.31 
L 931.29 159.61 
L 931.58 156.64 
L 931.87 160.02 
L 932.16 156.11 
L 932.45 160.10 
L 932.74 157.64 
L 933.03 160.99 
L 933.32 156.43 
L 933.61 161.38 
L 933.90 159.07 
L 934.19 161.91 
L 934.48 159.35 
L 934.77 162.14 
L 935.06 159.92 
L 935.35 162.71 
L 935.63 158.68 
L 935.92 163.15 
L 936.21 160.62 
L 936.50 163.52 
L 936.79 160.93 
L 937.08 164.01 
L 937.37 161.95 
L 937.66 164.44 
L 937.95 162.58 
L 938.24 165.24 
L 938.53 162.37 
L 938.82 165.76 
L 939.11 163.30 
L 939.40 166.27 
L 939.69 164.01 
L 939.98 166.71 
L 940.27 164.19 
L 940.56 167.17 
L 940.85 163.61 
L 941.13 167.65 
L 941.42 164.63 
L 941.71 167.90 
L 942.00 165.42 
L 942.29 168.41 
L 942.58 165.69 
L 942.87 168.92 
L 943.16 166.52 
L 943.44 169.34 
L 943.73 165.34 
L 944.02 169.73 
L 944.31 167.35 
L 944.60 170.35 
L 944.89 168.16 
L 945.18 170.80 
L 945.47 168.83 
L 945.76 171.75 
L 946.05 168.71 
L 946.33 172.22 
L 946.62 169.75 
L 946.91 172.33 
L 947.20 168.99 
L 947.49 173.10 
L 947.78 170.89 
L 948.07 173.66 
L 948.35 170.91 
L 948.64 173.99 
L 948.93 171.85 
L 949.22 174.39 
L 949.51 172.62 
L 949.80 175.21 
L 950.09 172.83 
L 950.37 175.60 
L 950.66 173.52 
L 950.95 176.14 
L 951.24 173.42 
L 951.53 176.88 
L 951.82 173.37 
L 952.11 177.28 
L 952.39 175.04 
L 952.68 177.80 
L 952.97 174.96 
L 953.26 178.41 
L 953.55 175.84 
L 953.84 178.86 
L 954.13 176.72 
L 954.41 179.00 
L 954.70 177.17 
L 954.99 179.54 
L 955.28 177.55 
L 955.57 179.99 
L 955.86 176.37 
L 956.14 180.89 
L 956.43 178.48 
L 956.72 181.11 
L 957.01 178.85 
L 957.30 181.66 
L 957.59 179.81 
L 957.87 182.15 
L 958.16 180.61 
L 958.45 183.17 
L 958.74 180.93 
L 959.03 183.52 
L 959.32 181.47 
L 959.61 184.27 
L 959.89 182.45 
L 960.18 184.79 
L 960.47 183.22 
L 960.76 185.51 
L 961.05 183.49 
L 961.33 186.27 
L 961.62 183.98 
L 961.91 187.01 
L 962.20 185.07 
L 962.49 187.55 
L 962.78 185.72 
L 963.06 188.41 
L 963.35 186.11 
L 963.64 188.95 
L 963.93 186.81 
L 964.22 189.57 
L 964.51 187.43 
L 964.79 190.23 
L 965.08 188.16 
L 965.37 190.70 
L 965.66 189.24 
L 965.95 191.75 
L 966.24 189.98 
L 966.52 192.03 
L 966.81 190.56 
L 967.10 192.87 
L 967.39 190.78 
L 967.68 193.56 
L 967.96 191.68 
L 968.25 194.12 
L 968.54 192.33 
L 968.83 194.75 
L 969.12 192.81 
L 969.41 195.52 
L 969.69 193.71 
L 969.98 195.98 
L 970.27 194.67 
L 970.56 196.98 
L 970.85 194.95 
L 971.13 197.51 
L 971.42 195.87 
L 971.71 198.18 
L 972.00 196.44 
L 972.29 198.61 
L 972.58 196.01 
L 972.86 199.53 
L 973.15 197.97 
L 973.44 200.11 
L 973.73 198.17 
L 974.02 200.62 
L 974.30 199.21 
L 974.59 201.21 
L 974.88 198.35 
L 975.17 202.00 
L 975.46 200.60 
L 975.74 202.52 
L 976.03 201.00 
L 976.32 203.26 
L 976.61 201.81 
L 976.90 204.42 
L 977.19 202.92 
L 977.47 205.07 
L 977.76 202.47 
L 978.05 206.09 
L 978.34 204.59 
L 978.63 206.93 
L 978.91 205.58 
L 979.20 208.08 
L 979.49 206.43 
L 979.78 208.87 
L 980.07 207.68 
L 980.35 209.85 
L 980.64 208.52 
L 980.93 210.75 
L 981.22 209.20 
L 981.51 211.65 
L 981.79 210.27 
L 982.08 212.35 
L 982.37 211.31 
L 982.66 213.34 
L 982.95 212.26 
L 982.95 212.26 
" clip-path="url(#p7153f48a37)" style="fill: none; stroke: #d62728; stroke-width: 1.5; stroke-linecap: square"/>
</g>
<g id="legend_4">
<g id="patch_25">
<path d="M 787.79 222.52 
L 895.42 222.52 
Q 897.42 222.52 897.42 220.52 
L 897.42 162.16 
Q 897.42 160.16 895.42 160.16 
L 787.79 160.16 
Q 785.79 160.16 785.79 162.16 
L 785.79 220.52 
Q 785.79 222.52 787.79 222.52 
z
" style="fill: #ffffff; opacity: 0.8; stroke: #cccccc; stroke-linejoin: miter"/>
</g>
<g id="line2d_278">
<path d="M 789.79 168.26 
L 799.79 168.26 
L 809.79 168.26 
" style="fill: none; stroke: #1f77b4; stroke-width: 1.5; stroke-linecap: square"/>
</g>
<g id="text_54">
<text style="font-size: 10px; font-family: 'Liberation Sans', sans-serif; text-anchor: start" x="818.30" y="172.48" transform="rotate(-0 818.30 172.48)" textLength="15.45" lengthAdjust="spacingAndGlyphs">GD</text>
</g>
<g id="line2d_279">
<path d="M 789.79 182.98 
L 799.79 182.98 
L 809.79 182.98 
" style="fill: none; stroke: #ff7f0e; stroke-width: 1.5; stroke-linecap: square"/>
</g>
<g id="text_55">
<text style="font-size: 10px; font-family: 'Liberation Sans', sans-serif; text-anchor: start" x="818.30" y="187.20" transform="rotate(-0 818.30 187.20)" textLength="63.05" lengthAdjust="spacingAndGlyphs">SGD: |B|=10</text>
</g>
<g id="line2d_280">
<path d="M 789.79 197.94 
L 799.79 197.94 
L 809.79 197.94 
" style="fill: none; stroke: #2ca02c; stroke-width: 1.5; stroke-linecap: square"/>
</g>
<g id="text_56">
<text style="font-size: 10px; font-family: 'Liberation Sans', sans-serif; text-anchor: start" x="818.30" y="202.16" transform="rotate(-0 818.30 202.16)" textLength="75.63" lengthAdjust="spacingAndGlyphs">AM1: full-batch</text>
</g>
<g id="line2d_281">
<path d="M 789.79 212.66 
L 799.79 212.66 
L 809.79 212.66 
" style="fill: none; stroke: #d62728; stroke-width: 1.5; stroke-linecap: square"/>
</g>
<g id="text_57">
<text style="font-size: 10px; font-family: 'Liberation Sans', sans-serif; text-anchor: start" x="818.30" y="216.88" transform="rotate(-0 818.30 216.88)" textLength="63.08" lengthAdjust="spacingAndGlyphs">AM1: |B|=10</text>
</g>
</g>
</g>
<g id="text_58">
<g transform="translate(137.15 13.89)">
<text>
<tspan x="0" y="-0.60" style="font-size: 15px; font-family: 'Liberation Sans', sans-serif" textLength="11.62" lengthAdjust="spacingAndGlyphs">G</tspan>
<tspan x="11.62" y="-0.60" style="font-size: 15px; font-family: 'Liberation Sans', sans-serif" textLength="9.19" lengthAdjust="spacingAndGlyphs">a</tspan>
<tspan x="20.81" y="-0.60" style="font-size: 15px; font-family: 'Liberation Sans', sans-serif" textLength="9.51" lengthAdjust="spacingAndGlyphs">u</tspan>
<tspan x="30.32" y="-0.60" style="font-size: 15px; font-family: 'Liberation Sans', sans-serif" textLength="7.81" lengthAdjust="spacingAndGlyphs">s</tspan>
<tspan x="38.13" y="-0.60" style="font-size: 15px; font-family: 'Liberation Sans', sans-serif" textLength="7.81" lengthAdjust="spacingAndGlyphs">s</tspan>
<tspan x="45.95" y="-0.60" style="font-size: 15px; font-family: 'Liberation Sans', sans-serif" textLength="4.17" lengthAdjust="spacingAndGlyphs">i</tspan>
<tspan x="50.11" y="-0.60" style="font-size: 15px; font-family: 'Liberation Sans', sans-serif" textLength="9.19" lengthAdjust="spacingAndGlyphs">a</tspan>
<tspan x="59.31" y="-0.60" style="font-size: 15px; font-family: 'Liberation Sans', sans-serif" textLength="9.51" lengthAdjust="spacingAndGlyphs">n</tspan>
<tspan x="68.81" y="-0.60" style="font-size: 15px; font-family: 'Liberation Sans', sans-serif" textLength="4.77" lengthAdjust="spacingAndGlyphs"> </tspan>
<tspan x="73.58" y="-0.60" style="font-size: 15px; font-family: 'Liberation Sans', sans-serif" textLength="9.52" lengthAdjust="spacingAndGlyphs">d</tspan>
<tspan x="83.10" y="-0.60" style="font-size: 15px; font-family: 'Liberation Sans', sans-serif" textLength="9.19" lengthAdjust="spacingAndGlyphs">a</tspan>
<tspan x="92.29" y="-0.60" style="font-size: 15px; font-family: 'Liberation Sans', sans-serif" textLength="5.88" lengthAdjust="spacingAndGlyphs">t</tspan>
<tspan x="98.18" y="-0.60" style="font-size: 15px; font-family: 'Liberation Sans', sans-serif" textLength="9.19" lengthAdjust="spacingAndGlyphs">a</tspan>
<tspan x="107.37" y="-0.60" style="font-size: 15px; font-family: 'Liberation Sans', sans-serif" textLength="4.77" lengthAdjust="spacingAndGlyphs"> </tspan>
<tspan x="112.14" y="-0.60" style="font-size: 15px; font-family: 'Liberation Sans', sans-serif" textLength="12.27" lengthAdjust="spacingAndGlyphs">w</tspan>
<tspan x="124.40" y="-0.60" style="font-size: 15px; font-family: 'Liberation Sans', sans-serif" textLength="4.17" lengthAdjust="spacingAndGlyphs">i</tspan>
<tspan x="128.57" y="-0.60" style="font-size: 15px; font-family: 'Liberation Sans', sans-serif" textLength="5.88" lengthAdjust="spacingAndGlyphs">t</tspan>
<tspan x="134.45" y="-0.60" style="font-size: 15px; font-family: 'Liberation Sans', sans-serif" textLength="9.51" lengthAdjust="spacingAndGlyphs">h</tspan>
<tspan x="143.96" y="-0.60" style="font-size: 15px; font-family: 'Liberation Sans', sans-serif" textLength="4.77" lengthAdjust="spacingAndGlyphs"> </tspan>
<tspan x="148.73" y="-0.60" style="font-size: 15px; font-family: 'Liberation Sans', sans-serif" textLength="5.85" lengthAdjust="spacingAndGlyphs">(</tspan>
<tspan x="162.74" y="-0.60" style="font-size: 15px; font-family: 'Liberation Sans', sans-serif" textLength="4.77" lengthAdjust="spacingAndGlyphs">,</tspan>
<tspan x="178.81" y="-0.60" style="font-size: 15px; font-family: 'Liberation Sans', sans-serif" textLength="5.85" lengthAdjust="spacingAndGlyphs">)</tspan>
<tspan x="187.58" y="-0.60" style="font-size: 15px; font-family: 'Liberation Sans', sans-serif" textLength="12.57" lengthAdjust="spacingAndGlyphs">=</tspan>
<tspan x="203.07" y="-0.60" style="font-size: 15px; font-family: 'Liberation Sans', sans-serif" textLength="5.85" lengthAdjust="spacingAndGlyphs">(</tspan>
<tspan x="208.93" y="-0.60" style="font-size: 15px; font-family: 'Liberation Sans', sans-serif" textLength="9.54" lengthAdjust="spacingAndGlyphs">0</tspan>
<tspan x="218.47" y="-0.60" style="font-size: 15px; font-family: 'Liberation Sans', sans-serif" textLength="4.77" lengthAdjust="spacingAndGlyphs">.</tspan>
<tspan x="223.24" y="-0.60" style="font-size: 15px; font-family: 'Liberation Sans', sans-serif" textLength="9.54" lengthAdjust="spacingAndGlyphs">5</tspan>
<tspan x="232.78" y="-0.60" style="font-size: 15px; font-family: 'Liberation Sans', sans-serif" textLength="4.77" lengthAdjust="spacingAndGlyphs">,</tspan>
<tspan x="240.47" y="-0.60" style="font-size: 15px; font-family: 'Liberation Sans', sans-serif" textLength="9.54" lengthAdjust="spacingAndGlyphs">3</tspan>
<tspan x="250.01" y="-0.60" style="font-size: 15px; font-family: 'Liberation Sans', sans-serif" textLength="5.85" lengthAdjust="spacingAndGlyphs">)</tspan>
<tspan x="154.58" y="-0.60" style="font-style: oblique; font-size: 15px; font-family: 'Liberation Sans', sans-serif" textLength="8.16" lengthAdjust="spacingAndGlyphs">ζ</tspan>
<tspan x="170.43" y="-0.60" style="font-style: oblique; font-size: 15px; font-family: 'Liberation Sans', sans-serif" textLength="8.38" lengthAdjust="spacingAndGlyphs">ν</tspan>
</text>
</g>
</g>
<g id="text_59">
<text style="font-size: 15px; font-family: 'Liberation Sans', sans-serif; text-anchor: middle" x="766.08" y="13.68" transform="rotate(-0 766.08 13.68)" textLength="47.27" lengthAdjust="spacingAndGlyphs">MNIST</text>
</g>
</g>
<defs>
<clipPath id="pd9ea89037b">
<rect x="48.55" y="44.64" width="202.11" height="182.88"/>
</clipPath>
<clipPath id="p434e9dfe0e">
<rect x="292.63" y="44.64" width="202.11" height="182.88"/>
</clipPath>
<clipPath id="p81a03b5cd6">
<rect x="536.71" y="44.64" width="202.11" height="182.88"/>
</clipPath>
<clipPath id="p7153f48a37">
<rect x="780.79" y="44.64" width="202.11" height="182.88"/>
</clipPath>
</defs>
</svg>

</body></html>
